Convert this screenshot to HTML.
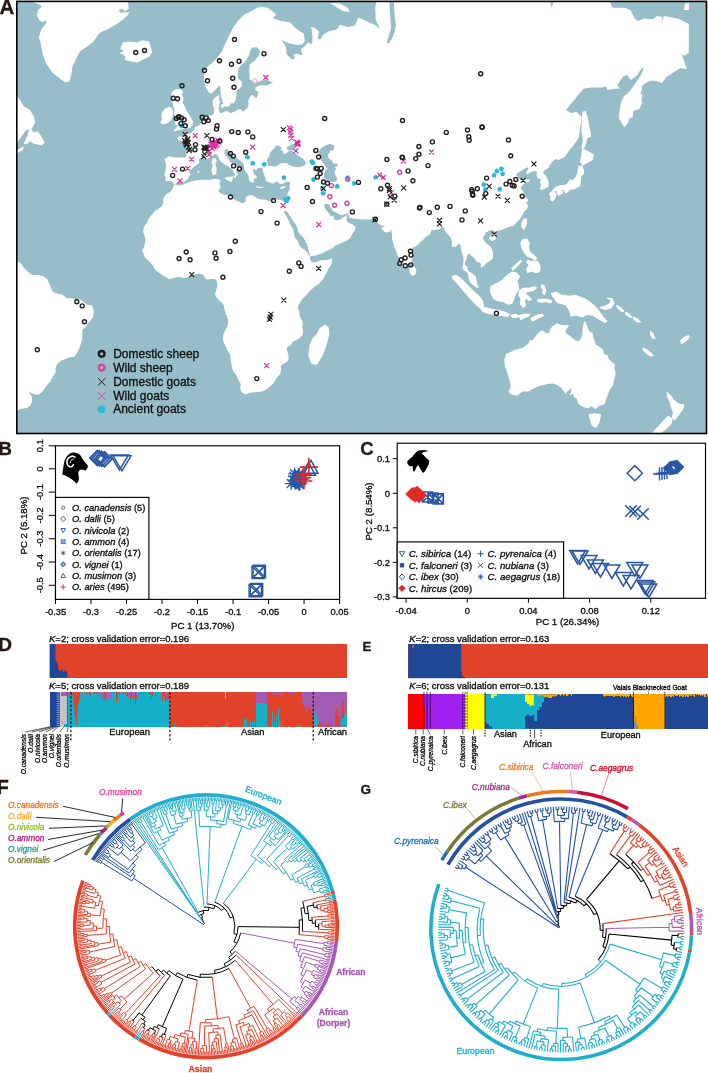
<!DOCTYPE html>
<html><head><meta charset="utf-8"><title>Figure</title>
<style>
html,body{margin:0;padding:0;background:#fff;}
svg{display:block;font-family:"Liberation Sans",Arial,Helvetica,sans-serif;}
text{fill:currentColor;stroke:currentColor;stroke-width:0.32px;}
</style></head><body>
<svg width="708" height="1073" viewBox="0 0 708 1073">
<rect width="708" height="1073" fill="#fff"/>
<defs><clipPath id="mapclip"><rect x="16.8" y="1.4" width="689.7" height="432.1"/></clipPath></defs>
<g clip-path="url(#mapclip)">
<rect x="16" y="1" width="691" height="433" fill="#97bdc9"/>
<path d="M209.6,93.3 206,88 204,79.7 204,71.1 208.2,66.3 213.7,61.4 217.9,57 222.1,51.1 224.8,44.4 227.6,38.8 230.4,33 233.1,27.8 238.7,20.1 244.2,14.5 251.1,11.2 256.7,7.8 262.2,6.9 267.8,7.8 273.3,12 276.1,14.5 273.3,18.5 281.6,20.9 289.9,22.4 296.8,29.3 303.8,33.8 304.9,41.6 307.6,42.3 312.1,44.4 312.6,37.4 311.5,28.6 310.1,27.1 314.9,27.8 319,31.6 317.6,38.8 320.4,39.5 323.2,34.5 328.7,31.6 337,29.3 339.8,24.8 348.1,27.1 355,25.5 357.8,18.5 359.2,17.7 367.5,21.7 373,24 375.8,25.5 379.9,29.3 375.8,20.1 375.2,7.8 377.2,-3.7 548.9,-3.7 551.7,7.8 555,-3.7 607.1,-3.7 612.6,7.8 625.1,7.8 630.6,10.3 634.8,18.5 637.6,20.9 644.5,18.5 652.8,19.3 656.9,16.1 662.5,16.9 661.1,24 663.9,16.1 669.4,16.9 677.7,18.5 683.3,20.9 688.8,24 688.8,52.4 684.6,55.7 681.9,54.4 686.9,69.3 680.5,68.1 673.6,72.2 666.6,76.9 661.9,83.1 655.6,80.8 650,80.8 645.9,83.1 642.5,85.2 641.7,90.6 640.3,94.3 642.5,94.3 641.2,100.9 642.5,102.4 638.9,109.3 633.4,110.7 632.8,116.8 629.2,118.7 627.9,123.2 624.3,127.2 618.5,117.5 619.8,110 621,102.5 624,96.2 629.8,91.2 636,82.5 641,75 643.5,68.8 642.2,67.5 637.2,75 631,80 627.2,75 623.5,76.2 617.2,85 619.8,88.8 613.5,88.8 607.2,90 606,86.2 602.2,87.5 591,87.5 583.5,88.8 577.2,96.2 571,103.8 566,110 571.1,113.1 576.6,112.1 581.6,116.4 581.3,121.4 580.2,126.7 579.4,133.2 578.8,137.5 573.8,144.9 568.3,151.6 565,156.7 558.6,160.1 555.6,158.9 552.2,162 549.7,164.9 548.4,167.9 543.7,171.1 543.1,173.3 545.9,175.8 547.3,178.3 548.6,182.8 548.6,186.2 547.5,187.6 543.9,188.9 540.6,190.3 540.1,187.9 540.9,184.5 539.8,181.4 541.2,179.3 537.8,178.3 536.5,175.8 537,172.2 534.8,170.8 530.9,171.9 527,174.4 526.2,172.2 528.7,168.2 527.6,167.2 524.8,168.6 521.5,170.8 517.1,173.3 516.2,175.1 518.4,177.6 520.1,179 519.8,180.4 522.6,179.3 526.5,179 529.5,179.7 529.5,181.4 525.4,182.8 523.4,184.1 521.2,186.9 520.7,188.9 523.4,191.3 524.8,194.6 525.4,197.2 527.9,198.8 527.9,201.4 525.4,202.7 527.6,204.3 527.9,206.9 526.8,209.1 524.5,211.3 522.6,214.4 521.5,216.9 519.8,219.3 517.3,221.8 514.8,224.2 512.9,226 508.8,226.9 506.5,228.1 504.6,228.4 501.8,229.9 499.1,230.5 496.3,231.1 496,233.8 494.3,233.8 494.3,230.8 492.1,230.2 489.4,230.5 486,232.6 485.2,234.4 483.5,236.4 483,238.8 484.9,241.4 487.4,244.3 490.2,246.3 492.1,249.5 493,253.8 493,258 490.7,260.3 488,262.3 486,263.1 485.2,265.1 481.9,267.3 480.5,267.3 481.1,264.2 479.7,262.5 476.9,262 475.5,260 474.1,257.7 471.4,256 469.7,254 468,253.8 467.2,255.7 466.9,258.6 465,262 465,265.6 466.9,265.9 467.5,268.1 468.6,271.2 470.8,272.3 473.3,274.3 475.8,276.5 476.6,280.4 476.9,283.7 478.8,287.3 477.4,287.9 474.1,286 471.1,283.5 469.1,280.4 468.3,276.2 467.8,273.5 465.8,271.5 462.8,269.5 462.5,266.5 463.3,263.7 463.6,258.9 463.3,256.6 461.9,252.9 461.1,249.5 460.6,245.2 458.9,243.7 457.5,244.9 454.7,247.2 451.7,246.6 452,242.3 451.1,238.5 449.2,235.5 447.3,234.1 445,231.1 444.2,227.8 441.2,227.2 440.3,229.3 436.7,229.6 434,229.9 431.2,230.5 430.6,233.5 428.4,235.2 425.6,237 422.9,239.9 420.1,242.3 418.2,244.6 415.4,246.6 412.6,247.7 412.1,250.9 412.6,254.6 411.8,258 411.5,262.5 409.9,263.1 409,265.3 407.4,266.5 406.5,268.1 404.9,269 402.9,267 401.3,263.7 399.9,259.4 397.7,255.7 396.3,251.5 394.6,248 393.2,243.7 392.1,238.5 391.9,234.9 391.6,231.4 391,228.7 390.2,231.4 388.3,232.3 385.5,232.6 381.9,229.6 381.3,227.8 384.9,226.3 384.1,225.7 380.8,225.4 379.1,223.9 377.2,223.3 375.8,220.6 374.4,218.7 369.4,219.3 363,219.6 359.2,219.3 353.6,218.7 349.5,217.8 348.1,214.4 346.7,213.2 346.6,215.6 346.7,218.1 346.4,219.9 347.3,221.8 349.5,223.3 352.5,224.2 355.8,227.5 354.5,230.8 352.5,233.8 350.3,237.9 346.7,240.8 343.4,242 339.8,243.7 335.1,245.7 331.5,248.9 326.2,250.9 321.8,253.5 314.9,255.7 310.7,256 310.1,256.9 309.9,259.1 312.1,262.3 314.9,262.5 320.4,260.6 326.5,260 332.3,258.3 332,262.3 330.9,265.6 328.1,269.3 325.9,274 323.2,279 319,283.7 315.7,286 310.7,290.1 307.9,292.9 305.2,296.2 303.2,298.1 301.3,300.4 299.9,302.9 298.5,305.6 297.7,308.4 299.3,310.7 299.3,313.7 299.9,316.5 301.8,320.2 302.7,322.2 302.4,327.3 303.2,332.1 302.4,335 300.4,337.6 296.8,339.9 292.7,341.9 290.8,344.8 288,346.6 286.6,348.1 287.7,352.5 288.5,355.5 288.5,359.7 287.1,361.8 283,364 280.8,365.8 281.3,369.2 280.2,373.9 277.5,376.8 275.8,379.3 273.9,382.5 270.5,386.1 267.5,388.4 263.6,391.1 261.1,391.7 256.7,392.1 251.4,392.4 245.6,394.4 242.6,393.1 241.2,391.4 240.1,387.8 240.9,384.2 238.1,379.6 235.9,374.2 233.1,370.8 232,367.4 231.2,363.1 230.4,357 229.8,354 227,349.5 224.8,344.5 222.9,340.2 222.9,336.4 224.3,332.1 227,327.3 228.4,322.2 227.6,317.9 226.5,315.7 225.1,310.9 224,308.1 224,305.4 222.1,303.1 219.3,300.4 216.5,297.6 214.9,294.3 216,291.5 216.5,288.7 217.3,286 217.3,282.6 216.5,280.7 214.9,279 212.4,279 209.6,279.3 206.8,279.6 204.9,277.6 202.7,274.3 199.6,273.7 195.7,274 193,275.1 188.8,276.8 184.7,278.2 181.9,277.4 177.7,277.1 173.6,277.9 169.4,279.3 165.3,277.1 160.3,273.7 157.5,271.5 154.7,269.3 153.4,266.5 151.4,263.7 148.6,260.8 145.3,258 143.7,254.3 142,250.3 143.7,248 144.5,245.2 145.6,240.8 145,236.4 143.1,232 143.7,228.1 145.9,223.9 148.1,220.6 150,216.6 152.8,213.8 154.5,211 158.3,209.1 161.9,206.2 163.3,203 163.1,199.5 164.4,196.6 167.2,193.6 169.4,192.6 171.4,190.9 173,187.6 173.9,185.2 174.7,184.3 172.7,182.4 170.8,180.4 168.3,181 165.5,181 165.8,177.6 164.2,175.1 165.3,172.2 165.8,168.6 166.1,164.9 165.5,162.3 164.4,159.3 167.2,157.4 168.3,156.3 172.2,157 176.3,157.4 180.5,157.4 185.2,157.8 186.3,155.5 186.9,151.6 187.2,148.5 186.6,146.5 184.4,144.1 183.3,142 180.5,140.8 177.7,140 176.9,137.9 179.1,136.6 181.9,136.2 184.7,137.1 186,136.6 185.5,132.8 186.9,132.8 187.4,134.1 190.5,133.2 193,131.1 194.6,129.4 194.9,127.2 197.1,126.3 199.9,125 201.3,122.3 203.2,118.2 205.4,116.4 209.6,115.4 212.4,115 214,113.1 214.3,108.8 212.9,105.9 212.6,100.9 214,97.9 217.3,95.9 219.6,94.8Z M32,1.5 37.5,3.8 42,6.2 38,10 36.8,15.5 39.5,20.5 43,22 46.2,20 45.8,23.8 41.2,29.5 38.8,37.5 40.8,43.8 42.5,53.8 46.2,63.8 52.5,72.5 60,78.8 65.5,82.5 69.5,81.2 71.2,75 72.5,66.2 76.2,58.8 80,51.2 87.5,46.2 93.8,41.2 98.8,33.8 102.5,31.2 108.8,28.8 115,25 122.5,20 127.5,15.5 129.5,12 126.2,12.5 120,12.5 118.8,10 122.5,8.8 125,11.2 128.8,8.8 128,1.5Z M123.2,43 130,42 136.2,43 142.5,40.8 148.8,42 150,46.2 151.8,51.2 149.2,56.2 143.8,58.8 137.5,62 130,60.8 125,59.5 126.2,56.2 120.5,53 125,51.2 120.8,48.8Z M14,96.25 17,96.25 20,100 23.75,106.25 30,110 33.75,116.25 35,122.5 32,128.75 26.25,130 22.5,135 18.75,140 17,143.75 14,143.75Z M23.75,143.75 27,136.25 30,127.5 33.75,132.5 37.5,131.25 41.25,136.25 44.5,142.5 42,145.5 37.5,144.5 33.75,143.75 30,141.25 26.25,144.5Z M14,150 17,150 23.75,146.25 23,150 17.5,153 14,153Z M172.6,91.2 176.1,89.1 180.4,89.1 183.2,91.2 181.8,94.7 183.9,98.2 182.5,102.5 184.6,106 186.7,111 189.5,115.2 191.7,118.7 193.1,122.3 192.4,125.8 190.3,127.9 187.4,128.6 183.2,129.3 179,130 175.4,131.4 173.3,130.7 176.1,127.9 178.2,125.8 175.4,124.4 174.7,121.6 176.1,118 174,113.8 174.7,110.3 173.3,106.7 172.6,102.5 171.9,97.5 171.2,94Z M162,112.4 164.8,108.8 169.1,106.7 171.9,108.1 173.3,111.7 172.6,115.9 171.2,120.1 167.7,123 163.4,124.4 160.2,123 162,119.4 161.3,115.9Z M330,3 339.5,3.5 347.5,7.5 350,11.8 344,11.5 337,7.5Z M684.8,3.8 689,3 689,10 684,10Z M12.9,260.8 18.5,261.7 21.2,263.7 24,267.9 28.2,272.1 32.3,274.9 37.8,275.1 43.4,276.2 47.5,279.6 50.3,286 51.7,290.1 53.1,292.1 57.2,293.4 62.8,294.8 66.9,298.4 71.1,298.1 75.2,299.5 79.4,299.3 83.6,301.8 87.2,304.8 91.9,305.6 93.2,308.1 93.8,312.3 93.2,316.5 90.5,320.7 87.7,323.6 85.5,327.3 82.7,329.2 82.2,333.5 82.2,339.3 80.8,343.7 79.4,348.1 77.2,352.5 75.2,355.5 73.9,357 69.7,357.3 65.5,359.1 61.4,360.6 57.2,364 55.6,367.7 55.6,372.3 53.1,376.1 50.3,381.2 47.5,384.5 45.3,387.4 42,391.7 39.2,394.4 35.1,394.4 32.3,393.4 28.4,391.7 31.8,396.8 32.3,400.2 30.6,405.4 26.8,407.9 19.8,409 17.6,410.8 12.9,415.5Z M319.5,328.3 325.1,324.6 328.5,326.9 329.4,334 326.6,345.3 322.3,356.6 316.7,365 311,363.6 308.2,355.1 309.6,345.3 312.4,338.2 316.7,334Z M409.8,267.1 413.2,266.3 415.8,269.7 415.4,273.9 412.4,275.6 410.3,273.1Z M582.3,148.8 586.6,150.8 593.3,154.6 592.6,159.6 587.3,162.4 582.8,165.2 580.5,161.4 582,154.6Z M581.6,165.3 583.5,170.4 583.3,174 580.8,176.5 580.5,181 579.9,184.5 580.2,185.5 578,187.2 577.4,186.9 574.4,188.9 569.7,189.2 569.1,190.3 566.4,192.9 564.4,191.6 564.7,189.2 561.4,189.2 557.2,190.6 553.1,191.3 552.8,190.3 555.8,187.2 559.4,185.9 564.1,185.5 566.9,184.5 568.9,181.7 570.5,179.3 569.7,181.7 573.8,179.7 576.3,176.9 577.7,172.9 578,170.4 578.8,166 580.5,166.8Z M552.8,191.6 555,192.6 555.8,195.2 554.2,199.8 552.2,201.1 550.9,200.1 550.9,196.2 549.5,194.6 550.3,192.6Z M582.3,111.9 585.8,110.6 587.8,118.1 589.8,128.2 591.1,137 587.3,138.3 585.8,144.5 584,148.8 581.5,147.6 582.8,139.5 581.3,130.7 581.8,120.7Z M490.3,236.3 494.6,235.4 495.4,238.8 492,240.5 489.5,238.8Z M524.2,218.5 526.8,219.3 526.3,224.4 523.9,229.5 521.7,226.9 522.2,221.9Z M522.5,239.7 526.8,238.8 529.3,243.1 528.5,248.1 530.2,252.4 533.6,254.9 536.9,258.3 535.3,260 531,257.5 527.6,256.6 524.2,252.4 521.7,247.3 520.8,243.1Z M527.6,260 531,261.7 534.4,260.8 537.8,261.7 540.3,266.8 539.5,271.9 535.3,272.7 531,271 527.6,272.7 526.8,268.5 529.3,265.1 526.8,262.5Z M511.5,268.5 520.8,260 521.7,261.4 513.2,270.2Z M451.9,276.3 456.1,275.4 460.3,278 465.4,283.1 470.5,288.1 474.7,292.4 479,295.8 482.4,300.8 483.7,306.8 480.7,308.5 476.4,305.1 472.2,300.8 467.1,294.9 462,289 456.9,283.1 453.6,279.7Z M480.7,308.5 484.9,307.6 490.8,309 497.6,310.2 504.4,311.9 509.5,314.4 507.8,316.4 501,315.3 494.2,314.4 488.3,313.6 483.2,311.9Z M511.2,315.3 515.4,314.4 519.7,315.8 516.3,317.5 512,316.9Z M519.7,315.3 524.7,314.1 529.8,314.1 529,316.1 523.9,317.8 521,319.8 519.7,317.8Z M530.7,318.6 536.6,315.3 542.5,314.1 543.4,315.8 537.5,318.6 532.4,321.2Z M490.8,286.4 495.9,283.9 501.9,280.5 506.9,275.4 512,272 516.3,272.9 519.7,276.3 517.1,280.5 518,285.6 518.8,289.8 515.4,294.1 513.7,299.2 512,303.4 507.8,304.2 503.6,301.7 498.5,300.8 494.2,299.2 491.7,294.9 490.3,290.7Z M519.7,290.7 523.1,288.1 529.8,288.1 534.9,286.4 536.6,288.1 533.2,290.7 528.1,291.5 524.7,293.2 528.1,295.8 531.5,299.2 529,300.8 526.4,298.3 524.4,300.8 525.6,305.9 523.1,307.6 520.5,304.2 521,299.2 518.8,294.9Z M541.7,284.7 544.2,285.6 545.9,290.7 544.2,294.9 542.5,292.4 543.4,289.8 541.4,288.1Z M537.5,300 541.7,299.2 546.8,299.2 551.9,300.8 551,302.9 545.9,301.7 540.8,302.2 538,301.7Z M551,293.8 556,292 561,295 568.5,296.2 576,295.5 584.8,298.8 592.2,303.8 597.2,308.8 599.8,312.5 603.5,317.5 607.2,321.2 604.8,322.5 598.5,318.8 592.2,315 587.2,314.5 582.2,317 576,315 571,316.2 569.8,311.2 566,305 562.2,303.8 557.2,302.5 553.5,297.5Z M599.8,307.5 604.8,306.2 609.8,303.8 611,300 607.2,298 612.2,298.8 614,303.8 611,308 604.8,309.5Z M616.5,305.5 621,307.5 624,311.2 621,311.2 618,308.8Z M625.5,312 629.8,314.5 632.2,317.5 629,317 626,314.5Z M633,317 637.2,318.8 640.5,322 637.2,322 634,319.5Z M650.5,331.2 653,333.8 654.8,338.8 652.2,338 650.5,334.5Z M643,348 646.5,349.5 651,353 653.5,355.5 650.5,356.2 646,353 643,350Z M680.5,340.5 684,337.5 688.5,335.5 689,338 685.5,341.2 681.5,343.8Z M506.3,353.4 504.6,358.5 504.3,361.5 505.1,367 506.5,370.8 508.5,377.1 510.1,381.9 510.7,386.8 508.8,390.4 509,393.1 512.9,395.1 517.1,395.4 522.6,391.4 528.1,391.4 533.7,388.4 539.2,386.1 544.8,384.8 548.9,383.8 553.1,383.5 557.2,385.1 561.4,387.8 565.5,394.1 566.9,391.7 571.1,388.4 571.9,387.1 571.1,391.7 569.7,395.8 573.3,393.4 573.8,397.1 576.6,398.5 578,403 580.8,405.8 584.9,407.6 588.5,408.3 591.3,406.1 593.2,407.6 595.7,409.3 598.8,406.1 604.3,404.4 605.7,400.2 607.9,395.1 609.3,390.7 612.6,385.8 614,380.3 615.7,373.9 614.6,369.2 614.6,364.6 611.2,361.5 608.5,358.5 607.9,355.5 604.3,354 602.9,349.5 598.8,346.3 595.5,344.5 594.6,340.7 593,336.4 592.7,333 589.1,331.5 587.7,327.3 585.8,322.2 584.9,321.3 583.5,323.6 582.7,327.3 582.4,330.7 582.2,335 580.5,339.3 578,341.3 575.2,340.2 572.5,338.1 569.7,335.8 566.4,333.5 565.5,330.7 566.9,328.4 569.1,325.6 566.9,325 564.1,325.3 560,324.4 557.2,323 554.5,325 552.5,326.1 550.3,329.2 548.9,333.2 546.1,333 543.4,330.7 540.6,330.7 537.8,333.5 535.1,337 532.3,340.2 529,340.7 528.7,343.1 526.8,345.1 522.6,347.8 518.4,348.9 514.3,350.1 510.1,352.2 507.6,353.4Z M589,414.5 594.8,413.8 600.5,414.5 599,422.5 596,427.5 592.2,425.5 590.5,420Z M667.2,392.5 670.5,395 673.5,400 678.5,403.8 684,405 682.2,410 678.5,415 674.8,420 672.2,417.5 673.5,412.5 671.5,407.5 669.8,401.2 667.2,396.2Z M668,416.2 672.2,418.8 671,423.8 666,428.8 661,432.5 657.2,435 650.5,435 656,428.8 661,423.8 664.8,419.5Z M557.2,191.3 561.4,190.3 563.3,191.9 561.9,193.6 558.6,195.2 556.9,193.6Z" fill="#fff"/>
<path d="M581.6,165.3 583.5,170.4 583.3,174 580.8,176.5 580.5,181 579.9,184.5 580.2,185.5 578,187.2 577.4,186.9 574.4,188.9 569.7,189.2 569.1,190.3 566.4,192.9 564.4,191.6 564.7,189.2 561.4,189.2 557.2,190.6 553.1,191.3 552.8,190.3 555.8,187.2 559.4,185.9 564.1,185.5 566.9,184.5 568.9,181.7 570.5,179.3 569.7,181.7 573.8,179.7 576.3,176.9 577.7,172.9 578,170.4 578.8,166 580.5,166.8Z M552.8,191.6 555,192.6 555.8,195.2 554.2,199.8 552.2,201.1 550.9,200.1 550.9,196.2 549.5,194.6 550.3,192.6Z M557.2,191.3 561.4,190.3 563.3,191.9 561.9,193.6 558.6,195.2 556.9,193.6Z M451.9,276.3 456.1,275.4 460.3,278 465.4,283.1 470.5,288.1 474.7,292.4 479,295.8 482.4,300.8 483.7,306.8 480.7,308.5 476.4,305.1 472.2,300.8 467.1,294.9 462,289 456.9,283.1 453.6,279.7Z M480.7,308.5 484.9,307.6 490.8,309 497.6,310.2 504.4,311.9 509.5,314.4 507.8,316.4 501,315.3 494.2,314.4 488.3,313.6 483.2,311.9Z M490.8,286.4 495.9,283.9 501.9,280.5 506.9,275.4 512,272 516.3,272.9 519.7,276.3 517.1,280.5 518,285.6 518.8,289.8 515.4,294.1 513.7,299.2 512,303.4 507.8,304.2 503.6,301.7 498.5,300.8 494.2,299.2 491.7,294.9 490.3,290.7Z M519.7,290.7 523.1,288.1 529.8,288.1 534.9,286.4 536.6,288.1 533.2,290.7 528.1,291.5 524.7,293.2 528.1,295.8 531.5,299.2 529,300.8 526.4,298.3 524.4,300.8 525.6,305.9 523.1,307.6 520.5,304.2 521,299.2 518.8,294.9Z M522.5,239.7 526.8,238.8 529.3,243.1 528.5,248.1 530.2,252.4 533.6,254.9 536.9,258.3 535.3,260 531,257.5 527.6,256.6 524.2,252.4 521.7,247.3 520.8,243.1Z M527.6,260 531,261.7 534.4,260.8 537.8,261.7 540.3,266.8 539.5,271.9 535.3,272.7 531,271 527.6,272.7 526.8,268.5 529.3,265.1 526.8,262.5Z M511.5,268.5 520.8,260 521.7,261.4 513.2,270.2Z M541.7,284.7 544.2,285.6 545.9,290.7 544.2,294.9 542.5,292.4 543.4,289.8 541.4,288.1Z M537.5,300 541.7,299.2 546.8,299.2 551.9,300.8 551,302.9 545.9,301.7 540.8,302.2 538,301.7Z M530.7,318.6 536.6,315.3 542.5,314.1 543.4,315.8 537.5,318.6 532.4,321.2Z M511.2,315.3 515.4,314.4 519.7,315.8 516.3,317.5 512,316.9Z M519.7,315.3 524.7,314.1 529.8,314.1 529,316.1 523.9,317.8 521,319.8 519.7,317.8Z M667.2,392.5 670.5,395 673.5,400 678.5,403.8 684,405 682.2,410 678.5,415 674.8,420 672.2,417.5 673.5,412.5 671.5,407.5 669.8,401.2 667.2,396.2Z M668,416.2 672.2,418.8 671,423.8 666,428.8 661,432.5 657.2,435 650.5,435 656,428.8 661,423.8 664.8,419.5Z M599.8,307.5 604.8,306.2 609.8,303.8 611,300 607.2,298 612.2,298.8 614,303.8 611,308 604.8,309.5Z M616.5,305.5 621,307.5 624,311.2 621,311.2 618,308.8Z M625.5,312 629.8,314.5 632.2,317.5 629,317 626,314.5Z M633,317 637.2,318.8 640.5,322 637.2,322 634,319.5Z M643,348 646.5,349.5 651,353 653.5,355.5 650.5,356.2 646,353 643,350Z M650.5,331.2 653,333.8 654.8,338.8 652.2,338 650.5,334.5Z M680.5,340.5 684,337.5 688.5,335.5 689,338 685.5,341.2 681.5,343.8Z M524.2,218.5 526.8,219.3 526.3,224.4 523.9,229.5 521.7,226.9 522.2,221.9Z M490.3,236.3 494.6,235.4 495.4,238.8 492,240.5 489.5,238.8Z M551,293.8 556,292 561,295 568.5,296.2 576,295.5 584.8,298.8 592.2,303.8 597.2,308.8 599.8,312.5 603.5,317.5 607.2,321.2 604.8,322.5 598.5,318.8 592.2,315 587.2,314.5 582.2,317 576,315 571,316.2 569.8,311.2 566,305 562.2,303.8 557.2,302.5 553.5,297.5Z M409.8,267.1 413.2,266.3 415.8,269.7 415.4,273.9 412.4,275.6 410.3,273.1Z M123.2,43 130,42 136.2,43 142.5,40.8 148.8,42 150,46.2 151.8,51.2 149.2,56.2 143.8,58.8 137.5,62 130,60.8 125,59.5 126.2,56.2 120.5,53 125,51.2 120.8,48.8Z M582.3,148.8 586.6,150.8 593.3,154.6 592.6,159.6 587.3,162.4 582.8,165.2 580.5,161.4 582,154.6Z M589,414.5 594.8,413.8 600.5,414.5 599,422.5 596,427.5 592.2,425.5 590.5,420Z" fill="#fff" stroke="#fff" stroke-width="1" stroke-linejoin="round"/>
<path d="M209.6,93.3 212.4,92.7 215.1,90.1 217.1,88 219.3,85.2 220.4,87.4 220.4,90.6 220.7,93.3 221.2,96.4 222.3,100.9 223.2,103.4 224.3,106.4 229.5,106.4 229.8,103.4 234,102.9 235.6,99.9 236.5,94.8 236.7,90.1 239.5,88.5 242.3,85.2 241.7,81.4 238.1,78.6 237.8,72.8 238.7,68.1 241.4,65.1 245.6,60.7 248.9,55.7 250,51.1 251.7,47.8 256.7,47.1 260.3,51.1 258.6,56.3 254.5,60.7 249.8,64.5 249.2,71.1 249.8,75.7 249.5,79.1 252.5,81.4 253.9,83.1 258.1,81.9 262.2,80.3 267.2,79.7 270.5,81.4 273.3,82.8 270.5,83.6 267.8,85.2 262.2,85.2 258.6,85.8 255.3,87.4 255.3,90.1 258.1,91.7 257.5,95.9 256.7,97.9 254.5,96.9 252.8,94.8 250.3,95.9 248.4,99.9 248.6,104.9 247.5,107.8 245.3,109.8 243.7,111.2 242,111.2 241.2,109.3 237.3,109.8 234.5,111.7 230.4,113.1 227.6,111.2 224.8,111.2 222.1,113.1 220.4,113.1 219,110.7 218.5,108.8 219.3,105.9 219.3,103.4 220.1,101.4 219,99.9 219.3,97.4 219.6,94.7Z M304.9,40.9 302.4,44.4 296.8,45.1 288.5,43 281.6,40.2 280.2,38.1 283.5,43 286,47.1 286.6,53.7 288.5,56.3 292.1,59.5 294.9,58.2 293.5,54.4 296.8,53.7 300.4,55 302.4,55 301,49.1 305.4,45.7 307.6,42.3 306.5,38.8Z M389.1,-3.7 393.5,-3.7 394.6,16.1 396,25.5 394.6,31.6 391.9,38.8 388.5,43.7 386.6,42.3 389.1,35.2 391,27.8 390.2,16.1 389.6,7.8Z M174.7,184.5 175.5,183.8 178,182.1 181.9,182.1 184.1,182.1 185.8,180 188,179 188.8,176.5 190.8,175.1 189.4,172.2 190.8,169.7 192.7,167.9 194.4,166.4 196.3,165.3 199.1,163.5 199.3,162 198.5,160.1 199.9,158.2 201.8,157.4 205.2,158.2 206.8,158.9 208.8,158.6 210.4,156.7 212.9,155.5 214.9,154 217.3,155.1 218.7,157.4 219.3,159.7 220.9,161.6 224,163.8 226.2,165.7 228.4,166 229.5,167.5 231.2,168.2 232.6,170.4 233.7,172.2 234.8,174 234.5,175.8 233.7,177.6 234.8,177.9 235.9,176.5 237.8,174 236.2,171.5 237,169 238.1,168.6 240.1,170.4 241.2,171.1 241.4,170.1 240.1,168.2 237,166.4 234.5,164.9 235.1,163.5 232.3,163.5 229.5,161.2 227.9,157.4 225.1,155.1 224.3,153.6 224.8,151.6 224.3,150.1 226.2,148.9 228.4,149.3 227.6,152 229.8,150.4 231.8,153.6 233.1,155.9 235.6,157.4 238.7,159.3 240.9,161.2 242.8,162.7 244.2,164.9 243.9,169 245.6,171.5 247.5,174 248.9,176.5 248.6,179 250.3,181.7 252.2,182.8 253.4,181.7 254.5,183.1 253.6,179.7 255.3,177.9 256.7,178.6 256.7,176.5 253.9,174 253.4,172.2 252.8,169.3 253.9,169 256.1,170.4 257.5,168.2 260.8,167.5 262.8,168.6 262.8,170.4 262.8,172.2 264.4,174 264.4,176.1 265.5,178.3 266.1,181 268.3,182.1 270.8,182.8 272.5,183.8 274.7,182.8 275.5,181.4 277.5,182.1 279.7,183.8 281.6,184.1 284.4,183.1 286.6,181.7 289.4,182.1 290.2,183.5 289.4,186.2 289.6,188.9 288.5,191.6 287.1,195.2 286.3,197.9 285.2,199.8 283,200.8 279.7,200.1 277.5,199.5 274.7,199.5 273,200.5 269.1,201.1 265.5,199.8 260,199.2 256.7,197.9 254.5,196.2 251.1,194.9 248.4,195.6 245.6,197.5 245.6,201.1 244.2,203 241.4,203 238.7,201.4 235.9,200.5 233.1,198.5 232,196.6 229,195.6 226.8,194.9 223.4,194.6 220.7,193.3 218.5,191.6 218.5,189.9 220.4,188.2 220.4,185.9 219.3,183.8 220.7,180.4 218.7,179.3 216.5,179 213.7,179.3 209.6,179.7 204,179.7 198.5,180 194.4,180.7 190.2,181.7 187.4,182.8 183.3,184.5 179.1,185.5 175.5,184.8 174.7,184.7Z M267.8,166 270.5,166 274.7,166.4 277.5,165.7 280.2,163.5 283,163.1 287.1,163.1 287.7,164.2 291.3,165.7 294.1,166.8 296.8,167.2 301,166.8 305.2,164.9 305.7,162 303.8,159.3 299.6,156.7 296.8,154.4 294.1,152.8 291.9,150.8 288.5,151.2 287.7,152.4 284.4,154 283,153.2 283,150.8 280.2,150.1 282.2,147.7 278.8,145.7 276.1,145.3 274.7,147.7 272.5,150.1 270,152.4 269.4,156.3 267.5,158.6 266.9,161.2 267.8,163.5Z M291.9,150.4 294.1,150.1 295.5,147.7 298.2,143.7 296,143.2 292.7,144.1 289.9,145.3 287.1,146.9 287.1,149.3 288.5,150.4Z M318.7,151.6 321.5,147.7 325.7,145.3 330.1,144.1 334.2,145.3 333.7,150.1 329.8,150.8 329.3,153.6 327.6,154.4 328.7,158.6 331.5,160.1 333.4,163.5 337.6,163.8 337.6,166.4 334.2,166.8 336.5,168.6 334.8,170.4 334.8,174 336.7,177.6 337,180.4 334.8,181.7 330.9,182.1 327,179.7 324.3,179 324,176.1 324.3,172.9 325.4,169.7 327.9,169 325.7,166.8 323.7,163.8 320.9,160.1 319.8,157.4 320.1,154.4 318.2,153.2Z M283.8,211 285.8,211 287.7,212.5 290.8,216.9 293,220.9 296,224.5 297.7,229 298,232 300.7,234.9 303.2,237.6 305.7,241.4 307.4,245.2 308.5,249.5 309.6,253.8 310.4,256 309.9,256.3 309,254.9 307.1,252 304.3,249.8 301.6,248 299.9,246.6 298.8,243.7 297.4,240.2 294.9,237.9 294.1,234.6 293.8,231.1 293,228.7 289.9,224.2 289.1,221.8 286.9,217.2 284.7,213.5Z M346.4,213.5 343.9,214.4 341.2,215 338.4,214.1 335.6,212.2 332.9,211 330.9,207.8 329.3,204.6 327.3,204 325.4,203.7 324.3,205 324.3,206.6 325.4,208.8 326.8,211 328.4,212.8 329.8,214.1 330.4,215.6 330.9,217.2 331.5,216.3 332.3,215.3 333.4,216.6 333.7,218.7 335.3,219.9 337.6,219.9 339.8,219.6 341.4,218.7 343.4,217.2 345.3,216 346.2,215.3 346.7,214.6 348.1,215.6 347.8,213.8Z" fill="#97bdc9"/>
<path d="M224.8,177.6 227.3,176.9 233.4,176.5 232.3,180 232,182.1 230.1,181.4 226.2,179.7 224.8,178.6Z M212.5,158.5 215.5,158 216.6,161 215.4,164.3 216.6,168 216.4,173.5 214.5,175.2 212,174.2 211.4,170 212.6,165.8 211.5,162Z M255.6,186.2 258.1,186.5 260.8,186.9 263.1,187.2 262.8,187.9 259.4,188.1 256.7,187.2 255.6,186.9Z M279.7,187.9 281.6,186.7 285.8,185.7 284.4,187.9 281.6,189.1 279.9,188.7Z M196.8,171.9 199.1,170.6 199.6,171.9 198.5,172.9Z M221.2,104.4 223.7,103.9 224,106.4 222.6,108.3 220.9,106.9Z" fill="#fff"/>
</g>
<text x="-1.8" y="454.6" font-size="19" font-weight="bold" color="#231815">B</text>
<rect x="55.5" y="445.8" width="284.1" height="153.6" fill="#fff" stroke="#000" stroke-width="1.15"/>
<text x="55.5" y="614.6" font-size="9.3" text-anchor="middle" color="#0d0d0d">-0.35</text>
<text x="91.01" y="614.6" font-size="9.3" text-anchor="middle" color="#0d0d0d">-0.3</text>
<text x="126.52" y="614.6" font-size="9.3" text-anchor="middle" color="#0d0d0d">-0.25</text>
<text x="162.03" y="614.6" font-size="9.3" text-anchor="middle" color="#0d0d0d">-0.2</text>
<text x="197.54" y="614.6" font-size="9.3" text-anchor="middle" color="#0d0d0d">-0.15</text>
<text x="233.05" y="614.6" font-size="9.3" text-anchor="middle" color="#0d0d0d">-0.1</text>
<text x="268.56" y="614.6" font-size="9.3" text-anchor="middle" color="#0d0d0d">-0.05</text>
<text x="304.07" y="614.6" font-size="9.3" text-anchor="middle" color="#0d0d0d">0</text>
<text x="339.58" y="614.6" font-size="9.3" text-anchor="middle" color="#0d0d0d">0.05</text>
<text x="43.3" y="445.8" font-size="9.3" text-anchor="middle" color="#0d0d0d" transform="rotate(-90 43.3 445.8)">0.1</text>
<text x="43.3" y="468.8" font-size="9.3" text-anchor="middle" color="#0d0d0d" transform="rotate(-90 43.3 468.8)">0</text>
<text x="43.3" y="492.1" font-size="9.3" text-anchor="middle" color="#0d0d0d" transform="rotate(-90 43.3 492.1)">-0.1</text>
<text x="43.3" y="515.4" font-size="9.3" text-anchor="middle" color="#0d0d0d" transform="rotate(-90 43.3 515.4)">-0.2</text>
<text x="43.3" y="538.7" font-size="9.3" text-anchor="middle" color="#0d0d0d" transform="rotate(-90 43.3 538.7)">-0.3</text>
<text x="43.3" y="562" font-size="9.3" text-anchor="middle" color="#0d0d0d" transform="rotate(-90 43.3 562)">-0.4</text>
<text x="43.3" y="585.3" font-size="9.3" text-anchor="middle" color="#0d0d0d" transform="rotate(-90 43.3 585.3)">-0.5</text>
<path d="M55.5,599.4v4.6M91.01,599.4v4.6M126.52,599.4v4.6M162.03,599.4v4.6M197.54,599.4v4.6M233.05,599.4v4.6M268.56,599.4v4.6M304.07,599.4v4.6M339.58,599.4v4.6M55.5,445.8h-6.8M55.5,468.8h-6.8M55.5,492.1h-6.8M55.5,515.4h-6.8M55.5,538.7h-6.8M55.5,562h-6.8M55.5,585.3h-6.8" stroke="#000" stroke-width="1" fill="none"/>
<text x="26.5" y="525.5" font-size="9.7" text-anchor="middle" color="#0d0d0d" transform="rotate(-90 26.5 525.5)">PC 2 (5.18%)</text>
<text x="202.7" y="628.9" font-size="9.7" text-anchor="middle" color="#0d0d0d">PC 1 (13.70%)</text>
<path d="M72.8,452.6 C74.5,452.4 76,452.7 77.3,453.3 C78.6,453.8 79.7,454.5 80.4,455.2 C81,456 81.4,456.9 81.7,457.7 L84.9,462.2 L87.7,465.3 C88,466.5 87.7,467.6 87.1,468.5 C86.7,469.4 86.2,470 85.5,470.4 C84.3,470.3 83.3,469.9 82.3,469.5 C81.2,469.6 80.1,469.9 79.2,470.4 C78.6,471.2 78.3,472.1 78.2,473 L78.8,476.8 C78.9,478.2 78.8,479.4 78.5,480.6 C78.1,481.9 77.5,483 76.6,483.8 L73.4,480.6 L69,477.4 L65.2,475.5 L62.3,474.6 L62.9,470.4 L63.6,465.3 C63.8,463.7 64.1,462.2 64.5,460.9 C65,459.5 65.6,458.2 66.4,457.1 C67.1,456 68,455 69,454.2 C70.1,453.3 71.4,452.8 72.8,452.6Z" fill="#000"/><path d="M75.6,457.3 C71.8,455 66.6,457.3 66.9,462.2 C67.2,467.2 72.6,468.6 73.6,463.9" fill="none" stroke="#fff" stroke-width="1.5"/><path d="M74.3,458.9 C71.8,459 70.2,460.8 70.2,463.2" fill="none" stroke="#fff" stroke-width="0.9"/>
<path d="M97.3,450.5L104.8,458L97.3,465.5L89.8,458Z" fill="none" stroke="#2a57a5" stroke-width="1.7"/>
<path d="M99.3,450.8L106.8,458.3L99.3,465.8L91.8,458.3Z" fill="none" stroke="#2a57a5" stroke-width="1.7"/>
<path d="M101.8,451.3L109.3,458.8L101.8,466.3L94.3,458.8Z" fill="none" stroke="#2a57a5" stroke-width="1.7"/>
<path d="M104.5,451.7L112,459.2L104.5,466.7L97,459.2Z" fill="none" stroke="#2a57a5" stroke-width="1.7"/>
<circle cx="100" cy="458.5" r="3.2" fill="none" stroke="#2a57a5" stroke-width="1.2"/>
<path d="M110.5,455L128.5,455L119.5,470Z" fill="none" stroke="#2a57a5" stroke-width="1.5"/>
<path d="M113,455.8L131,455.8L122,470.8Z" fill="none" stroke="#2a57a5" stroke-width="1.5"/>
<path d="M287.556,480.031h12.6M293.856,473.731v12.6M289.401,475.576l8.90946,8.90946M298.31,475.576l-8.90946,8.90946" fill="none" stroke="#2a57a5" stroke-width="1.3"/>
<path d="M289.139,480.747h12.6M295.439,474.447v12.6M290.985,476.292l8.90946,8.90946M299.894,476.292l-8.90946,8.90946" fill="none" stroke="#2a57a5" stroke-width="1.3"/>
<path d="M292.209,474.286h12.6M298.509,467.986v12.6M294.054,469.832l8.90946,8.90946M302.963,469.832l-8.90946,8.90946" fill="none" stroke="#2a57a5" stroke-width="1.3"/>
<path d="M284.858,483.55h12.6M291.158,477.25v12.6M286.703,479.095l8.90946,8.90946M295.613,479.095l-8.90946,8.90946" fill="none" stroke="#2a57a5" stroke-width="1.3"/>
<path d="M287.812,476.312h12.6M294.112,470.012v12.6M289.658,471.857l8.90946,8.90946M298.567,471.857l-8.90946,8.90946" fill="none" stroke="#2a57a5" stroke-width="1.3"/>
<path d="M296.648,479.143h12.6M302.948,472.843v12.6M298.493,474.688l8.90946,8.90946M307.402,474.688l-8.90946,8.90946" fill="none" stroke="#2a57a5" stroke-width="1.3"/>
<path d="M294.738,479.216h12.6M301.038,472.916v12.6M296.583,474.762l8.90946,8.90946M305.492,474.762l-8.90946,8.90946" fill="none" stroke="#2a57a5" stroke-width="1.3"/>
<path d="M292.369,475.307h12.6M298.669,469.007v12.6M294.214,470.853l8.90946,8.90946M303.124,470.853l-8.90946,8.90946" fill="none" stroke="#2a57a5" stroke-width="1.3"/>
<path d="M292.318,483.917h12.6M298.618,477.617v12.6M294.164,479.462l8.90946,8.90946M303.073,479.462l-8.90946,8.90946" fill="none" stroke="#2a57a5" stroke-width="1.3"/>
<path d="M290.978,482.395h12.6M297.278,476.095v12.6M292.823,477.94l8.90946,8.90946M301.733,477.94l-8.90946,8.90946" fill="none" stroke="#2a57a5" stroke-width="1.3"/>
<path d="M292.757,474.268h12.6M299.057,467.968v12.6M294.602,469.814l8.90946,8.90946M303.512,469.814l-8.90946,8.90946" fill="none" stroke="#2a57a5" stroke-width="1.3"/>
<path d="M293.799,480.593h12.6M300.099,474.293v12.6M295.644,476.138l8.90946,8.90946M304.553,476.138l-8.90946,8.90946" fill="none" stroke="#2a57a5" stroke-width="1.3"/>
<path d="M288.315,473.872h12.6M294.615,467.572v12.6M290.16,469.417l8.90946,8.90946M299.07,469.417l-8.90946,8.90946" fill="none" stroke="#2a57a5" stroke-width="1.3"/>
<path d="M295.086,479.173h12.6M301.386,472.873v12.6M296.932,474.718l8.90946,8.90946M305.841,474.718l-8.90946,8.90946" fill="none" stroke="#2a57a5" stroke-width="1.3"/>
<path d="M293.326,484.046h12.6M299.626,477.746v12.6M295.171,479.591l8.90946,8.90946M304.081,479.591l-8.90946,8.90946" fill="none" stroke="#2a57a5" stroke-width="1.3"/>
<path d="M293.27,484.553h12.6M299.57,478.253v12.6M295.115,480.098l8.90946,8.90946M304.024,480.098l-8.90946,8.90946" fill="none" stroke="#2a57a5" stroke-width="1.3"/>
<path d="M289.44,483.111h12.6M295.74,476.811v12.6M291.285,478.656l8.90946,8.90946M300.194,478.656l-8.90946,8.90946" fill="none" stroke="#2a57a5" stroke-width="1.3"/>
<path d="M304,473.333L318,473.333L311,460.333Z" fill="none" stroke="#2a57a5" stroke-width="1.5"/>
<path d="M301.5,475.333L315.5,475.333L308.5,462.333Z" fill="none" stroke="#2a57a5" stroke-width="1.5"/>
<path d="M295.2,474.5h16.6M303.5,466.2v16.6" fill="none" stroke="#e22a24" stroke-width="1.6"/>
<path d="M294.7,477.8h16.6M303,469.5v16.6" fill="none" stroke="#e22a24" stroke-width="1.6"/>
<path d="M299.5,467.1h18.6M308.8,457.8v18.6" fill="none" stroke="#e22a24" stroke-width="1.6"/>
<path d="M295.7,481h16.6M304,472.7v16.6" fill="none" stroke="#e22a24" stroke-width="1.6"/>
<path d="M253.1,565.2h12.4v12.4h-12.4ZM253.1,565.2l12.4,12.4M265.5,565.2l-12.4,12.4" fill="none" stroke="#2a57a5" stroke-width="1.4"/>
<path d="M252,566.2h12.4v12.4h-12.4ZM252,566.2l12.4,12.4M264.4,566.2l-12.4,12.4" fill="none" stroke="#2a57a5" stroke-width="1.4"/>
<path d="M250.3,583.4h12.4v12.4h-12.4ZM250.3,583.4l12.4,12.4M262.7,583.4l-12.4,12.4" fill="none" stroke="#2a57a5" stroke-width="1.4"/>
<path d="M249.1,584.4h12.4v12.4h-12.4ZM249.1,584.4l12.4,12.4M261.5,584.4l-12.4,12.4" fill="none" stroke="#2a57a5" stroke-width="1.4"/>
<rect x="55.5" y="497.4" width="93.4" height="102" fill="#fff" stroke="#000" stroke-width="1.15"/>
<circle cx="63.2" cy="507.6" r="1.6" fill="none" stroke="#2a57a5" stroke-width="0.9"/>
<text x="72" y="510.8" font-size="9.3" color="#0d0d0d"><tspan font-style="italic">O. canadensis</tspan> (5)</text>
<path d="M63.2,516.35L65.8,518.95L63.2,521.55L60.6,518.95Z" fill="none" stroke="#2a57a5" stroke-width="0.9"/>
<text x="72" y="522.15" font-size="9.3" color="#0d0d0d"><tspan font-style="italic">O. dalli</tspan> (5)</text>
<path d="M60.9,528.5L65.5,528.5L63.2,532.7Z" fill="none" stroke="#2a57a5" stroke-width="0.9"/>
<text x="72" y="533.5" font-size="9.3" color="#0d0d0d"><tspan font-style="italic">O. nivicola</tspan> (2)</text>
<path d="M61.3,539.75h3.8v3.8h-3.8ZM61.3,539.75l3.8,3.8M65.1,539.75l-3.8,3.8" fill="none" stroke="#2a57a5" stroke-width="0.8"/>
<text x="72" y="544.85" font-size="9.3" color="#0d0d0d"><tspan font-style="italic">O. ammon</tspan> (4)</text>
<path d="M60.8,553h4.8M63.2,550.6v4.8M61.503,551.303l3.39408,3.39408M64.897,551.303l-3.39408,3.39408" fill="none" stroke="#2a57a5" stroke-width="0.8"/>
<text x="72" y="556.2" font-size="9.3" color="#0d0d0d"><tspan font-style="italic">O. orientalis</tspan> (17)</text>
<path d="M63.2,561.75L65.8,564.35L63.2,566.95L60.6,564.35Z" fill="#2a57a5" stroke="#2a57a5" stroke-width="0.9"/>
<path d="M60.6,564.35h5.2M63.2,561.75v5.2" fill="none" stroke="#fff" stroke-width="0.5"/>
<text x="72" y="567.55" font-size="9.3" color="#0d0d0d"><tspan font-style="italic">O. vignei</tspan> (1)</text>
<path d="M60.9,577.5L65.5,577.5L63.2,573.3Z" fill="none" stroke="#2a57a5" stroke-width="0.9"/>
<text x="72" y="578.9" font-size="9.3" color="#0d0d0d"><tspan font-style="italic">O. musimon</tspan> (3)</text>
<path d="M60.6,587.05h5.2M63.2,584.45v5.2" fill="none" stroke="#e22a24" stroke-width="0.9"/>
<text x="72" y="590.25" font-size="9.3" color="#0d0d0d"><tspan font-style="italic">O. aries</tspan> (495)</text>
<text x="360.3" y="454.8" font-size="18.5" font-weight="bold" color="#231815">C</text>
<rect x="397.2" y="443.2" width="308.3" height="155.1" fill="#fff" stroke="#000" stroke-width="1.15"/>
<text x="406.1" y="614.3" font-size="9.4" text-anchor="middle" color="#0d0d0d">-0.04</text>
<text x="467.27" y="614.3" font-size="9.4" text-anchor="middle" color="#0d0d0d">0</text>
<text x="528.44" y="614.3" font-size="9.4" text-anchor="middle" color="#0d0d0d">0.04</text>
<text x="589.61" y="614.3" font-size="9.4" text-anchor="middle" color="#0d0d0d">0.08</text>
<text x="650.78" y="614.3" font-size="9.4" text-anchor="middle" color="#0d0d0d">0.12</text>
<text x="390" y="462" font-size="9.4" text-anchor="end" color="#0d0d0d">0.1</text>
<text x="390" y="496.55" font-size="9.4" text-anchor="end" color="#0d0d0d">0</text>
<text x="390" y="531.1" font-size="9.4" text-anchor="end" color="#0d0d0d">-0.1</text>
<text x="390" y="565.65" font-size="9.4" text-anchor="end" color="#0d0d0d">-0.2</text>
<text x="390" y="600.2" font-size="9.4" text-anchor="end" color="#0d0d0d">-0.3</text>
<path d="M406.1,598.3v4.4M467.27,598.3v4.4M528.44,598.3v4.4M589.61,598.3v4.4M650.78,598.3v4.4M397.2,458.7h-4.4M397.2,493.25h-4.4M397.2,527.8h-4.4M397.2,562.35h-4.4M397.2,596.9h-4.4" stroke="#000" stroke-width="1" fill="none"/>
<text x="372" y="511.5" font-size="9.7" text-anchor="middle" color="#0d0d0d" transform="rotate(-90 372 511.5)">PC 2 (8.54%)</text>
<text x="567.5" y="625.1" font-size="9.7" text-anchor="middle" color="#0d0d0d">PC 1 (26.34%)</text>
<path d="M407.2,462.1 C407.4,461.3 407.7,460.7 408.2,460.2 L412,457 L415.2,453.2 C416.3,452.1 417.6,451.2 419,450.6 C420.4,450.1 421.9,449.9 423.4,449.9 C424.9,449.9 426.3,450.2 427.6,450.6 L427.2,451.6 C426.1,451.6 425.1,451.7 424.1,451.9 C423.2,452.2 422.4,452.6 421.8,453.2 L424.1,455.7 L426.6,458.3 L429.2,460.8 C429.2,462.1 429,463.4 428.5,464.6 L426.6,468.4 L424.7,471.6 C424.2,472.2 423.6,472.7 422.8,472.9 L420.9,469.7 L418.3,465.3 C417.5,465.8 416.9,466.4 416.4,467.2 L414.8,471 C414.4,471.4 413.9,471.6 413.3,471.6 L412.9,468.4 L412.6,465.9 C411.7,466.2 410.9,466.3 410.1,466.2 C409.2,465.9 408.5,465.3 407.9,464.6 C407.4,463.8 407.2,463 407.2,462.1Z" fill="#000"/>
<path d="M569.6,550.5L585.6,550.5L577.6,564Z" fill="none" stroke="#2a57a5" stroke-width="1.5"/>
<path d="M572,551L588,551L580,564.5Z" fill="none" stroke="#2a57a5" stroke-width="1.5"/>
<path d="M581,555.5L597,555.5L589,569Z" fill="none" stroke="#2a57a5" stroke-width="1.5"/>
<path d="M587.4,560L603.4,560L595.4,573.5Z" fill="none" stroke="#2a57a5" stroke-width="1.5"/>
<path d="M592.5,563.5L608.5,563.5L600.5,577Z" fill="none" stroke="#2a57a5" stroke-width="1.5"/>
<path d="M603.9,565L619.9,565L611.9,578.5Z" fill="none" stroke="#2a57a5" stroke-width="1.5"/>
<path d="M615.3,572.5L631.3,572.5L623.3,586Z" fill="none" stroke="#2a57a5" stroke-width="1.5"/>
<path d="M623,575.5L639,575.5L631,589Z" fill="none" stroke="#2a57a5" stroke-width="1.5"/>
<path d="M626.8,562.5L642.8,562.5L634.8,576Z" fill="none" stroke="#2a57a5" stroke-width="1.5"/>
<path d="M631.9,565L647.9,565L639.9,578.5Z" fill="none" stroke="#2a57a5" stroke-width="1.5"/>
<path d="M637,580.5L653,580.5L645,594Z" fill="none" stroke="#2a57a5" stroke-width="1.5"/>
<path d="M638.8,582L654.8,582L646.8,595.5Z" fill="none" stroke="#2a57a5" stroke-width="1.5"/>
<path d="M640.8,584L656.8,584L648.8,597.5Z" fill="none" stroke="#2a57a5" stroke-width="1.5"/>
<path d="M625.2,505.2l11.6,11.6M636.8,505.2l-11.6,11.6" fill="none" stroke="#2a57a5" stroke-width="1.5"/>
<path d="M629.2,505.7l11.6,11.6M640.8,505.7l-11.6,11.6" fill="none" stroke="#2a57a5" stroke-width="1.5"/>
<path d="M637.2,508.2l11.6,11.6M648.8,508.2l-11.6,11.6" fill="none" stroke="#2a57a5" stroke-width="1.5"/>
<path d="M634.8,465.6L642.4,473.2L634.8,480.8L627.2,473.2Z" fill="none" stroke="#2a57a5" stroke-width="1.5"/>
<path d="M653,474h13M659.5,467.5v13" fill="none" stroke="#2a57a5" stroke-width="1.4"/>
<path d="M655.5,473.5h13M662,467v13" fill="none" stroke="#2a57a5" stroke-width="1.4"/>
<path d="M658,473h13M664.5,466.5v13" fill="none" stroke="#2a57a5" stroke-width="1.4"/>
<path d="M660.5,472.5h13M667,466v13" fill="none" stroke="#2a57a5" stroke-width="1.4"/>
<path d="M670,462L676.2,468.2L670,474.4L663.8,468.2Z" fill="none" stroke="#2a57a5" stroke-width="1.4"/>
<path d="M670.9,461.85L677.1,468.05L670.9,474.25L664.7,468.05Z" fill="none" stroke="#2a57a5" stroke-width="1.4"/>
<path d="M671.8,461.7L678,467.9L671.8,474.1L665.6,467.9Z" fill="none" stroke="#2a57a5" stroke-width="1.4"/>
<path d="M672.7,461.55L678.9,467.75L672.7,473.95L666.5,467.75Z" fill="none" stroke="#2a57a5" stroke-width="1.4"/>
<path d="M673.6,461.4L679.8,467.6L673.6,473.8L667.4,467.6Z" fill="none" stroke="#2a57a5" stroke-width="1.4"/>
<path d="M674.5,461.25L680.7,467.45L674.5,473.65L668.3,467.45Z" fill="none" stroke="#2a57a5" stroke-width="1.4"/>
<path d="M675.4,461.1L681.6,467.3L675.4,473.5L669.2,467.3Z" fill="none" stroke="#2a57a5" stroke-width="1.4"/>
<path d="M676.3,460.95L682.5,467.15L676.3,473.35L670.1,467.15Z" fill="none" stroke="#2a57a5" stroke-width="1.4"/>
<path d="M677.2,460.8L683.4,467L677.2,473.2L671,467Z" fill="none" stroke="#2a57a5" stroke-width="1.4"/>
<path d="M422.5,492h10v10h-10ZM422.5,492l10,10M432.5,492l-10,10" fill="none" stroke="#2a57a5" stroke-width="1.7"/>
<path d="M428,493h10v10h-10ZM428,493l10,10M438,493l-10,10" fill="none" stroke="#2a57a5" stroke-width="1.7"/>
<path d="M433.3,493.8h10v10h-10ZM433.3,493.8l10,10M443.3,493.8l-10,10" fill="none" stroke="#2a57a5" stroke-width="1.7"/>
<path d="M412,487.7L418.3,494L412,500.3L405.7,494Z" fill="#e22a24" stroke="#e22a24" stroke-width="0.8"/>
<path d="M414,487.2L420.3,493.5L414,499.8L407.7,493.5Z" fill="#e22a24" stroke="#e22a24" stroke-width="0.8"/>
<path d="M416,488.2L422.3,494.5L416,500.8L409.7,494.5Z" fill="#e22a24" stroke="#e22a24" stroke-width="0.8"/>
<path d="M418,487.7L424.3,494L418,500.3L411.7,494Z" fill="#e22a24" stroke="#e22a24" stroke-width="0.8"/>
<path d="M420,488.7L426.3,495L420,501.3L413.7,495Z" fill="#e22a24" stroke="#e22a24" stroke-width="0.8"/>
<path d="M415,489.7L421.3,496L415,502.3L408.7,496Z" fill="#e22a24" stroke="#e22a24" stroke-width="0.8"/>
<path d="M417,486.2L423.3,492.5L417,498.8L410.7,492.5Z" fill="#e22a24" stroke="#e22a24" stroke-width="0.8"/>
<path d="M419,490.2L425.3,496.5L419,502.8L412.7,496.5Z" fill="#e22a24" stroke="#e22a24" stroke-width="0.8"/>
<rect x="397.2" y="541.9" width="166.4" height="56.4" fill="#fff" stroke="#000" stroke-width="1.15"/>
<path d="M399.3,551.7L404.7,551.7L402,556.5Z" fill="none" stroke="#2a57a5" stroke-width="1"/>
<text x="408.7" y="557.1" font-size="9.7" color="#0d0d0d"><tspan font-style="italic">C. sibirica</tspan> (14)</text>
<rect x="399.8" y="563.0999999999999" width="4.4" height="4.4" fill="#2a57a5"/>
<text x="408.7" y="568.6" font-size="9.7" color="#0d0d0d"><tspan font-style="italic">C. falconeri</tspan> (3)</text>
<path d="M402,574L404.8,576.8L402,579.6L399.2,576.8Z" fill="none" stroke="#2a57a5" stroke-width="1"/>
<text x="408.7" y="580.1" font-size="9.7" color="#0d0d0d"><tspan font-style="italic">C. ibex</tspan> (30)</text>
<path d="M402,584.9L405.4,588.3L402,591.7L398.6,588.3Z" fill="#e22a24" stroke="#e22a24" stroke-width="0.5"/>
<text x="408.7" y="591.6" font-size="9.7" color="#0d0d0d"><tspan font-style="italic">C. hircus</tspan> (209)</text>
<path d="M477.4,553.8h6.4M480.6,550.6v6.4" fill="none" stroke="#2a57a5" stroke-width="1"/>
<text x="487.5" y="557.1" font-size="9.7" color="#0d0d0d"><tspan font-style="italic">C. pyrenaica</tspan> (4)</text>
<path d="M478.2,562.9l4.8,4.8M483,562.9l-4.8,4.8" fill="none" stroke="#2a57a5" stroke-width="1"/>
<text x="487.5" y="568.6" font-size="9.7" color="#0d0d0d"><tspan font-style="italic">C. nubiana</tspan> (3)</text>
<path d="M477.8,576.8h5.6M480.6,574v5.6M478.62,574.82l3.95976,3.95976M482.58,574.82l-3.95976,3.95976" fill="none" stroke="#2a57a5" stroke-width="0.9"/>
<text x="487.5" y="580.1" font-size="9.7" color="#0d0d0d"><tspan font-style="italic">C. aegagrus</tspan> (18)</text>
<text x="-1.8" y="651.2" font-size="19" font-weight="bold" color="#231815">D</text>
<text x="49" y="641.8" font-size="9.5" color="#0d0d0d"><tspan font-style="italic">K</tspan>=2; cross validation error=0.196</text>
<rect x="49.6" y="644" width="297.5" height="33.8" fill="#e2412a" shape-rendering="crispEdges"/>
<path d="M49.6,644H55.4V660.5H56.6V663H58V669.4H59.5V671H61V669.8H63V672H64.5V670H66V671.5H67.4V677.8H49.6Z" fill="#1f4796"/>
<rect x="237.5" y="676.6" width="3" height="1.2" fill="#7b5aa0" shape-rendering="crispEdges"/>
<text x="49" y="689.4" font-size="9.5" color="#0d0d0d"><tspan font-style="italic">K</tspan>=5; cross validation error=0.189</text>
<rect x="49.6" y="692" width="7.6" height="34.6" fill="#1f4796" shape-rendering="crispEdges"/>
<rect x="57.2" y="692" width="3.1" height="34.6" fill="#1f4796" shape-rendering="crispEdges"/>
<rect x="60.3" y="692" width="6.8" height="34.6" fill="#c2c3c5" shape-rendering="crispEdges"/>
<rect x="61.2" y="692" width="5.9" height="4" fill="#a45bb4" shape-rendering="crispEdges"/>
<rect x="62" y="721" width="1.2" height="3" fill="#f08a80" shape-rendering="crispEdges"/>
<rect x="63.5" y="723.5" width="3.5" height="3.1" fill="#15afc9" shape-rendering="crispEdges"/>
<rect x="67.1" y="692" width="102.8" height="34.6" fill="#15afc9" shape-rendering="crispEdges"/>
<rect x="67.8" y="692" width="2.6" height="3.5" fill="#a45bb4" shape-rendering="crispEdges"/>
<path d="M71,692V697.313H72V694.648H73V695.523H74V692Z" fill="#e2412a" shape-rendering="crispEdges"/>
<path d="M73.5,692V706H74.5V716H75.5V722H76.3V725H77.2V712H78V704H79V699H80V692Z" fill="#e2412a"/>
<path d="M80,692V692H81V692H82V693.072H83V692H84V692H85V692H86V694.739H87V692H88V692H89V694.178H90V695.114H91V692H92V692H93V692H94V693.658H95V692.888H96V693.819H97V695.654H98V692H99V692H100V692Z" fill="#e2412a" shape-rendering="crispEdges"/>
<path d="M100,692V697.81H101V698.227H102V694.459H103V699.862H104V695.64H105V692H106V699.855H107V698.473H108V698.444H109V692H110V699.189H111V694.448H112V692Z" fill="#a45bb4" shape-rendering="crispEdges"/>
<path d="M103,692V698.722H104V699.085H105V700.811H106V692Z" fill="#e2412a" shape-rendering="crispEdges"/>
<path d="M112,692V692H113V692H114V692H115V692H116V692H117V692H118V694.29H119V692H120V692H121V692H122V694.301H123V694.54H124V692H125V693.494H126V695.732H127V692Z" fill="#e2412a" shape-rendering="crispEdges"/>
<path d="M116,692V702.754H117V698.831H118V692Z" fill="#e2412a" shape-rendering="crispEdges"/>
<path d="M127,692V696.358H128V695.652H129V698.291H130V699.567H131V698.903H132V695.816H133V702.442H134V697.009H135V703.529H136V698.57H137V692H138V692Z" fill="#e2412a" shape-rendering="crispEdges"/>
<path d="M128,692V697.849H129V696.819H130V694.99H131V692H132V696.567H133V695.813H134V694.769H135V692H136V694.937H137V692Z" fill="#a45bb4" shape-rendering="crispEdges"/>
<path d="M138,692V692H139V693.243H140V692H141V694.409H142V692H143V694.574H144V692H145V694.013H146V692H147V692H148V692H149V693.562H150V694.42H151V692Z" fill="#e2412a" shape-rendering="crispEdges"/>
<path d="M151,692V698.002H152V696.443H153V692H154V692H155V696.122H156V692Z" fill="#e2412a" shape-rendering="crispEdges"/>
<path d="M156,692V692H157V692H158V692H159V692H160V692H161V692H162V692Z" fill="#e2412a" shape-rendering="crispEdges"/>
<path d="M162,692V700.917H163V696.283H164V698.373H165V702.293H166V700.413H167V700.952H168V698.96H169V692Z" fill="#e2412a" shape-rendering="crispEdges"/>
<path d="M165,692V696.056H166V696.548H167V694.692H168V692Z" fill="#a45bb4" shape-rendering="crispEdges"/>
<rect x="169.9" y="692" width="143.3" height="34.6" fill="#e2412a" shape-rendering="crispEdges"/>
<path d="M170,726.6V726.6H171V726.6H172V726.6H173V726.6H174V724.329H175V726.6H176V726.6Z" fill="#15afc9" shape-rendering="crispEdges"/>
<path d="M205,726.6V724.627H206V726.6H207V725.433H208V726.6H209V726.6H210V726.6H211V726.6H212V726.6Z" fill="#15afc9" shape-rendering="crispEdges"/>
<path d="M221,726.6V726.6H222V725.017H223V726.6H224V724.678H225V723.89H226V726.6H227V721.742H228V726.6Z" fill="#15afc9" shape-rendering="crispEdges"/>
<path d="M233,726.6V726.6H234V726.6H235V726.6H236V726.6Z" fill="#15afc9" shape-rendering="crispEdges"/>
<path d="M242,726.6V726.6H243V726.6H244V717.612H245V719.904H246V719.296H247V726.6Z" fill="#15afc9" shape-rendering="crispEdges"/>
<path d="M250,726.6V720.929H251V726.6H252V721.177H253V726.6H254V720.812H255V726.6Z" fill="#15afc9" shape-rendering="crispEdges"/>
<rect x="225.3" y="692" width="0.5" height="6" fill="#e8c8e0" shape-rendering="crispEdges"/>
<rect x="226.5" y="692" width="0.5" height="4" fill="#e8c8e0" shape-rendering="crispEdges"/>
<rect x="256.3" y="692" width="10.9" height="34.6" fill="#15afc9" shape-rendering="crispEdges"/>
<rect x="256.3" y="692" width="10.9" height="10.5" fill="#a45bb4" shape-rendering="crispEdges"/>
<path d="M272,692V693.906H273V694.702H274V695.053H275V693.583H276V694.505H277V695.407H278V692H279V695.188H280V695.444H281V695.376H282V692Z" fill="#a45bb4" shape-rendering="crispEdges"/>
<path d="M272,726.6V711.079H273V726.6H274V720.619H275V726.6H276V716.014H277V726.6H278V707.955H279V720.53H280V726.6H281V720.419H282V726.6Z" fill="#15afc9" shape-rendering="crispEdges"/>
<path d="M283,692V693.262H284V692H285V693.265H286V692H287V692H288V693.783H289V692H290V693.375H291V693.48H292V694.969H293V692H294V692H295V694.808H296V692H297V692H298V692H299V693.465H300V692H301V693.026H302V692Z" fill="#a45bb4" shape-rendering="crispEdges"/>
<path d="M296,726.6V726.6H297V723.91H298V724.579H299V724.769H300V726.6H301V724.711H302V726.6Z" fill="#15afc9" shape-rendering="crispEdges"/>
<path d="M302.3,692V703H304V707H306V712H308V706H310V710H311.5V714H313.2V692Z" fill="#a45bb4"/>
<rect x="313.2" y="692" width="33.9" height="34.6" fill="#a45bb4" shape-rendering="crispEdges"/>
<path d="M313.2,726.6V712H314.5V709H316V715H317.5V720H318.5V726.6Z" fill="#15afc9"/>
<path d="M318,726.6V722.509H319V720.505H320V722.685H321V720.571H322V726.6H323V718.636H324V726.6H325V726.6Z" fill="#e2412a" shape-rendering="crispEdges"/>
<path d="M325,726.6V725.263H326V723.548H327V725.263H328V723.327H329V723.378H330V726.6H331V723.993H332V726.6H333V726.6H334V726.6Z" fill="#e2412a" shape-rendering="crispEdges"/>
<path d="M335,726.6V712H336V708H338V716H339.5V726.6Z" fill="#e2412a"/>
<path d="M341.5,726.6V704H342.5V701H344V710H345V726.6Z" fill="#e2412a"/>
<path d="M340.5,726.6V722H342V718H344V714H345.5V711H347.1V726.6Z" fill="#15afc9"/>
<path d="M57.3,692V726.6" stroke="#e8e8f0" stroke-width="0.6" stroke-dasharray="1.2,1" fill="none"/>
<path d="M58.6,692V726.6" stroke="#e8e8f0" stroke-width="0.6" stroke-dasharray="1.2,1" fill="none"/>
<path d="M60,692V726.6" stroke="#e8e8f0" stroke-width="0.6" stroke-dasharray="1.2,1" fill="none"/>
<path d="M67.4,692V726.6" stroke="#222" stroke-width="0.7" stroke-dasharray="1.2,1" fill="none"/>
<path d="M70.9,692V741" stroke="#000" stroke-width="1.1" stroke-dasharray="2.4,1.8" fill="none"/>
<path d="M169.9,692V741" stroke="#000" stroke-width="1.1" stroke-dasharray="2.4,1.8" fill="none"/>
<path d="M313.2,692V741" stroke="#000" stroke-width="1.1" stroke-dasharray="2.4,1.8" fill="none"/>
<text x="129.7" y="735" font-size="9.4" text-anchor="middle" color="#0d0d0d">European</text>
<text x="252.7" y="735" font-size="9.4" text-anchor="middle" color="#0d0d0d">Asian</text>
<text x="332.5" y="735" font-size="9.4" text-anchor="middle" color="#0d0d0d">African</text>
<text x="25.8" y="734" font-size="6.6" text-anchor="end" font-style="italic" color="#0d0d0d" transform="rotate(-90 25.8 734)" stroke-width="0.3">O.canadensis</text>
<text x="33.2" y="734" font-size="6.6" text-anchor="end" font-style="italic" color="#0d0d0d" transform="rotate(-90 33.2 734)" stroke-width="0.3">O.dalli</text>
<text x="39.9" y="734" font-size="6.6" text-anchor="end" font-style="italic" color="#0d0d0d" transform="rotate(-90 39.9 734)" stroke-width="0.3">O.nivicola</text>
<text x="46.7" y="734" font-size="6.6" text-anchor="end" font-style="italic" color="#0d0d0d" transform="rotate(-90 46.7 734)" stroke-width="0.3">O.ammon</text>
<text x="53.5" y="734" font-size="6.6" text-anchor="end" font-style="italic" color="#0d0d0d" transform="rotate(-90 53.5 734)" stroke-width="0.3">O.vignei</text>
<text x="60.8" y="734" font-size="6.6" text-anchor="end" font-style="italic" color="#0d0d0d" transform="rotate(-90 60.8 734)" stroke-width="0.3">O.orientalis</text>
<text x="68.8" y="734" font-size="6.6" text-anchor="end" font-style="italic" color="#0d0d0d" transform="rotate(-90 68.8 734)" stroke-width="0.3">O.musimon</text>
<path d="M25.3,732L50.1,726.8M32,732L52.4,726.8M38.8,732L54.6,726.8M45.6,732L56.6,726.8M52.4,732L58,726.8M59.7,732L64.2,726.8M67.1,732L68.2,726.8" stroke="#231f20" stroke-width="0.7" fill="none"/>
<text x="362.6" y="651.4" font-size="13.3" font-weight="bold" color="#231815">E</text>
<text x="409.3" y="641.8" font-size="9.5" color="#0d0d0d"><tspan font-style="italic">K</tspan>=2; cross validation error=0.163</text>
<rect x="408.2" y="644" width="300.3" height="34.3" fill="#e2412a" shape-rendering="crispEdges"/>
<path d="M408.2,644H461.3V672H461.8V675.5H462.8V677H465V678.3H408.2Z" fill="#1f4796"/>
<rect x="411.5" y="645" width="2.6" height="2.6" fill="#e2412a" shape-rendering="crispEdges"/>
<text x="409.3" y="689.4" font-size="9.5" color="#0d0d0d"><tspan font-style="italic">K</tspan>=6; cross validation error=0.131</text>
<rect x="408.2" y="694.3" width="14.6" height="34.4" fill="#ff0000" shape-rendering="crispEdges"/>
<rect x="422.8" y="694.3" width="40.5" height="34.4" fill="#a020f0" shape-rendering="crispEdges"/>
<rect x="422.8" y="708" width="2.2" height="20.7" fill="#ff0000" shape-rendering="crispEdges"/>
<rect x="463.3" y="694.3" width="21.7" height="34.4" fill="#ffff00" shape-rendering="crispEdges"/>
<rect x="463.3" y="694.3" width="1.8" height="34.4" fill="#a020f0" shape-rendering="crispEdges"/>
<rect x="485" y="694.3" width="61.7" height="34.4" fill="#15afc9" shape-rendering="crispEdges"/>
<path d="M485,728.7V722H486.5V724H489V726.5H492V728.7Z" fill="#1f4796"/>
<path d="M491,694.3H497V696H494V698H491Z" fill="#ffff00"/>
<path d="M525,694.3H533.8V705.3H531V706.3H529.5V704H527V702H525Z" fill="#ffff00"/>
<rect x="525" y="694.3" width="8.5" height="0.9" fill="#ffa500" shape-rendering="crispEdges"/>
<path d="M525.2,728.7V716H527V714.5H529V716H532V715H534.2V721H537V710H539.5V707H542V702H544V698H545.5V696.5H546.7V728.7Z" fill="#1f4796"/>
<rect x="546" y="694.3" width="162.5" height="34.4" fill="#1f4796" shape-rendering="crispEdges"/>
<path d="M537,694.3H556V696.5H552V698H548V697H544.5V695.5H537Z" fill="#ffa500"/>
<path d="M556,694.3V695.778H557V695.182H558V694.3H559V695.028H560V695.78H561V694.929H562V694.3H563V695.541H564V695.361H565V694.3H566V695.505H567V695.866H568V695.413H569V694.3H570V694.3H571V695.777H572V694.3Z" fill="#ffa500" shape-rendering="crispEdges"/>
<path d="M603,694.3V695.669H604V696.762H605V696.404H606V695.914H607V696.222H608V696.359H609V696.003H610V695.54H611V695.568H612V696.293H613V696.555H614V696.687H615V695.645H616V696.472H617V696.372H618V694.3Z" fill="#ffa500" shape-rendering="crispEdges"/>
<path d="M618,694.3V695.843H619V696.179H620V696.95H621V695.948H622V695.851H623V696.659H624V696.138H625V696.726H626V696.802H627V695.811H628V696.987H629V696.064H630V694.3H631V695.958H632V697.241H633V697.172H634V694.3Z" fill="#ffa500" shape-rendering="crispEdges"/>
<rect x="633.5" y="694.3" width="31.3" height="34.4" fill="#ffa500" shape-rendering="crispEdges"/>
<path d="M633.5,728.7V722H635V716H636.3V724H637.5V727H639V728.7Z" fill="#8a8a78"/>
<path d="M665,694.3V696.553H666V696.133H667V696.727H668V696.197H669V696.078H670V696.834H671V696.66H672V695.617H673V696.776H674V695.472H675V696.193H676V696.375H677V696.335H678V695.388H679V696.995H680V695.833H681V696.24H682V696.84H683V696.979H684V695.469H685V696.716H686V695.896H687V696.562H688V696.827H689V695.39H690V695.962H691V696.388H692V694.3H693V695.504H694V696.702H695V694.3H696V695.374H697V694.3H698V695.451H699V695.455H700V695.577H701V695.496H702V696.098H703V695.305H704V697.058H705V696.622H706V694.3H707V696.893H708V694.3Z" fill="#ffa500" shape-rendering="crispEdges"/>
<path d="M423.9,691.8V728.7M427,691.8V728.7M430.3,691.8V728.7M633.5,691.8V728.7M664.8,691.8V728.7" stroke="#000" stroke-width="0.6" fill="none"/>
<path d="M462.8,691.8V728.7M465.1,691.8V728.7M467.1,691.8V728.7" stroke="#000" stroke-width="0.6" stroke-dasharray="2.2,0.8" fill="none"/>
<path d="M485,692.3V728.7" stroke="#000" stroke-width="0.8"/>
<path d="M485,729.7V737.5" stroke="#000" stroke-width="1.0" stroke-dasharray="1.5,1.2" fill="none"/>
<path d="M530.3,729.7V737.5" stroke="#000" stroke-width="1.0" stroke-dasharray="1.5,1.2" fill="none"/>
<path d="M541,729.7V737.5" stroke="#000" stroke-width="1.0" stroke-dasharray="1.5,1.2" fill="none"/>
<path d="M534.6,729.2V738.2" stroke="#000" stroke-width="0.7"/>
<text x="505.4" y="736.9" font-size="9.2" text-anchor="middle" color="#0d0d0d">Asian</text>
<text x="537.5" y="747.2" font-size="9.2" text-anchor="middle" color="#0d0d0d">African</text>
<text x="620.8" y="737.6" font-size="9.2" text-anchor="middle" color="#0d0d0d">European</text>
<text x="650" y="690.2" font-size="6.7" text-anchor="middle" color="#0d0d0d">Valais Blacknecked Goat</text>
<path d="M648.5,691.5V694" stroke="#000" stroke-width="0.5"/>
<text x="418" y="736" font-size="6.6" text-anchor="end" font-style="italic" color="#0d0d0d" transform="rotate(-90 418 736)" stroke-width="0.3">C.sibirica</text>
<text x="425.4" y="736" font-size="6.6" text-anchor="end" font-style="italic" color="#0d0d0d" transform="rotate(-90 425.4 736)" stroke-width="0.3">C.nubiana</text>
<text x="432.5" y="736" font-size="6.6" text-anchor="end" font-style="italic" color="#0d0d0d" transform="rotate(-90 432.5 736)" stroke-width="0.3">C.pyrenaica</text>
<text x="446.5" y="736" font-size="6.6" text-anchor="end" font-style="italic" color="#0d0d0d" transform="rotate(-90 446.5 736)" stroke-width="0.3">C.ibex</text>
<text x="465" y="736" font-size="6.6" text-anchor="end" font-style="italic" color="#0d0d0d" transform="rotate(-90 465 736)" stroke-width="0.3">C.falconeri</text>
<text x="475.7" y="736" font-size="6.6" text-anchor="end" font-style="italic" color="#0d0d0d" transform="rotate(-90 475.7 736)" stroke-width="0.3">C.aegagrus</text>
<path d="M415.8,734.5L415.8,729.2M423.2,734.5L423.2,729.2M430.3,734.5L427.5,729.2M444.3,734.5L444.3,729.2M462.8,734.5L462.8,729.2M473.5,734.5L473.5,729.2" stroke="#000" stroke-width="0.6" fill="none"/>
<path d="M203.5,924.5A3.0,3.0 0 0 1 204.4,923.6M204.4,923.6L202.8,920.9M202.4,921.1A6.2,6.2 0 0 1 203.1,920.7M203.1,920.7L201.6,917.8M200.7,918.4A9.5,9.5 0 0 1 202.5,917.4M202.5,917.4L201.3,914.4M199.1,915.6A12.7,12.7 0 0 1 203.8,913.7M203.8,913.7L203.2,910.5M198.2,912.3A15.9,15.9 0 0 1 208.5,910.5M208.5,910.5L209.0,907.3M204.1,907.2A19.1,19.1 0 0 1 213.8,908.7M213.8,908.7L215.1,905.7M207.0,903.9A22.4,22.4 0 0 1 221.9,910.5M221.9,910.5L224.2,908.2M214.7,902.1A25.6,25.6 0 0 1 230.2,917.8M230.2,917.8L233.2,916.8M223.3,903.2A28.8,28.8 0 0 1 233.9,933.6M233.9,933.6L237.0,934.4M238.1,926.6A32.1,32.1 0 0 1 234.0,941.7M238.1,926.6L299.4,927.3M299.2,920.0A93.4,93.4 0 0 1 299.0,934.6M299.2,920.0L302.4,919.8M300.9,908.2A96.6,96.6 0 0 1 302.5,931.4M300.9,908.2L304.1,907.6M302.7,901.5A99.8,99.8 0 0 1 305.1,913.8M305.1,913.8L308.3,913.4M307.1,906.4A103.1,103.1 0 0 1 308.9,920.5M307.1,906.4L313.5,905.1M313.0,902.7A109.5,109.5 0 0 1 313.9,907.5M313.9,907.5L317.1,907.0M316.7,904.9A112.8,112.8 0 0 1 317.4,909.0M308.9,920.5L312.1,920.3M311.9,917.3A106.3,106.3 0 0 1 312.3,923.3M312.3,923.3L315.5,923.2M315.3,919.9A109.5,109.5 0 0 1 315.5,926.6M315.5,926.6L318.8,926.7M318.7,923.9A112.8,112.8 0 0 1 318.7,929.4M234.0,941.7L236.9,943.3M240.6,932.9A35.3,35.3 0 0 1 230.0,952.0M230.0,952.0L232.2,954.4M235.4,951.1A38.5,38.5 0 0 1 228.7,957.3M228.7,957.3L230.6,960.0M236.2,955.0A41.7,41.7 0 0 1 224.2,963.8M224.2,963.8L225.6,966.7M235.3,960.3A45.0,45.0 0 0 1 214.5,970.4M214.5,970.4L215.1,973.5M229.0,968.5A48.2,48.2 0 0 1 200.4,974.1M200.4,974.1L200.0,977.3M212.3,977.2A51.4,51.4 0 0 1 188.0,974.4M188.0,974.4L186.9,977.4M197.3,980.1A54.7,54.7 0 0 1 177.3,972.7M177.3,972.7L175.6,975.4M182.9,979.3A57.9,57.9 0 0 1 168.8,970.6M182.9,979.3L162.3,1026.7M166.6,1028.4A109.5,109.5 0 0 1 158.2,1024.7M166.6,1028.4L164.3,1034.4M166.0,1035.1A116.0,116.0 0 0 1 162.6,1033.7M162.6,1033.7L161.4,1036.7M162.9,1037.4A119.2,119.2 0 0 1 159.8,1036.1M158.2,1024.7L156.7,1027.6M159.3,1028.8A112.8,112.8 0 0 1 154.2,1026.4M154.2,1026.4L152.7,1029.2M155.7,1030.7A116.0,116.0 0 0 1 149.8,1027.7M155.7,1030.7L154.3,1033.6M155.4,1034.1A119.2,119.2 0 0 1 153.2,1033.1M149.8,1027.7L148.2,1030.5M149.6,1031.2A119.2,119.2 0 0 1 146.9,1029.7M168.8,970.6L166.8,973.1M170.3,975.8A61.1,61.1 0 0 1 163.5,970.1M170.3,975.8L141.9,1015.0M144.9,1017.1A109.5,109.5 0 0 1 139.0,1012.9M144.9,1017.1L143.1,1019.8M145.4,1021.3A112.8,112.8 0 0 1 140.8,1018.2M145.4,1021.3L143.7,1024.0M145.2,1025.0A116.0,116.0 0 0 1 142.2,1023.1M145.2,1025.0L143.5,1027.7M144.8,1028.5A119.2,119.2 0 0 1 142.2,1026.9M139.0,1012.9L133.1,1020.5M134.3,1021.5A119.2,119.2 0 0 1 131.9,1019.6M163.5,970.1L161.3,972.4M164.6,975.4A64.3,64.3 0 0 1 158.2,969.2M158.2,969.2L155.8,971.4M160.1,975.8A67.6,67.6 0 0 1 151.9,966.6" fill="none" stroke="#000" stroke-width="1.0"/>
<path d="M203.5,924.5L133.5,878.2M131.8,880.9A86.9,86.9 0 0 1 135.3,875.7M131.8,880.9L101.5,862.4M101.0,863.3A122.4,122.4 0 0 1 102.1,861.5M101.0,863.3L98.2,861.6M97.8,862.2A125.7,125.7 0 0 1 98.6,861.0M97.8,862.2L95.1,860.6M98.6,861.0L95.8,859.3M102.1,861.5L96.6,858.1M135.3,875.7L132.6,873.8M130.7,876.6A90.2,90.2 0 0 1 134.6,871.1M130.7,876.6L103.8,858.8M103.2,859.7A122.4,122.4 0 0 1 104.4,857.9M103.2,859.7L100.5,857.9M100.1,858.5A125.7,125.7 0 0 1 100.9,857.3M100.1,858.5L97.4,856.8M100.9,857.3L98.2,855.6M104.4,857.9L99.0,854.3M134.6,871.1L132.1,869.1M129.1,873.2A93.4,93.4 0 0 1 135.3,865.2M129.1,873.2L99.8,853.1M135.3,865.2L132.9,863.1M127.9,869.4A96.6,96.6 0 0 1 138.4,857.2M127.9,869.4L109.6,856.1M108.6,857.5A119.2,119.2 0 0 1 110.6,854.7M108.6,857.5L100.7,851.9M110.6,854.7L108.0,852.8M107.2,853.9A122.4,122.4 0 0 1 108.9,851.6M107.2,853.9L104.6,852.0M104.2,852.6A125.7,125.7 0 0 1 105.0,851.4M104.2,852.6L101.5,850.7M105.0,851.4L102.4,849.5M108.9,851.6L106.3,849.7M105.9,850.3A125.7,125.7 0 0 1 106.8,849.1M105.9,850.3L103.3,848.3M106.8,849.1L104.2,847.1M138.4,857.2L136.1,854.9M130.6,860.8A99.8,99.8 0 0 1 142.1,849.5M130.6,860.8L120.8,852.3M118.2,855.5A112.8,112.8 0 0 1 123.6,849.2M118.2,855.5L108.1,847.4M107.6,848.0A125.7,125.7 0 0 1 108.5,846.8M107.6,848.0L105.1,846.0M108.5,846.8L106.0,844.8M123.6,849.2L121.3,847.0M119.4,849.0A116.0,116.0 0 0 1 123.2,845.0M119.4,849.0L117.0,846.9M115.5,848.6A119.2,119.2 0 0 1 118.5,845.2M115.5,848.6L113.1,846.5M112.4,847.3A122.4,122.4 0 0 1 113.8,845.7M112.4,847.3L109.9,845.2M109.5,845.7A125.7,125.7 0 0 1 110.4,844.6M109.5,845.7L107.0,843.7M110.4,844.6L107.9,842.5M113.8,845.7L108.9,841.4M118.5,845.2L116.1,843.0M115.2,844.1A122.4,122.4 0 0 1 117.1,842.0M115.2,844.1L112.8,841.9M112.3,842.5A125.7,125.7 0 0 1 113.3,841.4M112.3,842.5L109.9,840.3M113.3,841.4L110.9,839.2M117.1,842.0L114.7,839.8M114.2,840.3A125.7,125.7 0 0 1 115.2,839.3M114.2,840.3L111.9,838.1M115.2,839.3L112.9,837.0M123.2,845.0L113.9,836.0M142.1,849.5L140.0,847.0M135.0,851.5A103.1,103.1 0 0 1 145.4,842.9M135.0,851.5L132.8,849.1M130.9,850.9A106.3,106.3 0 0 1 134.7,847.3M130.9,850.9L115.0,834.9M134.7,847.3L132.5,845.0M130.3,847.0A109.5,109.5 0 0 1 134.8,843.0M130.3,847.0L123.7,840.0M122.8,840.8A119.2,119.2 0 0 1 124.5,839.2M122.8,840.8L116.0,833.9M124.5,839.2L122.3,836.8M121.5,837.5A122.4,122.4 0 0 1 123.1,836.1M121.5,837.5L117.1,832.9M123.1,836.1L120.9,833.7M120.4,834.2A125.7,125.7 0 0 1 121.4,833.2M120.4,834.2L118.2,831.9M121.4,833.2L119.3,830.8M134.8,843.0L132.7,840.5M131.1,841.9A112.8,112.8 0 0 1 134.3,839.1M131.1,841.9L120.4,829.9M134.3,839.1L132.3,836.6M130.7,838.0A116.0,116.0 0 0 1 133.9,835.3M130.7,838.0L126.5,833.1M125.7,833.8A122.4,122.4 0 0 1 127.3,832.4M125.7,833.8L121.5,828.9M127.3,832.4L125.2,829.9M124.7,830.4A125.7,125.7 0 0 1 125.8,829.5M124.7,830.4L122.6,827.9M125.8,829.5L123.7,827.0M133.9,835.3L131.9,832.8M131.0,833.6A119.2,119.2 0 0 1 132.8,832.1M131.0,833.6L124.9,826.0M132.8,832.1L130.9,829.5M130.0,830.2A122.4,122.4 0 0 1 131.7,828.9M130.0,830.2L126.0,825.1M131.7,828.9L129.7,826.3M129.2,826.7A125.7,125.7 0 0 1 130.3,825.9M129.2,826.7L127.2,824.2M130.3,825.9L128.4,823.3M145.4,842.9L132.1,824.6M131.5,825.0A125.7,125.7 0 0 1 132.6,824.2M131.5,825.0L129.6,822.4M132.6,824.2L130.8,821.5" fill="none" stroke="#2451a6" stroke-width="1.0"/>
<path d="M202.4,921.1L132.0,820.7M200.7,918.4L135.6,822.1M135.0,822.5A125.7,125.7 0 0 1 136.2,821.7M135.0,822.5L133.2,819.8M136.2,821.7L134.4,819.0M199.1,915.6L135.6,818.2M198.2,912.3L161.9,847.5M158.3,849.7A90.2,90.2 0 0 1 165.6,845.6M158.3,849.7L141.2,822.3M140.4,822.8A122.4,122.4 0 0 1 142.1,821.7M140.4,822.8L136.9,817.4M142.1,821.7L140.5,819.0M139.8,819.4A125.7,125.7 0 0 1 141.1,818.6M139.8,819.4L138.1,816.6M141.1,818.6L139.4,815.8M165.6,845.6L164.2,842.7M159.1,845.4A93.4,93.4 0 0 1 169.4,840.3M159.1,845.4L142.9,817.5M142.3,817.9A125.7,125.7 0 0 1 143.6,817.1M142.3,817.9L140.7,815.1M143.6,817.1L142.0,814.3M169.4,840.3L168.1,837.3M161.9,840.2A96.6,96.6 0 0 1 174.5,834.8M161.9,840.2L157.5,831.6M154.2,833.3A106.3,106.3 0 0 1 160.8,830.0M154.2,833.3L143.2,813.6M160.8,830.0L159.4,827.1M155.4,829.0A109.5,109.5 0 0 1 163.4,825.3M155.4,829.0L154.0,826.2M152.2,827.1A112.8,112.8 0 0 1 155.7,825.3M152.2,827.1L144.5,812.9M155.7,825.3L154.2,822.4M151.9,823.6A116.0,116.0 0 0 1 156.6,821.2M151.9,823.6L145.9,812.2M156.6,821.2L155.3,818.3M153.4,819.2A119.2,119.2 0 0 1 157.1,817.5M153.4,819.2L152.0,816.3M150.7,816.9A122.4,122.4 0 0 1 153.3,815.7M150.7,816.9L149.3,814.1M148.6,814.4A125.7,125.7 0 0 1 149.9,813.7M148.6,814.4L147.2,811.5M149.9,813.7L148.5,810.8M153.3,815.7L151.9,812.8M151.2,813.1A125.7,125.7 0 0 1 152.5,812.5M151.2,813.1L149.8,810.2M152.5,812.5L151.2,809.6M157.1,817.5L154.5,811.6M153.8,811.9A125.7,125.7 0 0 1 155.1,811.3M153.8,811.9L152.5,808.9M155.1,811.3L153.8,808.3M163.4,825.3L157.1,810.4M156.5,810.7A125.7,125.7 0 0 1 157.8,810.1M156.5,810.7L155.2,807.7M157.8,810.1L156.6,807.2M174.5,834.8L173.5,831.8M169.3,833.3A99.8,99.8 0 0 1 177.8,830.4M169.3,833.3L159.8,809.3M159.1,809.6A125.7,125.7 0 0 1 160.5,809.1M159.1,809.6L157.9,806.6M160.5,809.1L159.3,806.1M177.8,830.4L176.8,827.3M171.2,829.2A103.1,103.1 0 0 1 182.6,825.8M171.2,829.2L165.7,814.0M164.1,814.6A119.2,119.2 0 0 1 167.3,813.4M164.1,814.6L160.7,805.5M167.3,813.4L166.3,810.4M164.9,810.8A122.4,122.4 0 0 1 167.6,809.9M164.9,810.8L163.9,807.8M163.2,808.0A125.7,125.7 0 0 1 164.5,807.6M163.2,808.0L162.1,805.0M164.5,807.6L163.5,804.5M167.6,809.9L166.6,806.9M165.9,807.1A125.7,125.7 0 0 1 167.3,806.6M165.9,807.1L164.9,804.0M167.3,806.6L166.3,803.6M182.6,825.8L181.9,822.7M176.2,824.1A106.3,106.3 0 0 1 187.6,821.5M176.2,824.1L173.5,814.9M171.5,815.5A116.0,116.0 0 0 1 175.5,814.3M171.5,815.5L167.7,803.1M175.5,814.3L174.7,811.2M172.9,811.7A119.2,119.2 0 0 1 176.5,810.7M172.9,811.7L172.0,808.6M171.0,808.9A122.4,122.4 0 0 1 173.0,808.3M171.0,808.9L169.1,802.7M173.0,808.3L172.1,805.2M171.4,805.4A125.7,125.7 0 0 1 172.8,805.0M171.4,805.4L170.5,802.3M172.8,805.0L172.0,801.9M176.5,810.7L174.9,804.4M174.2,804.6A125.7,125.7 0 0 1 175.6,804.3M174.2,804.6L173.4,801.5M175.6,804.3L174.8,801.1M187.6,821.5L187.1,818.3M182.2,819.3A109.5,109.5 0 0 1 191.9,817.6M182.2,819.3L181.5,816.1M180.0,816.5A112.8,112.8 0 0 1 183.1,815.8M180.0,816.5L176.3,800.8M183.1,815.8L182.4,812.6M180.5,813.0A116.0,116.0 0 0 1 184.3,812.3M180.5,813.0L177.7,800.4M184.3,812.3L183.7,809.1M182.2,809.4A119.2,119.2 0 0 1 185.2,808.8M182.2,809.4L181.5,806.2M180.5,806.4A122.4,122.4 0 0 1 182.6,806.0M180.5,806.4L179.1,800.1M182.6,806.0L181.9,802.9M181.2,803.0A125.7,125.7 0 0 1 182.7,802.7M181.2,803.0L180.6,799.8M182.7,802.7L182.1,799.5M185.2,808.8L183.5,799.3M191.9,817.6L191.1,811.2M189.9,811.3A116.0,116.0 0 0 1 192.3,811.0M189.9,811.3L189.4,808.1M188.2,808.3A119.2,119.2 0 0 1 190.6,808.0M188.2,808.3L187.8,805.1M186.7,805.3A122.4,122.4 0 0 1 188.8,805.0M186.7,805.3L186.2,802.1M185.5,802.2A125.7,125.7 0 0 1 186.9,802.0M185.5,802.2L185.0,799.0M186.9,802.0L186.4,798.8M188.8,805.0L187.9,798.6M190.6,808.0L189.4,798.4M192.3,811.0L190.8,798.2M204.1,907.2L193.4,801.2M192.6,801.2A125.7,125.7 0 0 1 194.1,801.1M192.6,801.2L192.3,798.0M194.1,801.1L193.8,797.9M207.0,903.9L210.2,826.4M199.7,826.6A99.8,99.8 0 0 1 220.7,827.4M199.7,826.6L198.7,810.4M197.0,810.6A116.0,116.0 0 0 1 200.5,810.3M197.0,810.6L196.2,800.9M195.5,801.0A125.7,125.7 0 0 1 197.0,800.9M195.5,801.0L195.2,797.7M197.0,800.9L196.7,797.6M200.5,810.3L200.3,807.1M198.8,807.2A119.2,119.2 0 0 1 201.9,807.1M198.8,807.2L198.2,797.5M201.9,807.1L201.7,803.8M200.7,803.9A122.4,122.4 0 0 1 202.8,803.8M200.7,803.9L200.6,800.6M199.8,800.7A125.7,125.7 0 0 1 201.3,800.6M199.8,800.7L199.7,797.5M201.3,800.6L201.2,797.4M202.8,803.8L202.6,797.3M220.7,827.4L221.2,824.2M216.7,823.7A103.1,103.1 0 0 1 225.7,825.0M216.7,823.7L217.0,820.5M210.3,820.0A106.3,106.3 0 0 1 223.6,821.4M210.3,820.0L210.5,816.8M206.2,816.7A109.5,109.5 0 0 1 214.7,817.0M206.2,816.7L206.2,810.2M204.3,810.2A116.0,116.0 0 0 1 208.1,810.2M204.3,810.2L204.1,797.3M208.1,810.2L208.2,807.0M206.7,807.0A119.2,119.2 0 0 1 209.7,807.0M206.7,807.0L206.7,803.8M205.6,803.8A122.4,122.4 0 0 1 207.7,803.8M205.6,803.8L205.6,797.3M207.7,803.8L207.8,800.5M207.0,800.5A125.7,125.7 0 0 1 208.5,800.6M207.0,800.5L207.1,797.3M208.5,800.6L208.6,797.3M209.7,807.0L210.0,797.4M214.7,817.0L215.0,813.8M212.4,813.6A112.8,112.8 0 0 1 217.5,814.0M212.4,813.6L213.0,804.0M211.9,803.9A122.4,122.4 0 0 1 214.0,804.0M211.9,803.9L212.1,800.7M211.4,800.6A125.7,125.7 0 0 1 212.8,800.7M211.4,800.6L211.5,797.4M212.8,800.7L213.0,797.5M214.0,804.0L214.5,797.6M217.5,814.0L217.9,810.8M215.6,810.6A116.0,116.0 0 0 1 220.1,811.1M215.6,810.6L216.4,801.0M215.7,800.9A125.7,125.7 0 0 1 217.1,801.0M215.7,800.9L215.9,797.7M217.1,801.0L217.4,797.8M220.1,811.1L220.5,807.9M218.6,807.7A119.2,119.2 0 0 1 222.3,808.1M218.6,807.7L219.3,801.2M218.6,801.2A125.7,125.7 0 0 1 220.0,801.3M218.6,801.2L218.9,797.9M220.0,801.3L220.4,798.1M222.3,808.1L222.8,804.9M221.7,804.8A122.4,122.4 0 0 1 223.8,805.1M221.7,804.8L222.2,801.6M221.4,801.5A125.7,125.7 0 0 1 222.9,801.7M221.4,801.5L221.8,798.3M222.9,801.7L223.3,798.5M223.8,805.1L224.8,798.7M223.6,821.4L226.3,805.4M225.2,805.3A122.4,122.4 0 0 1 227.3,805.6M225.2,805.3L226.2,798.9M227.3,805.6L227.9,802.4M227.2,802.3A125.7,125.7 0 0 1 228.6,802.6M227.2,802.3L227.7,799.1M228.6,802.6L229.2,799.4M225.7,825.0L230.6,799.7M214.7,902.1L242.0,826.2M233.2,823.4A106.3,106.3 0 0 1 250.4,829.6M233.2,823.4L234.1,820.3M228.1,818.9A109.5,109.5 0 0 1 239.9,822.0M228.1,818.9L232.1,800.0M239.9,822.0L240.9,819.0M236.7,817.7A112.8,112.8 0 0 1 245.0,820.4M236.7,817.7L237.6,814.6M234.8,813.8A116.0,116.0 0 0 1 240.4,815.4M234.8,813.8L235.6,810.7M233.4,810.2A119.2,119.2 0 0 1 237.8,811.3M233.4,810.2L234.2,807.0M232.8,806.7A122.4,122.4 0 0 1 235.6,807.4M232.8,806.7L233.5,803.6M232.8,803.4A125.7,125.7 0 0 1 234.2,803.7M232.8,803.4L233.5,800.3M234.2,803.7L235.0,800.6M235.6,807.4L236.3,804.2M235.6,804.1A125.7,125.7 0 0 1 237.0,804.4M235.6,804.1L236.4,800.9M237.0,804.4L237.8,801.3M237.8,811.3L238.6,808.2M237.6,807.9A122.4,122.4 0 0 1 239.6,808.5M237.6,807.9L239.3,801.7M239.6,808.5L240.5,805.4M239.8,805.2A125.7,125.7 0 0 1 241.2,805.6M239.8,805.2L240.7,802.1M241.2,805.6L242.1,802.5M240.4,815.4L243.3,806.2M242.6,806.0A125.7,125.7 0 0 1 244.0,806.4M242.6,806.0L243.5,802.9M244.0,806.4L244.9,803.3M245.0,820.4L247.2,814.3M245.3,813.6A119.2,119.2 0 0 1 249.1,815.1M245.3,813.6L246.3,810.6M245.0,810.1A122.4,122.4 0 0 1 247.7,811.1M245.0,810.1L246.0,807.1M245.3,806.8A125.7,125.7 0 0 1 246.7,807.3M245.3,806.8L246.4,803.8M246.7,807.3L247.8,804.3M247.7,811.1L248.8,808.0M248.1,807.8A125.7,125.7 0 0 1 249.4,808.3M248.1,807.8L249.2,804.7M249.4,808.3L250.5,805.2M249.1,815.1L251.5,809.0M250.8,808.8A125.7,125.7 0 0 1 252.1,809.3M250.8,808.8L251.9,805.8M252.1,809.3L253.3,806.3M250.4,829.6L251.8,826.7M248.2,825.1A109.5,109.5 0 0 1 255.3,828.4M248.2,825.1L253.2,813.2M252.2,812.8A122.4,122.4 0 0 1 254.2,813.6M252.2,812.8L254.7,806.8M254.2,813.6L255.5,810.7M254.8,810.4A125.7,125.7 0 0 1 256.1,811.0M254.8,810.4L256.1,807.4M256.1,811.0L257.4,808.0M255.3,828.4L256.7,825.5M253.0,823.7A112.8,112.8 0 0 1 260.3,827.4M253.0,823.7L257.1,814.9M256.1,814.5A122.4,122.4 0 0 1 258.0,815.4M256.1,814.5L258.8,808.6M258.0,815.4L259.4,812.4M258.8,812.1A125.7,125.7 0 0 1 260.1,812.8M258.8,812.1L260.1,809.2M260.1,812.8L261.5,809.8M260.3,827.4L261.9,824.6M259.3,823.2A116.0,116.0 0 0 1 264.4,826.0M259.3,823.2L260.8,820.3M259.1,819.5A119.2,119.2 0 0 1 262.5,821.2M259.1,819.5L262.0,813.7M261.4,813.4A125.7,125.7 0 0 1 262.7,814.0M261.4,813.4L262.8,810.5M262.7,814.0L264.1,811.1M262.5,821.2L264.0,818.4M263.1,817.9A122.4,122.4 0 0 1 264.9,818.9M263.1,817.9L264.6,815.0M263.9,814.7A125.7,125.7 0 0 1 265.2,815.4M263.9,814.7L265.4,811.8M265.2,815.4L266.7,812.5M264.9,818.9L268.0,813.2M264.4,826.0L267.7,820.4M266.8,819.9A122.4,122.4 0 0 1 268.6,821.0M266.8,819.9L268.4,817.1M267.8,816.7A125.7,125.7 0 0 1 269.0,817.5M267.8,816.7L269.3,813.9M269.0,817.5L270.6,814.7M268.6,821.0L271.9,815.4M223.3,903.2L256.3,859.3M250.8,855.5A83.7,83.7 0 0 1 261.5,863.5M250.8,855.5L271.6,822.8M270.4,822.1A122.4,122.4 0 0 1 272.8,823.6M270.4,822.1L272.1,819.3M271.5,818.9A125.7,125.7 0 0 1 272.7,819.7M271.5,818.9L273.2,816.2M272.7,819.7L274.4,817.0M272.8,823.6L274.5,820.9M273.9,820.5A125.7,125.7 0 0 1 275.1,821.3M273.9,820.5L275.7,817.8M275.1,821.3L276.9,818.6M261.5,863.5L263.6,861.1M257.5,856.2A86.9,86.9 0 0 1 269.3,866.6M257.5,856.2L267.1,843.2M263.7,840.8A103.1,103.1 0 0 1 270.4,845.7M263.7,840.8L278.1,819.4M270.4,845.7L272.4,843.2M269.6,841.0A106.3,106.3 0 0 1 275.2,845.5M269.6,841.0L271.5,838.4M268.9,836.5A109.5,109.5 0 0 1 274.1,840.4M268.9,836.5L278.1,823.3M277.5,822.9A125.7,125.7 0 0 1 278.7,823.7M277.5,822.9L279.4,820.2M278.7,823.7L280.6,821.1M274.1,840.4L276.1,837.9M273.8,836.1A112.8,112.8 0 0 1 278.4,839.8M273.8,836.1L275.7,833.5M274.2,832.4A116.0,116.0 0 0 1 277.3,834.7M274.2,832.4L281.8,821.9M277.3,834.7L279.2,832.1M277.7,831.0A119.2,119.2 0 0 1 280.7,833.3M277.7,831.0L281.6,825.8M281.0,825.4A125.7,125.7 0 0 1 282.2,826.3M281.0,825.4L283.0,822.8M282.2,826.3L284.2,823.7M280.7,833.3L282.7,830.8M281.9,830.1A122.4,122.4 0 0 1 283.6,831.4M281.9,830.1L283.9,827.6M283.3,827.1A125.7,125.7 0 0 1 284.5,828.0M283.3,827.1L285.3,824.6M284.5,828.0L286.5,825.5M283.6,831.4L287.6,826.5M278.4,839.8L288.8,827.4M275.2,845.5L289.9,828.4M269.3,866.6L271.6,864.4M266.6,859.5A90.2,90.2 0 0 1 276.2,869.6M266.6,859.5L288.3,835.6M287.3,834.6A122.4,122.4 0 0 1 289.4,836.5M287.3,834.6L289.4,832.2M288.9,831.8A125.7,125.7 0 0 1 290.0,832.7M288.9,831.8L291.0,829.3M290.0,832.7L292.1,830.3M289.4,836.5L291.6,834.2M291.0,833.7A125.7,125.7 0 0 1 292.1,834.7M291.0,833.7L293.2,831.3M292.1,834.7L294.3,832.3M276.2,869.6L278.7,867.6M273.3,861.5A93.4,93.4 0 0 1 283.5,874.1M273.3,861.5L287.3,848.1M285.4,846.1A112.8,112.8 0 0 1 289.2,850.1M285.4,846.1L292.2,839.2M291.4,838.5A122.4,122.4 0 0 1 292.9,840.0M291.4,838.5L293.7,836.2M293.2,835.7A125.7,125.7 0 0 1 294.2,836.7M293.2,835.7L295.4,833.3M294.2,836.7L296.5,834.4M292.9,840.0L297.5,835.4M289.2,850.1L291.6,847.9M290.3,846.5A116.0,116.0 0 0 1 292.9,849.4M290.3,846.5L292.6,844.3M291.6,843.2A119.2,119.2 0 0 1 293.7,845.4M291.6,843.2L298.5,836.5M293.7,845.4L296.1,843.3M295.4,842.5A122.4,122.4 0 0 1 296.8,844.0M295.4,842.5L297.7,840.3M297.2,839.8A125.7,125.7 0 0 1 298.2,840.8M297.2,839.8L299.6,837.5M298.2,840.8L300.6,838.6M296.8,844.0L301.6,839.7M292.9,849.4L302.6,840.8M283.5,874.1L286.2,872.3M280.7,865.0A96.6,96.6 0 0 1 290.9,880.1M280.7,865.0L285.7,860.9M284.4,859.3A103.1,103.1 0 0 1 287.1,862.5M284.4,859.3L301.6,844.6M301.1,844.0A125.7,125.7 0 0 1 302.0,845.1M301.1,844.0L303.5,841.9M302.0,845.1L304.5,843.0M287.1,862.5L289.6,860.5M288.4,859.0A106.3,106.3 0 0 1 290.8,862.1M288.4,859.0L303.4,846.8M303.0,846.2A125.7,125.7 0 0 1 303.9,847.4M303.0,846.2L305.4,844.2M303.9,847.4L306.4,845.3M290.8,862.1L293.4,860.1M292.1,858.5A109.5,109.5 0 0 1 294.6,861.8M292.1,858.5L307.3,846.5M294.6,861.8L297.2,859.9M295.8,858.0A112.8,112.8 0 0 1 298.6,861.9M295.8,858.0L306.1,850.2M305.6,849.6A125.7,125.7 0 0 1 306.5,850.8M305.6,849.6L308.2,847.7M306.5,850.8L309.1,848.8M298.6,861.9L301.3,860.0M300.0,858.2A116.0,116.0 0 0 1 302.5,861.9M300.0,858.2L307.8,852.5M307.4,851.9A125.7,125.7 0 0 1 308.2,853.1M307.4,851.9L310.0,850.0M308.2,853.1L310.9,851.2M302.5,861.9L305.2,860.1M304.2,858.5A119.2,119.2 0 0 1 306.2,861.7M304.2,858.5L309.5,854.9M309.1,854.3A125.7,125.7 0 0 1 309.9,855.5M309.1,854.3L311.7,852.4M309.9,855.5L312.5,853.7M306.2,861.7L309.0,859.9M308.4,859.0A122.4,122.4 0 0 1 309.5,860.8M308.4,859.0L311.1,857.3M310.7,856.7A125.7,125.7 0 0 1 311.5,857.9M310.7,856.7L313.4,854.9M311.5,857.9L314.2,856.1M309.5,860.8L315.0,857.4M290.9,880.1L293.8,878.6M291.7,874.9A99.8,99.8 0 0 1 295.7,882.4M291.7,874.9L305.5,866.6M304.8,865.4A116.0,116.0 0 0 1 306.2,867.8M304.8,865.4L315.8,858.6M306.2,867.8L309.0,866.2M308.2,864.9A119.2,119.2 0 0 1 309.8,867.5M308.2,864.9L316.5,859.9M309.8,867.5L312.6,865.9M312.1,865.0A122.4,122.4 0 0 1 313.1,866.9M312.1,865.0L314.9,863.4M314.5,862.8A125.7,125.7 0 0 1 315.2,864.0M314.5,862.8L317.3,861.2M315.2,864.0L318.0,862.4M313.1,866.9L318.8,863.7M295.7,882.4L298.6,881.0M297.1,878.1A103.1,103.1 0 0 1 300.0,883.9M297.1,878.1L314.3,869.0M313.8,868.1A122.4,122.4 0 0 1 314.8,870.0M313.8,868.1L319.5,865.0M314.8,870.0L317.6,868.5M317.3,867.8A125.7,125.7 0 0 1 318.0,869.1M317.3,867.8L320.2,866.3M318.0,869.1L320.8,867.7M300.0,883.9L303.0,882.6M301.3,879.0A106.3,106.3 0 0 1 304.5,886.3M301.3,879.0L321.5,869.0M304.5,886.3L307.5,885.1M305.4,880.1A109.5,109.5 0 0 1 309.4,890.1M305.4,880.1L314.2,876.1M313.4,874.5A119.2,119.2 0 0 1 314.9,877.6M313.4,874.5L322.2,870.3M314.9,877.6L317.8,876.3M317.2,875.0A122.4,122.4 0 0 1 318.4,877.6M317.2,875.0L320.2,873.7M319.9,873.0A125.7,125.7 0 0 1 320.5,874.3M319.9,873.0L322.8,871.6M320.5,874.3L323.4,873.0M318.4,877.6L321.3,876.3M321.1,875.6A125.7,125.7 0 0 1 321.6,877.0M321.1,875.6L324.0,874.3M321.6,877.0L324.6,875.7M309.4,890.1L312.5,889.1M311.1,885.4A112.8,112.8 0 0 1 313.7,892.8M311.1,885.4L314.1,884.2M313.5,882.6A116.0,116.0 0 0 1 314.7,885.9M313.5,882.6L322.5,879.0M322.2,878.3A125.7,125.7 0 0 1 322.7,879.6M322.2,878.3L325.2,877.1M322.7,879.6L325.7,878.4M314.7,885.9L317.8,884.7M317.2,883.3A119.2,119.2 0 0 1 318.3,886.2M317.2,883.3L326.3,879.8M318.3,886.2L321.3,885.1M321.0,884.1A122.4,122.4 0 0 1 321.7,886.1M321.0,884.1L324.0,883.0M323.8,882.3A125.7,125.7 0 0 1 324.3,883.7M323.8,882.3L326.8,881.2M324.3,883.7L327.3,882.6M321.7,886.1L327.8,884.0M313.7,892.8L319.9,890.9M319.3,889.1A119.2,119.2 0 0 1 320.4,892.7M319.3,889.1L325.4,887.1M325.2,886.4A125.7,125.7 0 0 1 325.7,887.8M325.2,886.4L328.3,885.4M325.7,887.8L328.7,886.8M320.4,892.7L323.5,891.8M323.2,890.8A122.4,122.4 0 0 1 323.8,892.8M323.2,890.8L326.3,889.9M326.1,889.2A125.7,125.7 0 0 1 326.5,890.5M326.1,889.2L329.2,888.2M326.5,890.5L329.6,889.6M323.8,892.8L330.0,891.0M324.9,896.9L331.2,895.3M328.4,897.5L331.5,896.8M328.7,898.9L331.8,898.2M325.8,901.0L332.1,899.7M141.2,1033.9L139.5,1036.6M140.0,1033.1L138.3,1035.9M142.2,1026.9L137.0,1035.1M120.5,1004.6L111.0,1013.3M112.4,1010.0L110.0,1012.2" fill="none" stroke="#21aecb" stroke-width="1.0"/>
<path d="M302.7,901.5L324.6,895.9M324.4,894.8A122.4,122.4 0 0 1 324.9,896.9M324.4,894.8L327.5,894.0M327.3,893.3A125.7,125.7 0 0 1 327.7,894.7M327.3,893.3L330.4,892.5M327.7,894.7L330.8,893.9M313.0,902.7L325.6,900.0M325.4,898.9A122.4,122.4 0 0 1 325.8,901.0M325.4,898.9L328.5,898.2M328.4,897.5A125.7,125.7 0 0 1 328.7,898.9M316.7,904.9L329.4,902.5M329.3,901.7A125.7,125.7 0 0 1 329.5,903.2M329.3,901.7L332.4,901.1M329.5,903.2L332.7,902.6M317.4,909.0L320.6,908.6M320.3,906.3A116.0,116.0 0 0 1 321.0,910.9M320.3,906.3L333.0,904.0M321.0,910.9L324.2,910.4M323.9,908.7A119.2,119.2 0 0 1 324.4,912.1M323.9,908.7L327.1,908.3M327.0,907.2A122.4,122.4 0 0 1 327.3,909.3M327.0,907.2L330.2,906.7M330.0,906.0A125.7,125.7 0 0 1 330.3,907.4M330.0,906.0L333.2,905.5M330.3,907.4L333.5,907.0M327.3,909.3L333.7,908.4M324.4,912.1L327.6,911.7M327.5,910.7A122.4,122.4 0 0 1 327.7,912.8M327.5,910.7L333.9,909.9M327.7,912.8L330.9,912.4M330.8,911.7A125.7,125.7 0 0 1 331.0,913.2M330.8,911.7L334.0,911.4M331.0,913.2L334.2,912.8M311.9,917.3L328.0,915.9M327.9,914.9A122.4,122.4 0 0 1 328.1,917.0M327.9,914.9L334.3,914.3M328.1,917.0L331.3,916.8M331.3,916.0A125.7,125.7 0 0 1 331.4,917.5M331.3,916.0L334.5,915.8M331.4,917.5L334.6,917.3M315.3,919.9L334.7,918.7M318.7,923.9L322.0,923.9M321.9,921.5A116.0,116.0 0 0 1 322.0,926.3M321.9,921.5L331.6,921.1M331.5,920.4A125.7,125.7 0 0 1 331.6,921.8M331.5,920.4L334.8,920.2M331.6,921.8L334.8,921.7M322.0,926.3L325.2,926.3M325.2,925.1A119.2,119.2 0 0 1 325.2,927.5M325.2,925.1L328.4,925.1M328.4,924.0A122.4,122.4 0 0 1 328.4,926.1M328.4,924.0L331.7,924.0M331.6,923.2A125.7,125.7 0 0 1 331.7,924.7M331.6,923.2L334.9,923.2M331.7,924.7L334.9,924.6M328.4,926.1L334.9,926.1M325.2,927.5L334.9,927.6M318.7,929.4L331.6,929.7M331.6,929.0A125.7,125.7 0 0 1 331.6,930.5M331.6,929.0L334.9,929.1M331.6,930.5L334.8,930.6M302.5,931.4L328.3,932.8M328.3,931.8A122.4,122.4 0 0 1 328.2,933.9M328.3,931.8L334.8,932.0M328.2,933.9L331.4,934.1M331.5,933.3A125.7,125.7 0 0 1 331.4,934.8M331.5,933.3L334.7,933.5M331.4,934.8L334.6,935.0M299.0,934.6L324.7,936.9M324.8,935.7A119.2,119.2 0 0 1 324.6,938.1M324.8,935.7L334.5,936.5M324.6,938.1L327.8,938.4M327.9,937.4A122.4,122.4 0 0 1 327.7,939.5M327.9,937.4L334.4,938.0M327.7,939.5L330.9,939.8M331.0,939.1A125.7,125.7 0 0 1 330.9,940.5M331.0,939.1L334.2,939.4M330.9,940.5L334.1,940.9M236.2,955.0L296.8,1013.1M297.3,1012.5A125.7,125.7 0 0 1 296.3,1013.6M297.3,1012.5L299.7,1014.8M296.3,1013.6L298.6,1015.8M235.3,960.3L273.2,1004.4M278.6,999.3A103.1,103.1 0 0 1 267.4,1009.0M278.6,999.3L292.3,1013.1M293.0,1012.3A122.4,122.4 0 0 1 291.5,1013.8M293.0,1012.3L297.6,1016.9M291.5,1013.8L293.8,1016.1M294.3,1015.6A125.7,125.7 0 0 1 293.3,1016.6M294.3,1015.6L296.6,1017.9M293.3,1016.6L295.5,1019.0M267.4,1009.0L269.3,1011.6M273.6,1008.2A106.3,106.3 0 0 1 264.8,1014.7M273.6,1008.2L275.7,1010.7M278.2,1008.5A109.5,109.5 0 0 1 273.1,1012.8M278.2,1008.5L282.5,1013.4M284.3,1011.7A116.0,116.0 0 0 1 280.6,1015.0M284.3,1011.7L286.5,1014.1M287.8,1012.9A119.2,119.2 0 0 1 285.3,1015.3M287.8,1012.9L294.4,1020.0M285.3,1015.3L287.4,1017.7M288.5,1016.7A122.4,122.4 0 0 1 286.3,1018.6M288.5,1016.7L290.6,1019.1M291.2,1018.6A125.7,125.7 0 0 1 290.1,1019.6M291.2,1018.6L293.3,1021.0M290.1,1019.6L292.2,1022.0M286.3,1018.6L288.5,1021.0M289.0,1020.6A125.7,125.7 0 0 1 287.9,1021.5M289.0,1020.6L291.1,1023.0M287.9,1021.5L290.0,1023.9M280.6,1015.0L288.9,1024.9M273.1,1012.8L275.1,1015.3M277.0,1013.8A112.8,112.8 0 0 1 273.1,1016.8M277.0,1013.8L285.2,1023.8M285.7,1023.4A125.7,125.7 0 0 1 284.6,1024.3M285.7,1023.4L287.8,1025.9M284.6,1024.3L286.6,1026.8M273.1,1016.8L275.0,1019.4M277.0,1017.9A116.0,116.0 0 0 1 273.1,1020.8M277.0,1017.9L282.9,1025.6M283.5,1025.2A125.7,125.7 0 0 1 282.3,1026.0M283.5,1025.2L285.4,1027.7M282.3,1026.0L284.3,1028.6M273.1,1020.8L275.0,1023.5M275.9,1022.8A119.2,119.2 0 0 1 274.0,1024.1M275.9,1022.8L277.8,1025.4M278.7,1024.7A122.4,122.4 0 0 1 277.0,1026.0M278.7,1024.7L280.6,1027.3M281.2,1026.9A125.7,125.7 0 0 1 280.0,1027.8M281.2,1026.9L283.1,1029.5M280.0,1027.8L281.9,1030.4M277.0,1026.0L280.7,1031.2M274.0,1024.1L279.5,1032.1M264.8,1014.7L273.8,1028.2M274.7,1027.6A122.4,122.4 0 0 1 272.9,1028.8M274.7,1027.6L278.3,1032.9M272.9,1028.8L274.7,1031.5M275.3,1031.1A125.7,125.7 0 0 1 274.1,1031.9M275.3,1031.1L277.0,1033.8M274.1,1031.9L275.8,1034.6M229.0,968.5L250.6,1008.2M254.0,1006.3A93.4,93.4 0 0 1 247.2,1010.0M254.0,1006.3L267.2,1028.5M268.5,1027.7A119.2,119.2 0 0 1 265.9,1029.3M268.5,1027.7L270.2,1030.4M271.1,1029.9A122.4,122.4 0 0 1 269.3,1031.0M271.1,1029.9L274.6,1035.4M269.3,1031.0L271.0,1033.8M271.6,1033.4A125.7,125.7 0 0 1 270.4,1034.1M271.6,1033.4L273.3,1036.1M270.4,1034.1L272.0,1036.9M265.9,1029.3L270.8,1037.7M247.2,1010.0L248.7,1012.9M253.1,1010.6A96.6,96.6 0 0 1 244.1,1015.0M253.1,1010.6L267.2,1035.9M267.9,1035.6A125.7,125.7 0 0 1 266.6,1036.3M267.9,1035.6L269.5,1038.4M266.6,1036.3L268.2,1039.1M244.1,1015.0L245.4,1017.9M252.0,1014.8A99.8,99.8 0 0 1 238.6,1020.6M252.0,1014.8L260.9,1032.0M262.3,1031.3A119.2,119.2 0 0 1 259.6,1032.7M262.3,1031.3L266.9,1039.8M259.6,1032.7L261.0,1035.6M262.0,1035.1A122.4,122.4 0 0 1 260.1,1036.1M262.0,1035.1L263.4,1038.0M264.1,1037.6A125.7,125.7 0 0 1 262.8,1038.3M264.1,1037.6L265.6,1040.5M262.8,1038.3L264.2,1041.2M260.1,1036.1L262.9,1041.8M238.6,1020.6L239.6,1023.6M243.4,1022.3A103.1,103.1 0 0 1 235.8,1024.9M243.4,1022.3L244.5,1025.3M249.0,1023.4A106.3,106.3 0 0 1 240.0,1026.9M249.0,1023.4L250.3,1026.4M252.7,1025.3A109.5,109.5 0 0 1 247.9,1027.4M252.7,1025.3L259.5,1039.9M260.2,1039.6A125.7,125.7 0 0 1 258.9,1040.2M260.2,1039.6L261.6,1042.5M258.9,1040.2L260.3,1043.1M247.9,1027.4L249.1,1030.4M251.7,1029.3A112.8,112.8 0 0 1 246.5,1031.4M251.7,1029.3L256.9,1041.1M257.6,1040.8A125.7,125.7 0 0 1 256.3,1041.4M257.6,1040.8L258.9,1043.7M256.3,1041.4L257.6,1044.3M246.5,1031.4L247.7,1034.4M249.8,1033.6A116.0,116.0 0 0 1 245.6,1035.2M249.8,1033.6L251.0,1036.6M252.4,1036.0A119.2,119.2 0 0 1 249.6,1037.2M252.4,1036.0L256.2,1044.9M249.6,1037.2L250.7,1040.2M251.7,1039.8A122.4,122.4 0 0 1 249.8,1040.6M251.7,1039.8L252.9,1042.8M253.6,1042.5A125.7,125.7 0 0 1 252.3,1043.0M253.6,1042.5L254.8,1045.5M252.3,1043.0L253.5,1046.0M249.8,1040.6L252.1,1046.6M245.6,1035.2L248.9,1044.3M249.6,1044.1A125.7,125.7 0 0 1 248.2,1044.6M249.6,1044.1L250.7,1047.1M248.2,1044.6L249.3,1047.6M240.0,1026.9L246.2,1045.3M246.8,1045.0A125.7,125.7 0 0 1 245.5,1045.5M246.8,1045.0L247.9,1048.1M245.5,1045.5L246.5,1048.6M235.8,1024.9L241.5,1043.4M242.5,1043.1A122.4,122.4 0 0 1 240.4,1043.7M242.5,1043.1L243.4,1046.2M244.1,1046.0A125.7,125.7 0 0 1 242.7,1046.4M244.1,1046.0L245.1,1049.0M242.7,1046.4L243.7,1049.5M240.4,1043.7L242.3,1049.9M212.3,977.2L217.4,1018.9M228.9,1016.7A93.4,93.4 0 0 1 205.7,1019.6M228.9,1016.7L234.4,1038.6M236.7,1038.0A116.0,116.0 0 0 1 232.2,1039.2M236.7,1038.0L239.3,1047.4M240.0,1047.2A125.7,125.7 0 0 1 238.6,1047.6M240.0,1047.2L240.8,1050.3M238.6,1047.6L239.4,1050.7M232.2,1039.2L232.9,1042.3M234.9,1041.9A119.2,119.2 0 0 1 230.9,1042.8M234.9,1041.9L236.5,1048.1M237.2,1047.9A125.7,125.7 0 0 1 235.8,1048.3M237.2,1047.9L238.0,1051.1M235.8,1048.3L236.5,1051.4M230.9,1042.8L231.6,1045.9M233.0,1045.6A122.4,122.4 0 0 1 230.2,1046.2M233.0,1045.6L233.7,1048.8M234.4,1048.6A125.7,125.7 0 0 1 233.0,1048.9M234.4,1048.6L235.1,1051.8M233.0,1048.9L233.7,1052.1M230.2,1046.2L230.8,1049.4M231.6,1049.2A125.7,125.7 0 0 1 230.1,1049.5M231.6,1049.2L232.2,1052.4M230.1,1049.5L230.8,1052.7M205.7,1019.6L205.7,1022.8M211.1,1022.7A96.6,96.6 0 0 1 200.3,1022.6M211.1,1022.7L211.3,1025.9M218.0,1025.3A99.8,99.8 0 0 1 204.7,1026.0M218.0,1025.3L218.3,1028.5M223.6,1027.8A103.1,103.1 0 0 1 213.0,1029.0M223.6,1027.8L226.4,1043.7M227.6,1043.5A119.2,119.2 0 0 1 225.2,1043.9M227.6,1043.5L229.3,1053.0M225.2,1043.9L225.7,1047.0M226.7,1046.9A122.4,122.4 0 0 1 224.7,1047.2M226.7,1046.9L227.8,1053.2M224.7,1047.2L225.2,1050.4M225.9,1050.3A125.7,125.7 0 0 1 224.4,1050.5M225.9,1050.3L226.4,1053.5M224.4,1050.5L224.9,1053.7M213.0,1029.0L213.3,1032.3M217.7,1031.9A106.3,106.3 0 0 1 208.8,1032.5M217.7,1031.9L218.0,1035.1M220.2,1034.8A109.5,109.5 0 0 1 215.8,1035.3M220.2,1034.8L222.3,1050.8M223.0,1050.7A125.7,125.7 0 0 1 221.6,1050.9M223.0,1050.7L223.5,1053.9M221.6,1050.9L222.0,1054.1M215.8,1035.3L216.1,1038.5M218.1,1038.3A112.8,112.8 0 0 1 214.1,1038.7M218.1,1038.3L219.4,1051.2M220.2,1051.1A125.7,125.7 0 0 1 218.7,1051.2M220.2,1051.1L220.5,1054.3M218.7,1051.2L219.0,1054.4M214.1,1038.7L214.3,1041.9M216.4,1041.7A116.0,116.0 0 0 1 212.3,1042.0M216.4,1041.7L217.6,1054.6M212.3,1042.0L212.4,1045.2M213.6,1045.2A119.2,119.2 0 0 1 211.2,1045.3M213.6,1045.2L213.8,1048.4M214.9,1048.3A122.4,122.4 0 0 1 212.8,1048.5M214.9,1048.3L215.1,1051.5M215.8,1051.5A125.7,125.7 0 0 1 214.4,1051.6M215.8,1051.5L216.1,1054.7M214.4,1051.6L214.6,1054.8M212.8,1048.5L213.1,1054.9M211.2,1045.3L211.7,1055.0M208.8,1032.5L209.4,1051.8M210.1,1051.8A125.7,125.7 0 0 1 208.6,1051.8M210.1,1051.8L210.2,1055.0M208.6,1051.8L208.7,1055.1M204.7,1026.0L204.4,1045.4M206.4,1045.4A119.2,119.2 0 0 1 202.3,1045.4M206.4,1045.4L206.5,1051.9M207.2,1051.9A125.7,125.7 0 0 1 205.8,1051.9M207.2,1051.9L207.2,1055.1M205.8,1051.9L205.7,1055.1M202.3,1045.4L202.2,1048.6M203.6,1048.6A122.4,122.4 0 0 1 200.8,1048.5M203.6,1048.6L203.6,1051.8M204.3,1051.9A125.7,125.7 0 0 1 202.9,1051.8M204.3,1051.9L204.3,1055.1M202.9,1051.8L202.8,1055.1M200.8,1048.5L200.7,1051.8M201.4,1051.8A125.7,125.7 0 0 1 200.0,1051.7M201.4,1051.8L201.3,1055.0M200.0,1051.7L199.8,1055.0M200.3,1022.6L198.3,1054.9M197.3,980.1L189.0,1031.1M192.8,1031.7A106.3,106.3 0 0 1 185.2,1030.4M192.8,1031.7L192.0,1038.1M195.0,1038.4A112.8,112.8 0 0 1 189.0,1037.7M195.0,1038.4L194.7,1041.6M196.8,1041.8A116.0,116.0 0 0 1 192.6,1041.4M196.8,1041.8L196.3,1048.3M197.3,1048.3A122.4,122.4 0 0 1 195.2,1048.2M197.3,1048.3L196.9,1054.8M195.2,1048.2L194.9,1051.4M195.7,1051.4A125.7,125.7 0 0 1 194.2,1051.3M195.7,1051.4L195.4,1054.7M194.2,1051.3L193.9,1054.5M192.6,1041.4L192.3,1044.6M193.5,1044.8A119.2,119.2 0 0 1 191.1,1044.5M193.5,1044.8L192.4,1054.4M191.1,1044.5L190.7,1047.7M191.7,1047.8A122.4,122.4 0 0 1 189.6,1047.5M191.7,1047.8L191.0,1054.2M189.6,1047.5L189.2,1050.7M189.9,1050.8A125.7,125.7 0 0 1 188.5,1050.6M189.9,1050.8L189.5,1054.0M188.5,1050.6L188.0,1053.8M189.0,1037.7L186.6,1053.6M185.2,1030.4L184.6,1033.6M188.3,1034.3A109.5,109.5 0 0 1 180.9,1032.8M188.3,1034.3L185.1,1053.4M180.9,1032.8L180.2,1036.0M185.3,1037.0A112.8,112.8 0 0 1 175.0,1034.6M185.3,1037.0L184.2,1043.4M185.3,1043.6A119.2,119.2 0 0 1 183.0,1043.2M185.3,1043.6L183.7,1053.1M183.0,1043.2L182.4,1046.3M183.4,1046.5A122.4,122.4 0 0 1 181.3,1046.1M183.4,1046.5L182.2,1052.9M181.3,1046.1L180.7,1049.3M181.4,1049.4A125.7,125.7 0 0 1 180.0,1049.1M181.4,1049.4L180.7,1052.6M180.0,1049.1L179.3,1052.3M175.0,1034.6L174.1,1037.7M178.1,1038.8A116.0,116.0 0 0 1 170.2,1036.5M178.1,1038.8L177.3,1041.9M179.3,1042.4A119.2,119.2 0 0 1 175.3,1041.4M179.3,1042.4L177.8,1048.7M178.6,1048.8A125.7,125.7 0 0 1 177.1,1048.5M178.6,1048.8L177.8,1052.0M177.1,1048.5L176.4,1051.7M175.3,1041.4L174.5,1044.5M175.8,1044.9A122.4,122.4 0 0 1 173.1,1044.1M175.8,1044.9L175.0,1048.0M175.7,1048.2A125.7,125.7 0 0 1 174.3,1047.8M175.7,1048.2L175.0,1051.3M174.3,1047.8L173.5,1050.9M173.1,1044.1L172.3,1047.3M172.9,1047.4A125.7,125.7 0 0 1 171.6,1047.1M172.9,1047.4L172.1,1050.6M171.6,1047.1L170.7,1050.2M170.2,1036.5L169.2,1039.6M171.0,1040.2A119.2,119.2 0 0 1 167.5,1039.0M171.0,1040.2L170.1,1043.3M171.1,1043.6A122.4,122.4 0 0 1 169.1,1042.9M171.1,1043.6L169.3,1049.8M169.1,1042.9L168.1,1046.0M168.8,1046.2A125.7,125.7 0 0 1 167.4,1045.8M168.8,1046.2L167.8,1049.3M167.4,1045.8L166.4,1048.9M167.5,1039.0L165.4,1045.1M166.0,1045.4A125.7,125.7 0 0 1 164.7,1044.9M166.0,1045.4L165.0,1048.4M164.7,1044.9L163.6,1047.9M166.0,1035.1L162.6,1044.2M163.3,1044.4A125.7,125.7 0 0 1 162.0,1043.9M163.3,1044.4L162.2,1047.4M162.0,1043.9L160.8,1046.9M162.9,1037.4L159.5,1046.4M159.8,1036.1L158.5,1039.1M159.8,1039.6A122.4,122.4 0 0 1 157.2,1038.5M159.8,1039.6L158.6,1042.6M159.3,1042.9A125.7,125.7 0 0 1 157.9,1042.3M159.3,1042.9L158.1,1045.9M157.9,1042.3L156.7,1045.3M157.2,1038.5L155.9,1041.5M156.6,1041.8A125.7,125.7 0 0 1 155.3,1041.2M156.6,1041.8L155.3,1044.7M155.3,1041.2L154.0,1044.1M159.3,1028.8L152.6,1043.5M155.4,1034.1L151.3,1042.9M153.2,1033.1L151.8,1036.0M152.8,1036.5A122.4,122.4 0 0 1 150.9,1035.5M152.8,1036.5L149.9,1042.3M150.9,1035.5L149.4,1038.4M150.1,1038.7A125.7,125.7 0 0 1 148.8,1038.1M150.1,1038.7L148.6,1041.6M148.8,1038.1L147.3,1041.0M149.6,1031.2L148.1,1034.1M149.0,1034.6A122.4,122.4 0 0 1 147.1,1033.6M149.0,1034.6L146.0,1040.3M147.1,1033.6L145.6,1036.4M146.2,1036.7A125.7,125.7 0 0 1 144.9,1036.0M146.2,1036.7L144.7,1039.6M144.9,1036.0L143.4,1038.9M146.9,1029.7L142.1,1038.1M144.8,1028.5L143.2,1031.3M144.1,1031.8A122.4,122.4 0 0 1 142.3,1030.7M144.1,1031.8L140.8,1037.4M142.3,1030.7L140.6,1033.5M141.2,1033.9A125.7,125.7 0 0 1 140.0,1033.1M142.2,1023.1L136.9,1031.2M137.5,1031.6A125.7,125.7 0 0 1 136.3,1030.8M137.5,1031.6L135.8,1034.3M136.3,1030.8L134.5,1033.5M140.8,1018.2L135.2,1026.1M136.4,1026.9A122.4,122.4 0 0 1 134.1,1025.3M136.4,1026.9L134.5,1029.6M135.1,1030.0A125.7,125.7 0 0 1 133.9,1029.2M135.1,1030.0L133.3,1032.6M133.9,1029.2L132.1,1031.8M134.1,1025.3L132.2,1027.9M132.8,1028.3A125.7,125.7 0 0 1 131.6,1027.5M132.8,1028.3L130.9,1030.9M131.6,1027.5L129.7,1030.1M134.3,1021.5L128.5,1029.2M131.9,1019.6L129.9,1022.1M130.7,1022.8A122.4,122.4 0 0 1 129.1,1021.4M130.7,1022.8L128.7,1025.3M129.3,1025.7A125.7,125.7 0 0 1 128.1,1024.9M129.3,1025.7L127.3,1028.3M128.1,1024.9L126.2,1027.4M129.1,1021.4L125.0,1026.5M164.6,975.4L127.2,1019.9M128.0,1020.6A122.4,122.4 0 0 1 126.3,1019.2M128.0,1020.6L123.8,1025.5M126.3,1019.2L124.2,1021.6M124.8,1022.1A125.7,125.7 0 0 1 123.7,1021.2M124.8,1022.1L122.7,1024.6M123.7,1021.2L121.6,1023.6M160.1,975.8L125.0,1013.7M126.4,1014.9A119.2,119.2 0 0 1 123.6,1012.4M126.4,1014.9L122.1,1019.7M122.6,1020.2A125.7,125.7 0 0 1 121.5,1019.3M122.6,1020.2L120.5,1022.6M121.5,1019.3L119.4,1021.7M123.6,1012.4L121.4,1014.7M122.2,1015.4A122.4,122.4 0 0 1 120.6,1014.0M122.2,1015.4L120.0,1017.8M120.5,1018.3A125.7,125.7 0 0 1 119.4,1017.3M120.5,1018.3L118.3,1020.6M119.4,1017.3L117.2,1019.6M120.6,1014.0L116.1,1018.6M151.9,966.6L149.3,968.5M153.2,973.3A70.8,70.8 0 0 1 145.8,963.5M153.2,973.3L124.2,999.1M127.1,1002.2A109.5,109.5 0 0 1 121.5,995.9M127.1,1002.2L120.1,1008.9M121.2,1010.0A119.2,119.2 0 0 1 119.1,1007.8M121.2,1010.0L118.9,1012.2M119.6,1013.0A122.4,122.4 0 0 1 118.2,1011.5M119.6,1013.0L115.1,1017.6M118.2,1011.5L115.8,1013.7M116.3,1014.3A125.7,125.7 0 0 1 115.3,1013.2M116.3,1014.3L114.0,1016.5M115.3,1013.2L113.0,1015.5M119.1,1007.8L112.0,1014.4M121.5,995.9L119.0,997.9M121.5,1000.9A112.8,112.8 0 0 1 116.6,994.9M121.5,1000.9L119.1,1003.0M120.5,1004.6A116.0,116.0 0 0 1 117.7,1001.5M117.7,1001.5L115.3,1003.6M116.1,1004.5A119.2,119.2 0 0 1 114.5,1002.6M116.1,1004.5L113.6,1006.6M114.3,1007.4A122.4,122.4 0 0 1 112.9,1005.8M114.3,1007.4L111.9,1009.5M112.4,1010.0A125.7,125.7 0 0 1 111.4,1009.0M111.4,1009.0L109.0,1011.1M112.9,1005.8L108.0,1010.0M114.5,1002.6L107.1,1008.8M116.6,994.9L114.0,996.9M115.2,998.4A116.0,116.0 0 0 1 112.9,995.3M115.2,998.4L112.7,1000.4M113.6,1001.6A119.2,119.2 0 0 1 111.7,999.2M113.6,1001.6L106.1,1007.7M111.7,999.2L109.2,1001.1M109.8,1002.0A122.4,122.4 0 0 1 108.5,1000.3M109.8,1002.0L107.3,1004.0M107.7,1004.5A125.7,125.7 0 0 1 106.8,1003.4M107.7,1004.5L105.2,1006.6M106.8,1003.4L104.3,1005.4M108.5,1000.3L103.4,1004.2M112.9,995.3L102.5,1003.0M145.8,963.5L143.1,965.2M145.6,969.0A74.0,74.0 0 0 1 140.8,961.2M145.6,969.0L111.4,993.2M112.1,994.3A116.0,116.0 0 0 1 110.6,992.2M112.1,994.3L101.6,1001.8M110.6,992.2L108.0,994.1M108.7,995.0A119.2,119.2 0 0 1 107.3,993.1M108.7,995.0L100.8,1000.6M107.3,993.1L104.6,994.9M105.2,995.8A122.4,122.4 0 0 1 104.0,994.0M105.2,995.8L99.9,999.4M104.0,994.0L101.4,995.8M101.8,996.4A125.7,125.7 0 0 1 101.0,995.2M101.8,996.4L99.1,998.2M101.0,995.2L98.3,997.0M140.8,961.2L137.9,962.7M140.2,966.6A77.2,77.2 0 0 1 135.9,958.7M140.2,966.6L104.4,988.6M105.2,989.9A119.2,119.2 0 0 1 103.6,987.3M105.2,989.9L99.8,993.4M100.2,994.0A125.7,125.7 0 0 1 99.4,992.8M100.2,994.0L97.5,995.7M99.4,992.8L96.7,994.5M103.6,987.3L100.9,989.0M101.4,989.9A122.4,122.4 0 0 1 100.3,988.0M101.4,989.9L95.9,993.2M100.3,988.0L97.5,989.7M97.9,990.3A125.7,125.7 0 0 1 97.2,989.1M97.9,990.3L95.1,991.9M97.2,989.1L94.4,990.7M135.9,958.7L133.0,960.0M135.0,964.1A80.5,80.5 0 0 1 131.2,955.8M135.0,964.1L100.9,982.4M101.8,984.0A119.2,119.2 0 0 1 100.0,980.7M101.8,984.0L96.1,987.2M96.5,987.8A125.7,125.7 0 0 1 95.8,986.5M96.5,987.8L93.6,989.4M95.8,986.5L92.9,988.1M100.0,980.7L97.1,982.2M97.6,983.1A122.4,122.4 0 0 1 96.6,981.3M97.6,983.1L94.7,984.6M95.1,985.3A125.7,125.7 0 0 1 94.4,984.0M95.1,985.3L92.2,986.8M94.4,984.0L91.5,985.5M96.6,981.3L90.9,984.2M131.2,955.8L128.2,957.0M130.4,962.2A83.7,83.7 0 0 1 126.3,951.6M130.4,962.2L101.3,976.0M101.8,977.2A116.0,116.0 0 0 1 100.7,974.9M101.8,977.2L90.2,982.8M100.7,974.9L97.8,976.3M98.3,977.3A119.2,119.2 0 0 1 97.3,975.2M98.3,977.3L89.6,981.5M97.3,975.2L94.4,976.5M94.8,977.5A122.4,122.4 0 0 1 93.9,975.5M94.8,977.5L88.9,980.2M93.9,975.5L91.0,976.8M91.3,977.5A125.7,125.7 0 0 1 90.7,976.2M91.3,977.5L88.3,978.8M90.7,976.2L87.7,977.5M126.3,951.6L123.2,952.6M125.2,958.3A86.9,86.9 0 0 1 121.5,946.7M125.2,958.3L95.2,970.3M95.8,971.7A119.2,119.2 0 0 1 94.7,968.8M95.8,971.7L89.8,974.2M90.1,974.8A125.7,125.7 0 0 1 89.6,973.5M90.1,974.8L87.1,976.1M89.6,973.5L86.6,974.7M94.7,968.8L91.7,970.0M92.0,971.0A122.4,122.4 0 0 1 91.3,969.0M92.0,971.0L86.0,973.3M91.3,969.0L88.3,970.1M88.5,970.8A125.7,125.7 0 0 1 88.0,969.5M88.5,970.8L85.5,972.0M88.0,969.5L85.0,970.6M121.5,946.7L118.4,947.5M120.6,955.1A90.2,90.2 0 0 1 116.9,939.8M120.6,955.1L105.3,960.3M105.8,961.6A106.3,106.3 0 0 1 104.8,958.9M105.8,961.6L84.5,969.2M104.8,958.9L101.8,959.9M102.3,961.5A109.5,109.5 0 0 1 101.3,958.2M102.3,961.5L84.0,967.8M101.3,958.2L98.2,959.2M98.7,960.7A112.8,112.8 0 0 1 97.7,957.6M98.7,960.7L86.4,964.7M86.6,965.4A125.7,125.7 0 0 1 86.1,964.0M86.6,965.4L83.5,966.4M86.1,964.0L83.1,965.0M97.7,957.6L94.6,958.5M95.0,959.8A116.0,116.0 0 0 1 94.2,957.1M95.0,959.8L82.6,963.6M94.2,957.1L91.1,958.0M91.5,959.4A119.2,119.2 0 0 1 90.7,956.5M91.5,959.4L82.2,962.1M90.7,956.5L87.6,957.3M87.8,958.3A122.4,122.4 0 0 1 87.3,956.3M87.8,958.3L84.7,959.2M84.9,959.9A125.7,125.7 0 0 1 84.5,958.5M84.9,959.9L81.8,960.7M84.5,958.5L81.4,959.3M87.3,956.3L81.0,957.9M116.9,939.8L113.7,940.2M114.8,946.4A93.4,93.4 0 0 1 112.9,934.0M114.8,946.4L89.6,952.0M89.9,953.5A119.2,119.2 0 0 1 89.3,950.5M89.9,953.5L83.7,955.0M83.8,955.7A125.7,125.7 0 0 1 83.5,954.3M83.8,955.7L80.7,956.4M83.5,954.3L80.4,955.0M89.3,950.5L86.1,951.1M86.3,952.2A122.4,122.4 0 0 1 85.9,950.1M86.3,952.2L80.0,953.5M85.9,950.1L82.7,950.7M82.9,951.4A125.7,125.7 0 0 1 82.6,950.0M82.9,951.4L79.7,952.1M82.6,950.0L79.4,950.6M112.9,934.0L109.7,934.3M110.7,942.1A96.6,96.6 0 0 1 109.4,926.4M110.7,942.1L98.0,944.2M98.2,945.7A109.5,109.5 0 0 1 97.7,942.7M98.2,945.7L79.2,949.2M97.7,942.7L94.5,943.2M94.8,945.0A112.8,112.8 0 0 1 94.3,941.4M94.8,945.0L78.9,947.7M94.3,941.4L91.1,941.9M91.3,943.6A116.0,116.0 0 0 1 90.9,940.1M91.3,943.6L81.7,945.0M81.9,945.8A125.7,125.7 0 0 1 81.6,944.3M81.9,945.8L78.7,946.3M81.6,944.3L78.4,944.8M90.9,940.1L87.6,940.5M87.8,942.0A119.2,119.2 0 0 1 87.5,939.0M87.8,942.0L78.2,943.3M87.5,939.0L84.3,939.3M84.4,940.4A122.4,122.4 0 0 1 84.2,938.3M84.4,940.4L81.2,940.8M81.3,941.5A125.7,125.7 0 0 1 81.1,940.0M81.3,941.5L78.1,941.9M81.1,940.0L77.9,940.4M84.2,938.3L77.7,938.9M109.4,926.4L106.2,926.4M106.5,933.9A99.8,99.8 0 0 1 106.4,918.9M106.5,933.9L87.1,935.4M87.2,936.6A119.2,119.2 0 0 1 87.1,934.2M87.2,936.6L77.6,937.4M87.1,934.2L83.8,934.4M83.9,935.5A122.4,122.4 0 0 1 83.8,933.4M83.9,935.5L77.5,936.0M83.8,933.4L80.5,933.6M80.6,934.3A125.7,125.7 0 0 1 80.5,932.8M80.6,934.3L77.4,934.5M80.5,932.8L77.3,933.0M106.4,918.9L103.2,918.7M102.9,928.2A103.1,103.1 0 0 1 104.3,909.2M102.9,928.2L96.5,928.4M96.6,930.7A109.5,109.5 0 0 1 96.5,926.0M96.6,930.7L77.2,931.5M96.5,926.0L93.2,926.0M93.3,928.9A112.8,112.8 0 0 1 93.3,923.0M93.3,928.9L80.4,929.2M80.4,930.0A125.7,125.7 0 0 1 80.3,928.5M80.4,930.0L77.2,930.1M80.3,928.5L77.1,928.6M93.3,923.0L90.1,922.9M90.0,925.3A116.0,116.0 0 0 1 90.2,920.5M90.0,925.3L83.6,925.3M83.6,926.3A122.4,122.4 0 0 1 83.6,924.2M83.6,926.3L80.3,926.4M80.3,927.1A125.7,125.7 0 0 1 80.3,925.6M80.3,927.1L77.1,927.1M80.3,925.6L77.1,925.6M83.6,924.2L77.1,924.1M90.2,920.5L86.9,920.4M86.9,922.2A119.2,119.2 0 0 1 87.0,918.5M86.9,922.2L80.4,922.0M80.4,922.7A125.7,125.7 0 0 1 80.4,921.3M80.4,922.7L77.1,922.7M80.4,921.3L77.2,921.2M87.0,918.5L83.8,918.3M83.7,919.3A122.4,122.4 0 0 1 83.9,917.2M83.7,919.3L80.5,919.1M80.5,919.9A125.7,125.7 0 0 1 80.6,918.4M80.5,919.9L77.3,919.7M80.6,918.4L77.3,918.2M83.9,917.2L77.4,916.7M104.3,909.2L101.1,908.7M100.2,915.8A106.3,106.3 0 0 1 102.6,901.6M100.2,915.8L90.6,914.9M90.4,916.4A116.0,116.0 0 0 1 90.7,913.4M90.4,916.4L77.6,915.3M90.7,913.4L87.5,913.0M87.3,914.7A119.2,119.2 0 0 1 87.7,911.3M87.3,914.7L77.7,913.8M87.7,911.3L84.5,910.9M84.3,912.3A122.4,122.4 0 0 1 84.7,909.5M84.3,912.3L81.1,911.9M81.1,912.7A125.7,125.7 0 0 1 81.2,911.2M81.1,912.7L77.8,912.3M81.2,911.2L78.0,910.8M84.7,909.5L81.5,909.1M81.4,909.8A125.7,125.7 0 0 1 81.6,908.4M81.4,909.8L78.2,909.4M81.6,908.4L78.4,907.9M102.6,901.6L99.4,900.9M98.4,905.8A109.5,109.5 0 0 1 100.7,896.0M98.4,905.8L95.2,905.2M94.7,908.3A112.8,112.8 0 0 1 95.8,902.2M94.7,908.3L81.9,906.2M81.8,906.9A125.7,125.7 0 0 1 82.0,905.5M81.8,906.9L78.6,906.4M82.0,905.5L78.9,905.0M95.8,902.2L92.7,901.5M92.4,903.0A116.0,116.0 0 0 1 93.0,899.9M92.4,903.0L89.2,902.4M89.0,903.5A119.2,119.2 0 0 1 89.4,901.2M89.0,903.5L85.8,902.9M85.6,904.0A122.4,122.4 0 0 1 86.0,901.9M85.6,904.0L82.4,903.4M82.3,904.1A125.7,125.7 0 0 1 82.5,902.7M82.3,904.1L79.1,903.5M82.5,902.7L79.4,902.1M86.0,901.9L79.7,900.6M89.4,901.2L80.0,899.2M93.0,899.9L83.6,897.7M83.4,898.4A125.7,125.7 0 0 1 83.8,897.0M83.4,898.4L80.3,897.7M83.8,897.0L80.6,896.3M100.7,896.0L97.6,895.1M96.9,897.8A112.8,112.8 0 0 1 98.4,892.5M96.9,897.8L87.5,895.4M87.2,896.4A122.4,122.4 0 0 1 87.8,894.4M87.2,896.4L81.0,894.8M87.8,894.4L84.6,893.5M84.5,894.2A125.7,125.7 0 0 1 84.8,892.8M84.5,894.2L81.3,893.4M84.8,892.8L81.7,892.0M98.4,892.5L95.3,891.5M94.7,893.5A116.0,116.0 0 0 1 96.0,889.5M94.7,893.5L85.4,890.8M85.2,891.5A125.7,125.7 0 0 1 85.6,890.1M85.2,891.5L82.1,890.6M85.6,890.1L82.5,889.1M96.0,889.5L92.9,888.5M92.4,890.0A119.2,119.2 0 0 1 93.4,887.0M92.4,890.0L86.3,888.0M86.1,888.7A125.7,125.7 0 0 1 86.5,887.3M86.1,888.7L83.0,887.7M86.5,887.3L83.4,886.3M93.4,887.0L90.4,886.0M90.0,887.0A122.4,122.4 0 0 1 90.7,885.0M90.0,887.0L83.9,884.9M90.7,885.0L87.7,883.9M87.4,884.6A125.7,125.7 0 0 1 87.9,883.2M87.4,884.6L84.4,883.5M87.9,883.2L84.9,882.1" fill="none" stroke="#e2432c" stroke-width="1.0"/>
<path d="M240.6,932.9L294.5,943.2M295.2,939.4A90.2,90.2 0 0 1 293.7,947.0M295.2,939.4L323.9,943.7M324.1,942.2A119.2,119.2 0 0 1 323.7,945.2M324.1,942.2L327.3,942.6M327.5,941.6A122.4,122.4 0 0 1 327.2,943.6M327.5,941.6L333.9,942.4M327.2,943.6L330.4,944.1M330.5,943.4A125.7,125.7 0 0 1 330.3,944.8M330.5,943.4L333.7,943.8M330.3,944.8L333.5,945.3M323.7,945.2L333.2,946.8M293.7,947.0L296.9,947.8M297.7,944.1A93.4,93.4 0 0 1 295.9,951.4M297.7,944.1L323.0,949.1M323.3,947.6A119.2,119.2 0 0 1 322.7,950.6M323.3,947.6L326.5,948.2M326.6,947.1A122.4,122.4 0 0 1 326.3,949.2M326.6,947.1L333.0,948.2M326.3,949.2L329.4,949.8M329.6,949.1A125.7,125.7 0 0 1 329.3,950.5M329.6,949.1L332.7,949.7M329.3,950.5L332.5,951.1M322.7,950.6L332.2,952.6M295.9,951.4L299.0,952.3M300.0,948.7A96.6,96.6 0 0 1 298.0,955.8M300.0,948.7L325.1,954.7M325.4,953.3A122.4,122.4 0 0 1 324.7,956.1M325.4,953.3L328.5,954.0M328.7,953.3A125.7,125.7 0 0 1 328.4,954.7M328.7,953.3L331.9,954.0M328.4,954.7L331.5,955.5M324.7,956.1L327.9,956.8M328.1,956.1A125.7,125.7 0 0 1 327.7,957.5M328.1,956.1L331.2,956.9M327.7,957.5L330.8,958.3M298.0,955.8L301.0,956.8M302.2,952.8A99.8,99.8 0 0 1 299.7,960.8M302.2,952.8L327.1,959.6M327.3,958.9A125.7,125.7 0 0 1 326.9,960.3M327.3,958.9L330.4,959.8M326.9,960.3L330.1,961.2M299.7,960.8L302.7,961.9M304.5,956.6A103.1,103.1 0 0 1 300.6,967.1M304.5,956.6L319.9,961.4M320.4,959.9A119.2,119.2 0 0 1 319.4,962.8M320.4,959.9L329.6,962.6M319.4,962.8L322.5,963.8M322.8,962.8A122.4,122.4 0 0 1 322.2,964.8M322.8,962.8L325.9,963.8M326.1,963.1A125.7,125.7 0 0 1 325.7,964.5M326.1,963.1L329.2,964.0M325.7,964.5L328.8,965.5M322.2,964.8L328.3,966.9M300.6,967.1L303.6,968.4M306.1,962.1A106.3,106.3 0 0 1 300.7,974.5M306.1,962.1L315.2,965.4M315.6,964.1A116.0,116.0 0 0 1 314.7,966.7M315.6,964.1L327.8,968.3M314.7,966.7L317.7,967.8M318.2,966.4A119.2,119.2 0 0 1 317.2,969.3M318.2,966.4L327.4,969.7M317.2,969.3L320.2,970.5M320.5,969.5A122.4,122.4 0 0 1 319.8,971.4M320.5,969.5L323.6,970.6M323.8,969.9A125.7,125.7 0 0 1 323.3,971.3M323.8,969.9L326.8,971.1M323.3,971.3L326.3,972.4M319.8,971.4L325.8,973.8M300.7,974.5L303.6,976.0M306.5,969.9A109.5,109.5 0 0 1 300.3,981.9M306.5,969.9L312.4,972.4M313.3,970.3A116.0,116.0 0 0 1 311.4,974.6M313.3,970.3L325.2,975.2M311.4,974.6L314.4,975.9M315.1,974.3A119.2,119.2 0 0 1 313.6,977.5M315.1,974.3L318.0,975.6M318.4,974.7A122.4,122.4 0 0 1 317.6,976.6M318.4,974.7L321.4,976.0M321.7,975.3A125.7,125.7 0 0 1 321.1,976.6M321.7,975.3L324.7,976.6M321.1,976.6L324.1,977.9M317.6,976.6L323.5,979.3M313.6,977.5L316.5,978.8M317.0,977.9A122.4,122.4 0 0 1 316.1,979.8M317.0,977.9L322.9,980.6M316.1,979.8L319.0,981.2M319.3,980.6A125.7,125.7 0 0 1 318.7,981.9M319.3,980.6L322.2,982.0M318.7,981.9L321.6,983.3M300.3,981.9L303.1,983.5M305.0,980.2A112.8,112.8 0 0 1 301.1,986.8M305.0,980.2L310.7,983.2M311.8,981.1A119.2,119.2 0 0 1 309.5,985.3M311.8,981.1L314.7,982.6M315.2,981.7A122.4,122.4 0 0 1 314.2,983.6M315.2,981.7L320.9,984.6M314.2,983.6L317.0,985.1M317.4,984.4A125.7,125.7 0 0 1 316.7,985.7M317.4,984.4L320.2,985.9M316.7,985.7L319.5,987.2M309.5,985.3L312.3,986.9M312.8,986.0A122.4,122.4 0 0 1 311.8,987.9M312.8,986.0L315.7,987.6M316.0,987.0A125.7,125.7 0 0 1 315.3,988.2M316.0,987.0L318.8,988.5M315.3,988.2L318.1,989.8M311.8,987.9L317.4,991.1M301.1,986.8L303.8,988.6M305.2,986.3A116.0,116.0 0 0 1 302.3,990.8M305.2,986.3L313.5,991.3M313.8,990.7A125.7,125.7 0 0 1 313.1,992.0M313.8,990.7L316.6,992.4M313.1,992.0L315.8,993.6M302.3,990.8L305.0,992.6M305.9,991.2A119.2,119.2 0 0 1 304.0,994.0M305.9,991.2L308.7,992.9M309.2,992.1A122.4,122.4 0 0 1 308.1,993.8M309.2,992.1L311.9,993.8M312.3,993.2A125.7,125.7 0 0 1 311.6,994.4M312.3,993.2L315.1,994.9M311.6,994.4L314.3,996.2M308.1,993.8L313.5,997.4M304.0,994.0L306.7,995.9M307.3,995.0A122.4,122.4 0 0 1 306.1,996.7M307.3,995.0L312.6,998.6M306.1,996.7L308.7,998.6M309.1,998.0A125.7,125.7 0 0 1 308.3,999.2M309.1,998.0L311.8,999.8M308.3,999.2L310.9,1001.1M235.4,951.1L292.1,999.1M294.1,996.5A112.8,112.8 0 0 1 289.9,1001.5M294.1,996.5L296.7,998.5M298.4,996.4A116.0,116.0 0 0 1 294.9,1000.7M298.4,996.4L300.9,998.3M301.8,997.1A119.2,119.2 0 0 1 300.0,999.5M301.8,997.1L307.0,1000.9M307.5,1000.3A125.7,125.7 0 0 1 306.6,1001.5M307.5,1000.3L310.1,1002.3M306.6,1001.5L309.2,1003.4M300.0,999.5L302.5,1001.5M303.2,1000.7A122.4,122.4 0 0 1 301.9,1002.4M303.2,1000.7L308.3,1004.6M301.9,1002.4L304.4,1004.4M304.9,1003.8A125.7,125.7 0 0 1 304.0,1004.9M304.9,1003.8L307.4,1005.8M304.0,1004.9L306.5,1007.0M294.9,1000.7L299.9,1004.8M300.6,1004.0A122.4,122.4 0 0 1 299.2,1005.6M300.6,1004.0L305.5,1008.1M299.2,1005.6L301.7,1007.7M302.1,1007.2A125.7,125.7 0 0 1 301.2,1008.3M302.1,1007.2L304.6,1009.2M301.2,1008.3L303.6,1010.4M289.9,1001.5L297.1,1008.0M297.8,1007.2A122.4,122.4 0 0 1 296.4,1008.8M297.8,1007.2L302.7,1011.5M296.4,1008.8L298.8,1011.0M299.3,1010.4A125.7,125.7 0 0 1 298.3,1011.5M299.3,1010.4L301.7,1012.6M298.3,1011.5L300.7,1013.7" fill="none" stroke="#a65bb5" stroke-width="1.0"/>
<path d="M92.7,860.1A131.2,131.2 0 0 1 130.0,819.2" fill="none" stroke="#2451a6" stroke-width="3.8"/>
<path d="M130.0,819.2A131.2,131.2 0 0 1 332.4,891.1" fill="none" stroke="#21aecb" stroke-width="3.8"/>
<path d="M332.4,891.1A131.2,131.2 0 0 1 333.2,894.1" fill="none" stroke="#e2432c" stroke-width="3.8"/>
<path d="M333.2,894.1A131.2,131.2 0 0 1 334.5,899.9" fill="none" stroke="#21aecb" stroke-width="3.8"/>
<path d="M334.5,899.9A131.2,131.2 0 0 1 336.3,941.9" fill="none" stroke="#e2432c" stroke-width="3.8"/>
<path d="M336.3,941.9A131.2,131.2 0 0 1 301.9,1015.8" fill="none" stroke="#a65bb5" stroke-width="3.8"/>
<path d="M301.9,1015.8A131.2,131.2 0 0 1 139.0,1039.0" fill="none" stroke="#e2432c" stroke-width="3.8"/>
<path d="M139.0,1039.0A131.2,131.2 0 0 1 135.2,1036.6" fill="none" stroke="#21aecb" stroke-width="3.8"/>
<path d="M135.2,1036.6A131.2,131.2 0 0 1 109.8,1015.4" fill="none" stroke="#e2432c" stroke-width="3.8"/>
<path d="M109.8,1015.4A131.2,131.2 0 0 1 107.8,1013.2" fill="none" stroke="#21aecb" stroke-width="3.8"/>
<path d="M107.8,1013.2A131.2,131.2 0 0 1 83.0,880.6" fill="none" stroke="#e2432c" stroke-width="3.8"/>
<path d="M85.3,854.8A140.2,140.2 0 0 1 99.6,835.0" fill="none" stroke="#7d7a35" stroke-width="3.6"/>
<path d="M99.6,835.0A140.2,140.2 0 0 1 101.2,833.1" fill="none" stroke="#2a9d9a" stroke-width="3.6"/>
<path d="M101.2,833.1A140.2,140.2 0 0 1 106.3,827.7" fill="none" stroke="#b5207e" stroke-width="3.6"/>
<path d="M106.3,827.7A140.2,140.2 0 0 1 108.8,825.2" fill="none" stroke="#8fc31f" stroke-width="3.6"/>
<path d="M108.8,825.2A140.2,140.2 0 0 1 113.8,820.6" fill="none" stroke="#f6b128" stroke-width="3.6"/>
<path d="M113.8,820.6A140.2,140.2 0 0 1 119.9,815.6" fill="none" stroke="#ee7a1c" stroke-width="3.6"/>
<path d="M119.9,815.6A140.2,140.2 0 0 1 123.8,812.6" fill="none" stroke="#e0409a" stroke-width="3.6"/>
<text x="-3.2" y="794" font-size="19.8" font-weight="bold" color="#231815">F</text>
<text x="8" y="808.1" font-size="8.3" font-style="italic" color="#ee7a1c">O.canadensis</text>
<text x="8" y="819.1" font-size="8.3" font-style="italic" color="#f6b128">O.dalli</text>
<text x="8" y="830.1" font-size="8.3" font-style="italic" color="#8fc31f">O.nivicola</text>
<text x="8" y="841.3" font-size="8.3" font-style="italic" color="#b5207e">O.ammon</text>
<text x="8" y="852.1" font-size="8.3" font-style="italic" color="#2a9d9a">O.vignei</text>
<text x="8" y="863.3" font-size="8.3" font-style="italic" color="#7d7a35">O.orientalis</text>
<text x="99" y="794.6" font-size="8.4" font-style="italic" color="#e0409a">O.musimon</text>
<path d="M63,806.3L115.5,817.5M36,817.3L110.5,821.7M49,828.3L106.2,825.9M48,839.5L102,830.2M43,850.3L99,833.6M54,861.5L93.1,842.5M122.7,798.4L121.5,812.4" stroke="#231f20" stroke-width="0.95" fill="none"/>
<text x="262.4" y="798.2" font-size="8.8" text-anchor="middle" color="#21aecb" transform="rotate(21 262.4 798.2)">European</text>
<text x="336.2" y="975" font-size="8.5" font-weight="bold" color="#a65bb5">African</text>
<text x="333.5" y="1014.5" font-size="8.5" text-anchor="middle" font-weight="bold" color="#a65bb5">African</text>
<text x="333.5" y="1025.5" font-size="8.5" text-anchor="middle" font-weight="bold" color="#a65bb5">(Dorper)</text>
<text x="200.5" y="1072.3" font-size="8.8" text-anchor="middle" font-weight="bold" color="#e2432c">Asian</text>
<path d="M558.7,927.8A3.0,3.0 0 0 1 559.5,926.9M559.5,926.9L557.8,924.5M556.9,925.2A6.0,6.0 0 0 1 558.8,923.9M558.8,923.9L557.6,921.2M556.5,921.7A9.0,9.0 0 0 1 558.7,920.8M558.7,920.8L557.8,917.9M557.1,918.1A12.0,12.0 0 0 1 558.5,917.7M558.5,917.7L557.8,914.8M556.7,915.1A15.0,15.0 0 0 1 559.0,914.6M559.0,914.6L558.5,911.6M556.5,912.0A18.0,18.0 0 0 1 560.6,911.4M560.6,911.4L560.5,908.4M557.7,908.7A21.0,21.0 0 0 1 563.3,908.5M563.3,908.5L563.6,905.5M560.8,905.4A24.0,24.0 0 0 1 566.4,906.0M566.4,906.0L567.0,903.0M564.0,902.5A27.0,27.0 0 0 1 569.9,903.8M569.9,903.8L570.9,901.0M565.8,899.8A30.0,30.0 0 0 1 575.7,903.1M575.7,903.1L577.2,900.5M569.0,897.3A33.0,33.0 0 0 1 584.2,905.8M584.2,905.8L586.3,903.6M575.1,896.2A36.0,36.0 0 0 1 594.0,914.6M594.0,914.6L596.8,913.4M586.4,899.6A39.0,39.0 0 0 1 600.2,930.3M586.4,899.6L619.3,860.7M609.8,853.7A90.0,90.0 0 0 1 627.9,868.9M627.9,868.9L630.1,866.9M616.4,854.6A93.0,93.0 0 0 1 641.0,881.7M641.0,881.7L643.6,880.1M631.5,864.0A96.0,96.0 0 0 1 652.1,898.5M631.5,864.0L633.7,862.0M625.7,854.3A99.0,99.0 0 0 1 640.8,870.5M600.2,930.3L603.2,930.4M602.8,923.6A42.0,42.0 0 0 1 602.5,937.2M602.5,937.2L605.4,937.7M606.2,928.5A45.0,45.0 0 0 1 602.8,946.6M602.8,946.6L605.5,947.8M609.0,934.0A48.0,48.0 0 0 1 598.3,959.9M609.0,934.0L671.7,940.1M672.0,935.2A111.0,111.0 0 0 1 671.1,945.1M672.0,935.2L678.0,935.5M678.1,933.6A117.0,117.0 0 0 1 677.9,937.4M671.1,945.1L674.1,945.5M674.5,942.1A114.0,114.0 0 0 1 673.5,948.8M673.5,948.8L676.5,949.4M676.8,947.5A117.0,117.0 0 0 1 676.1,951.2" fill="none" stroke="#000" stroke-width="1.1"/>
<path d="M558.7,927.8L465.6,867.2M464.5,869.1A114.0,114.0 0 0 1 466.8,865.4M464.5,869.1L461.9,867.5M460.9,869.1A117.0,117.0 0 0 1 462.9,865.9M460.9,869.1L458.4,867.6M457.7,868.7A120.0,120.0 0 0 1 459.0,866.4M457.7,868.7L455.1,867.2M459.0,866.4L456.5,864.9M462.9,865.9L457.9,862.6M466.8,865.4L459.4,860.4M556.9,925.2L486.2,855.9M481.1,861.5A105.0,105.0 0 0 1 491.6,850.8M481.1,861.5L478.8,859.5M475.2,864.0A108.0,108.0 0 0 1 482.7,855.2M475.2,864.0L468.1,858.6M466.5,860.6A117.0,117.0 0 0 1 469.6,856.6M466.5,860.6L464.1,858.9M463.4,859.9A120.0,120.0 0 0 1 464.9,857.8M463.4,859.9L460.9,858.2M464.9,857.8L462.5,856.0M469.6,856.6L467.3,854.7M466.5,855.8A120.0,120.0 0 0 1 468.1,853.7M466.5,855.8L464.1,853.9M468.1,853.7L465.7,851.8M482.7,855.2L480.5,853.2M478.0,855.9A111.0,111.0 0 0 1 483.1,850.5M478.0,855.9L475.7,854.0M474.3,855.6A114.0,114.0 0 0 1 477.2,852.4M474.3,855.6L467.5,849.8M477.2,852.4L475.0,850.3M473.7,851.7A117.0,117.0 0 0 1 476.3,848.9M473.7,851.7L469.2,847.8M476.3,848.9L474.1,846.9M473.2,847.8A120.0,120.0 0 0 1 475.0,845.9M473.2,847.8L471.0,845.8M475.0,845.9L472.8,843.8M483.1,850.5L474.7,841.9M491.6,850.8L487.7,846.3M484.9,848.8A111.0,111.0 0 0 1 490.5,843.8M484.9,848.8L476.6,840.1M490.5,843.8L488.6,841.5M486.0,843.7A114.0,114.0 0 0 1 491.3,839.4M486.0,843.7L484.0,841.5M482.6,842.7A117.0,117.0 0 0 1 485.5,840.2M482.6,842.7L478.6,838.3M485.5,840.2L483.5,837.9M482.5,838.8A120.0,120.0 0 0 1 484.5,837.1M482.5,838.8L480.6,836.5M484.5,837.1L482.6,834.8M491.3,839.4L487.6,834.6M486.6,835.4A120.0,120.0 0 0 1 488.6,833.8M486.6,835.4L484.7,833.1M488.6,833.8L486.8,831.5M556.5,921.7L504.9,837.3M500.6,840.0A108.0,108.0 0 0 1 509.2,834.7M500.6,840.0L495.6,832.5M493.5,834.0A117.0,117.0 0 0 1 497.7,831.1M493.5,834.0L491.8,831.5M490.7,832.3A120.0,120.0 0 0 1 492.8,830.8M490.7,832.3L488.9,829.9M492.8,830.8L491.1,828.3M497.7,831.1L496.1,828.6M495.0,829.3A120.0,120.0 0 0 1 497.2,827.9M495.0,829.3L493.3,826.8M497.2,827.9L495.6,825.4M509.2,834.7L507.8,832.1M505.1,833.6A111.0,111.0 0 0 1 510.6,830.6M505.1,833.6L500.5,825.9M499.4,826.6A120.0,120.0 0 0 1 501.6,825.2M499.4,826.6L497.8,824.0M501.6,825.2L500.1,822.6M510.6,830.6L509.2,827.9M506.8,829.2A114.0,114.0 0 0 1 511.7,826.7M506.8,829.2L502.5,821.3M511.7,826.7L510.4,824.0M508.7,824.8A117.0,117.0 0 0 1 512.1,823.2M508.7,824.8L507.4,822.2M506.2,822.7A120.0,120.0 0 0 1 508.5,821.6M506.2,822.7L504.8,820.1M508.5,821.6L507.2,818.9M512.1,823.2L509.6,817.7M557.1,918.1L523.7,824.9M521.6,825.7A111.0,111.0 0 0 1 525.8,824.2M521.6,825.7L520.5,822.9M518.5,823.7A114.0,114.0 0 0 1 522.5,822.2M518.5,823.7L517.4,820.9M515.6,821.6A117.0,117.0 0 0 1 519.1,820.2M515.6,821.6L514.4,818.9M513.3,819.4A120.0,120.0 0 0 1 515.6,818.4M513.3,819.4L512.1,816.6M515.6,818.4L514.5,815.6M519.1,820.2L517.0,814.6M522.5,822.2L519.5,813.7M525.8,824.2L522.0,812.8M556.7,915.1L524.5,812.0M556.5,912.0L530.6,816.5M528.8,817.0A117.0,117.0 0 0 1 532.4,816.0M528.8,817.0L527.1,811.2M532.4,816.0L531.7,813.1M530.4,813.4A120.0,120.0 0 0 1 533.0,812.8M530.4,813.4L529.7,810.5M533.0,812.8L532.3,809.9M557.7,908.7L542.6,820.0M538.6,820.7A111.0,111.0 0 0 1 546.6,819.4M538.6,820.7L536.8,811.9M535.5,812.2A120.0,120.0 0 0 1 538.1,811.7M535.5,812.2L534.9,809.3M538.1,811.7L537.5,808.7M546.6,819.4L546.2,816.4M542.9,816.9A114.0,114.0 0 0 1 549.6,816.0M542.9,816.9L541.9,811.0M540.6,811.2A120.0,120.0 0 0 1 543.2,810.8M540.6,811.2L540.1,808.2M543.2,810.8L542.7,807.8M549.6,816.0L549.3,813.0M547.4,813.2A117.0,117.0 0 0 1 551.2,812.8M547.4,813.2L547.1,810.2M545.8,810.4A120.0,120.0 0 0 1 548.3,810.1M545.8,810.4L545.4,807.4M548.3,810.1L548.0,807.1M551.2,812.8L550.7,806.9M560.8,905.4L559.5,821.4M554.3,821.6A108.0,108.0 0 0 1 564.7,821.5M554.3,821.6L553.3,806.7M564.7,821.5L564.8,818.5M561.0,818.4A111.0,111.0 0 0 1 568.5,818.6M561.0,818.4L561.0,815.4M557.6,815.5A114.0,114.0 0 0 1 564.4,815.4M557.6,815.5L557.4,809.5M556.1,809.5A120.0,120.0 0 0 1 558.7,809.4M556.1,809.5L556.0,806.5M558.7,809.4L558.7,806.4M564.4,815.4L564.5,812.4M562.6,812.4A117.0,117.0 0 0 1 566.4,812.5M562.6,812.4L562.6,809.4M561.3,809.4A120.0,120.0 0 0 1 563.9,809.4M561.3,809.4L561.3,806.4M563.9,809.4L564.0,806.4M566.4,812.5L566.7,806.5M568.5,818.6L569.3,806.7M564.0,902.5L573.4,813.0M571.5,812.9A117.0,117.0 0 0 1 575.3,813.2M571.5,812.9L572.0,806.9M575.3,813.2L575.6,810.3M574.3,810.1A120.0,120.0 0 0 1 576.9,810.4M574.3,810.1L574.7,807.1M576.9,810.4L577.3,807.5M565.8,899.8L580.0,807.8M569.0,897.3L586.6,824.4M581.1,823.3A108.0,108.0 0 0 1 592.1,825.9M581.1,823.3L583.3,811.5M582.1,811.2A120.0,120.0 0 0 1 584.6,811.7M582.1,811.2L582.6,808.3M584.6,811.7L585.2,808.8M592.1,825.9L592.9,823.0M590.2,822.3A111.0,111.0 0 0 1 595.7,823.9M590.2,822.3L591.0,819.4M588.9,818.8A114.0,114.0 0 0 1 593.1,819.9M588.9,818.8L589.6,815.9M587.8,815.5A117.0,117.0 0 0 1 591.4,816.4M587.8,815.5L588.4,812.5M587.2,812.2A120.0,120.0 0 0 1 589.7,812.8M587.2,812.2L587.8,809.3M589.7,812.8L590.4,809.9M591.4,816.4L593.0,810.6M593.1,819.9L595.6,811.3M595.7,823.9L598.5,815.3M597.2,814.9A120.0,120.0 0 0 1 599.7,815.7M597.2,814.9L598.1,812.1M599.7,815.7L600.7,812.9M575.1,896.2L602.8,829.7M598.1,827.9A108.0,108.0 0 0 1 607.4,831.8M598.1,827.9L603.2,813.8M607.4,831.8L608.7,829.1M604.1,827.0A111.0,111.0 0 0 1 613.1,831.3M604.1,827.0L606.5,821.5M604.7,820.8A117.0,117.0 0 0 1 608.2,822.3M604.7,820.8L605.8,818.0M604.6,817.5A120.0,120.0 0 0 1 607.0,818.5M604.6,817.5L605.7,814.7M607.0,818.5L608.2,815.7M608.2,822.3L610.6,816.8M613.1,831.3L614.5,828.6M612.0,827.4A114.0,114.0 0 0 1 617.0,830.0M612.0,827.4L613.4,824.7M611.7,823.8A117.0,117.0 0 0 1 615.1,825.5M611.7,823.8L613.0,821.1M611.8,820.6A120.0,120.0 0 0 1 614.1,821.7M611.8,820.6L613.0,817.9M614.1,821.7L615.4,819.0M615.1,825.5L617.8,820.2M617.0,830.0L619.9,824.7M618.7,824.1A120.0,120.0 0 0 1 621.0,825.4M618.7,824.1L620.2,821.5M621.0,825.4L622.5,822.8" fill="none" stroke="#2451a6" stroke-width="1.1"/>
<path d="M609.8,853.7L624.4,830.9M622.8,829.9A117.0,117.0 0 0 1 626.0,832.0M622.8,829.9L624.4,827.4M623.3,826.7A120.0,120.0 0 0 1 625.5,828.1M623.3,826.7L624.8,824.1M625.5,828.1L627.1,825.5M616.4,854.6L630.7,835.3M629.1,834.1A117.0,117.0 0 0 1 632.2,836.4M629.1,834.1L630.9,831.7M629.8,830.9A120.0,120.0 0 0 1 631.9,832.5M632.2,836.4L635.8,831.6M625.7,854.3L633.5,845.1M630.5,842.7A111.0,111.0 0 0 1 636.4,847.7M630.5,842.7L637.9,833.3M636.4,847.7L638.4,845.5M635.7,843.1A114.0,114.0 0 0 1 641.1,848.1M635.7,843.1L637.6,840.8M636.2,839.6A117.0,117.0 0 0 1 639.0,842.1M636.2,839.6L640.0,835.0M639.0,842.1L641.0,839.8M640.1,839.0A120.0,120.0 0 0 1 642.0,840.7M640.1,839.0L642.0,836.7M642.0,840.7L644.0,838.5M641.1,848.1L643.2,846.0M641.8,844.6A117.0,117.0 0 0 1 644.6,847.3M641.8,844.6L646.0,840.3M644.6,847.3L646.7,845.2M645.8,844.3A120.0,120.0 0 0 1 647.6,846.1M645.8,844.3L647.9,842.1M647.6,846.1L649.8,844.0M640.8,870.5L643.2,868.7M638.0,862.3A102.0,102.0 0 0 1 647.8,875.5M638.0,862.3L649.3,852.4M648.0,851.0A117.0,117.0 0 0 1 650.6,853.9M648.0,851.0L650.3,849.0M649.4,848.0A120.0,120.0 0 0 1 651.1,850.0M649.4,848.0L651.6,846.0M651.1,850.0L653.4,848.0M650.6,853.9L655.1,850.0M647.8,875.5L650.4,873.9M645.0,866.2A105.0,105.0 0 0 1 655.0,882.2M645.0,866.2L649.8,862.6M647.5,859.6A111.0,111.0 0 0 1 652.0,865.6M647.5,859.6L656.8,852.0M652.0,865.6L654.5,863.9M652.5,861.1A114.0,114.0 0 0 1 656.4,866.7M652.5,861.1L654.9,859.3M653.7,857.8A117.0,117.0 0 0 1 656.0,860.9M653.7,857.8L658.5,854.1M656.0,860.9L658.5,859.1M657.7,858.1A120.0,120.0 0 0 1 659.2,860.2M657.7,858.1L660.1,856.3M659.2,860.2L661.7,858.4M656.4,866.7L661.4,863.4M660.7,862.3A120.0,120.0 0 0 1 662.1,864.5M660.7,862.3L663.2,860.6M662.1,864.5L664.6,862.9M655.0,882.2L657.7,880.8M655.3,876.4A108.0,108.0 0 0 1 659.8,885.4M655.3,876.4L657.9,874.9M655.8,871.4A111.0,111.0 0 0 1 659.8,878.5M655.8,871.4L666.1,865.1M659.8,878.5L662.5,877.1M661.2,874.6A114.0,114.0 0 0 1 663.7,879.6M661.2,874.6L663.8,873.2M662.9,871.5A117.0,117.0 0 0 1 664.7,874.9M662.9,871.5L665.5,870.0M664.8,868.9A120.0,120.0 0 0 1 666.1,871.2M664.8,868.9L667.4,867.4M666.1,871.2L668.8,869.7M664.7,874.9L670.0,872.1M663.7,879.6L669.1,877.0M668.6,875.8A120.0,120.0 0 0 1 669.7,878.1M668.6,875.8L671.2,874.4M669.7,878.1L672.4,876.8M659.8,885.4L673.5,879.3M652.1,898.5L660.6,895.6M658.6,890.3A105.0,105.0 0 0 1 662.3,901.0M658.6,890.3L669.8,885.8M669.1,884.0A117.0,117.0 0 0 1 670.5,887.6M669.1,884.0L674.6,881.7M670.5,887.6L673.3,886.5M672.8,885.3A120.0,120.0 0 0 1 673.7,887.7M672.8,885.3L675.6,884.2M673.7,887.7L676.5,886.7M662.3,901.0L665.2,900.2M663.6,895.2A108.0,108.0 0 0 1 666.5,905.2M663.6,895.2L675.0,891.4M674.6,890.2A120.0,120.0 0 0 1 675.4,892.6M674.6,890.2L677.4,889.2M675.4,892.6L678.3,891.7M666.5,905.2L669.4,904.5M668.1,899.4A111.0,111.0 0 0 1 670.4,909.7M668.1,899.4L673.9,897.8M673.3,896.0A117.0,117.0 0 0 1 674.4,899.7M673.3,896.0L679.1,894.3M674.4,899.7L677.3,898.9M676.9,897.6A120.0,120.0 0 0 1 677.6,900.2M676.9,897.6L679.8,896.8M677.6,900.2L680.5,899.4M670.4,909.7L673.4,909.2M673.0,907.0A114.0,114.0 0 0 1 673.8,911.3M673.0,907.0L675.9,906.5M675.5,904.6A117.0,117.0 0 0 1 676.3,908.3M675.5,904.6L678.5,904.0M678.2,902.7A120.0,120.0 0 0 1 678.7,905.2M678.2,902.7L681.1,902.0M678.7,905.2L681.7,904.6M676.3,908.3L682.2,907.2M673.8,911.3L682.6,909.9M602.8,923.6L683.0,912.5M678.1,933.6L684.1,933.8M679.6,949.2L682.5,949.7" fill="none" stroke="#e2432c" stroke-width="1.1"/>
<path d="M626.0,832.0L629.3,827.0M629.8,830.9L631.5,828.5M631.9,832.5L633.7,830.0M606.2,928.5L669.2,927.2M669.0,923.5A108.0,108.0 0 0 1 669.2,930.9M669.0,923.5L672.0,923.3M671.7,919.2A111.0,111.0 0 0 1 672.2,927.4M671.7,919.2L674.7,919.0M674.4,916.2A114.0,114.0 0 0 1 674.9,921.7M674.4,916.2L683.4,915.2M674.9,921.7L677.9,921.5M677.8,919.6A117.0,117.0 0 0 1 678.0,923.4M677.8,919.6L680.8,919.4M680.7,918.1A120.0,120.0 0 0 1 680.9,920.7M680.7,918.1L683.7,917.8M680.9,920.7L683.9,920.5M678.0,923.4L684.0,923.1M672.2,927.4L681.2,927.2M681.1,925.9A120.0,120.0 0 0 1 681.2,928.5M681.1,925.9L684.1,925.8M681.2,928.5L684.2,928.5M669.2,930.9L684.2,931.1" fill="none" stroke="#a65bb5" stroke-width="1.1"/>
<path d="M677.9,937.4L680.9,937.6M681.0,936.3A120.0,120.0 0 0 1 680.8,938.9M681.0,936.3L684.0,936.5M680.8,938.9L683.8,939.1M674.5,942.1L680.5,942.8M680.6,941.5A120.0,120.0 0 0 1 680.3,944.1M680.6,941.5L683.6,941.8M680.3,944.1L683.3,944.4M676.8,947.5L679.8,947.9M680.0,946.7A120.0,120.0 0 0 1 679.6,949.2M680.0,946.7L682.9,947.1M676.1,951.2L682.0,952.4M598.3,959.9L600.6,961.8M610.0,944.1A51.0,51.0 0 0 1 585.1,974.5M610.0,944.1L661.7,959.7M663.5,952.9A105.0,105.0 0 0 1 659.5,966.4M663.5,952.9L675.2,955.6M675.6,953.7A117.0,117.0 0 0 1 674.8,957.4M675.6,953.7L681.5,955.0M674.8,957.4L677.7,958.2M678.0,956.9A120.0,120.0 0 0 1 677.4,959.4M678.0,956.9L680.9,957.6M677.4,959.4L680.3,960.2M659.5,966.4L662.3,967.4M664.3,961.5A108.0,108.0 0 0 1 659.9,973.3M664.3,961.5L672.9,964.2M673.5,962.3A117.0,117.0 0 0 1 672.3,966.0M673.5,962.3L676.3,963.2M676.7,961.9A120.0,120.0 0 0 1 676.0,964.4M676.7,961.9L679.6,962.7M676.0,964.4L678.8,965.3M672.3,966.0L678.0,967.8M659.9,973.3L662.6,974.5M664.0,971.2A111.0,111.0 0 0 1 661.1,977.8M664.0,971.2L666.8,972.3M667.6,970.3A114.0,114.0 0 0 1 666.0,974.3M667.6,970.3L670.4,971.3M671.1,969.6A117.0,117.0 0 0 1 669.7,973.1M671.1,969.6L673.9,970.6M674.3,969.4A120.0,120.0 0 0 1 673.5,971.8M674.3,969.4L677.2,970.4M673.5,971.8L676.3,972.9M669.7,973.1L675.3,975.4M666.0,974.3L674.3,977.8M661.1,977.8L663.8,979.1M665.0,976.5A114.0,114.0 0 0 1 662.6,981.6M665.0,976.5L673.2,980.3M662.6,981.6L665.2,982.9M666.1,981.2A117.0,117.0 0 0 1 664.4,984.6M666.1,981.2L668.8,982.6M669.4,981.4A120.0,120.0 0 0 1 668.2,983.7M669.4,981.4L672.1,982.7M668.2,983.7L670.9,985.1M664.4,984.6L669.6,987.4M585.1,974.5L586.5,977.1M605.5,960.2A54.0,54.0 0 0 1 561.7,983.4M605.5,960.2L640.0,984.2M644.1,977.9A96.0,96.0 0 0 1 635.5,990.2M644.1,977.9L662.2,988.5M663.1,986.8A117.0,117.0 0 0 1 661.2,990.1M663.1,986.8L668.4,989.8M661.2,990.1L663.8,991.7M664.4,990.6A120.0,120.0 0 0 1 663.1,992.8M664.4,990.6L667.0,992.1M663.1,992.8L665.6,994.4M635.5,990.2L637.8,992.1M641.2,987.7A99.0,99.0 0 0 1 634.2,996.2M641.2,987.7L653.3,996.5M654.9,994.3A114.0,114.0 0 0 1 651.7,998.8M654.9,994.3L657.4,996.0M658.5,994.4A117.0,117.0 0 0 1 656.3,997.5M658.5,994.4L661.0,996.1M661.7,995.0A120.0,120.0 0 0 1 660.2,997.1M661.7,995.0L664.2,996.6M660.2,997.1L662.7,998.8M656.3,997.5L661.2,1001.0M651.7,998.8L656.4,1002.4M657.2,1001.4A120.0,120.0 0 0 1 655.6,1003.4M657.2,1001.4L659.6,1003.2M655.6,1003.4L658.0,1005.3M634.2,996.2L636.4,998.3M639.4,994.9A102.0,102.0 0 0 1 633.4,1001.5M639.4,994.9L653.2,1006.5M654.0,1005.5A120.0,120.0 0 0 1 652.3,1007.5M654.0,1005.5L656.3,1007.4M652.3,1007.5L654.6,1009.4M633.4,1001.5L635.5,1003.6M638.7,1000.3A105.0,105.0 0 0 1 632.2,1006.8M638.7,1000.3L649.7,1010.4M650.6,1009.4A120.0,120.0 0 0 1 648.9,1011.4M650.6,1009.4L652.8,1011.4M648.9,1011.4L651.0,1013.4M632.2,1006.8L634.2,1009.0M638.5,1004.9A108.0,108.0 0 0 1 629.7,1012.9M638.5,1004.9L649.2,1015.3M629.7,1012.9L631.6,1015.2M635.6,1011.7A111.0,111.0 0 0 1 627.5,1018.4M635.6,1011.7L637.6,1014.0M640.1,1011.7A114.0,114.0 0 0 1 635.1,1016.2M640.1,1011.7L644.3,1016.0M645.2,1015.1A120.0,120.0 0 0 1 643.3,1016.9M645.2,1015.1L647.3,1017.2M643.3,1016.9L645.4,1019.1M635.1,1016.2L637.0,1018.5M638.5,1017.3A117.0,117.0 0 0 1 635.6,1019.7M638.5,1017.3L640.5,1019.5M641.4,1018.6A120.0,120.0 0 0 1 639.5,1020.4M641.4,1018.6L643.4,1020.9M639.5,1020.4L641.4,1022.6M635.6,1019.7L639.4,1024.4M627.5,1018.4L631.1,1023.2M632.6,1022.1A117.0,117.0 0 0 1 629.5,1024.4M632.6,1022.1L634.4,1024.5M635.4,1023.7A120.0,120.0 0 0 1 633.4,1025.3M635.4,1023.7L637.3,1026.0M633.4,1025.3L635.2,1027.7M629.5,1024.4L633.0,1029.2M561.7,983.4L561.8,986.4M580.3,983.1A57.0,57.0 0 0 1 543.1,983.5M580.3,983.1L594.4,1022.7M609.3,1015.9A99.0,99.0 0 0 1 578.7,1026.8M609.3,1015.9L610.8,1018.6M616.7,1015.0A102.0,102.0 0 0 1 604.6,1021.7M616.7,1015.0L624.8,1027.6M626.4,1026.5A117.0,117.0 0 0 1 623.2,1028.6M626.4,1026.5L628.1,1029.0M629.2,1028.3A120.0,120.0 0 0 1 627.0,1029.8M629.2,1028.3L630.9,1030.8M627.0,1029.8L628.6,1032.3M623.2,1028.6L626.4,1033.7M604.6,1021.7L605.9,1024.4M613.2,1020.6A105.0,105.0 0 0 1 598.3,1027.6M613.2,1020.6L617.6,1028.4M619.5,1027.4A114.0,114.0 0 0 1 615.8,1029.5M619.5,1027.4L624.1,1035.1M615.8,1029.5L617.2,1032.1M618.9,1031.2A117.0,117.0 0 0 1 615.5,1033.0M618.9,1031.2L621.8,1036.4M615.5,1033.0L616.9,1035.7M618.1,1035.1A120.0,120.0 0 0 1 615.7,1036.3M618.1,1035.1L619.5,1037.7M615.7,1036.3L617.1,1039.0M598.3,1027.6L599.4,1030.4M605.0,1028.1A108.0,108.0 0 0 1 593.6,1032.4M605.0,1028.1L608.7,1036.3M611.0,1035.3A117.0,117.0 0 0 1 606.3,1037.3M611.0,1035.3L612.2,1038.0M613.4,1037.4A120.0,120.0 0 0 1 611.1,1038.6M613.4,1037.4L614.7,1040.1M611.1,1038.6L612.3,1041.3M606.3,1037.3L607.5,1040.1M608.7,1039.6A120.0,120.0 0 0 1 606.3,1040.6M608.7,1039.6L609.9,1042.4M606.3,1040.6L607.4,1043.4M593.6,1032.4L594.5,1035.3M597.8,1034.2A111.0,111.0 0 0 1 591.2,1036.3M597.8,1034.2L599.8,1039.8M601.6,1039.2A117.0,117.0 0 0 1 598.0,1040.5M601.6,1039.2L602.6,1042.0M603.9,1041.6A120.0,120.0 0 0 1 601.4,1042.5M603.9,1041.6L604.9,1044.4M601.4,1042.5L602.4,1045.3M598.0,1040.5L599.9,1046.2M591.2,1036.3L592.0,1039.2M594.7,1038.4A114.0,114.0 0 0 1 589.3,1039.9M594.7,1038.4L597.4,1047.0M589.3,1039.9L590.1,1042.8M591.9,1042.3A117.0,117.0 0 0 1 588.2,1043.2M591.9,1042.3L592.7,1045.2M594.0,1044.8A120.0,120.0 0 0 1 591.5,1045.5M594.0,1044.8L594.8,1047.7M591.5,1045.5L592.2,1048.4M588.2,1043.2L589.6,1049.1M578.7,1026.8L580.8,1038.7M584.5,1037.9A111.0,111.0 0 0 1 577.1,1039.3M584.5,1037.9L587.0,1049.7M577.1,1039.3L577.5,1042.2M579.7,1041.9A114.0,114.0 0 0 1 575.4,1042.5M579.7,1041.9L580.2,1044.9M582.0,1044.5A117.0,117.0 0 0 1 578.3,1045.1M582.0,1044.5L582.6,1047.5M583.8,1047.2A120.0,120.0 0 0 1 581.3,1047.7M583.8,1047.2L584.4,1050.2M581.3,1047.7L581.8,1050.7M578.3,1045.1L579.1,1051.1M575.4,1042.5L576.5,1051.4M543.1,983.5L542.2,986.3M558.8,989.4A60.0,60.0 0 0 1 527.1,978.7M558.8,989.4L557.3,1028.3M567.0,1028.2A99.0,99.0 0 0 1 547.5,1027.5M567.0,1028.2L567.6,1037.2M572.3,1036.8A108.0,108.0 0 0 1 562.8,1037.4M572.3,1036.8L573.9,1051.7M562.8,1037.4L562.9,1040.4M565.1,1040.3A111.0,111.0 0 0 1 560.6,1040.4M565.1,1040.3L565.2,1043.3M567.4,1043.2A114.0,114.0 0 0 1 563.1,1043.4M567.4,1043.2L567.5,1046.2M569.4,1046.1A117.0,117.0 0 0 1 565.6,1046.3M569.4,1046.1L569.7,1049.1M571.0,1049.0A120.0,120.0 0 0 1 568.4,1049.2M571.0,1049.0L571.2,1052.0M568.4,1049.2L568.5,1052.2M565.6,1046.3L565.9,1052.3M563.1,1043.4L563.2,1052.4M560.6,1040.4L560.5,1052.4M547.5,1027.5L547.1,1030.4M556.5,1031.3A102.0,102.0 0 0 1 537.9,1028.7M556.5,1031.3L555.9,1043.3M558.1,1043.4A114.0,114.0 0 0 1 553.8,1043.2M558.1,1043.4L557.9,1052.4M553.8,1043.2L553.6,1046.2M555.5,1046.3A117.0,117.0 0 0 1 551.7,1046.0M555.5,1046.3L555.2,1052.3M551.7,1046.0L551.4,1049.0M552.7,1049.1A120.0,120.0 0 0 1 550.2,1048.9M552.7,1049.1L552.5,1052.1M550.2,1048.9L549.9,1051.9M537.9,1028.7L537.2,1031.6M540.8,1032.4A105.0,105.0 0 0 1 533.6,1030.7M540.8,1032.4L540.2,1035.3M545.3,1036.2A108.0,108.0 0 0 1 535.1,1034.2M545.3,1036.2L544.9,1039.2M548.6,1039.7A111.0,111.0 0 0 1 541.1,1038.6M548.6,1039.7L547.2,1051.6M541.1,1038.6L540.6,1041.5M544.0,1042.1A114.0,114.0 0 0 1 537.3,1040.9M544.0,1042.1L543.5,1045.1M545.4,1045.3A117.0,117.0 0 0 1 541.6,1044.8M545.4,1045.3L544.6,1051.3M541.6,1044.8L541.1,1047.7M542.4,1047.9A120.0,120.0 0 0 1 539.8,1047.5M542.4,1047.9L541.9,1050.9M539.8,1047.5L539.3,1050.4M537.3,1040.9L536.0,1046.7M537.3,1047.0A120.0,120.0 0 0 1 534.7,1046.4M537.3,1047.0L536.7,1049.9M534.7,1046.4L534.1,1049.4M535.1,1034.2L531.5,1048.8M533.6,1030.7L528.9,1048.1M527.1,978.7L525.4,981.2M537.7,987.9A63.0,63.0 0 0 1 514.8,972.0M537.7,987.9L523.2,1024.1M530.4,1026.6A102.0,102.0 0 0 1 516.2,1020.9M530.4,1026.6L526.8,1038.1M528.9,1038.7A114.0,114.0 0 0 1 524.8,1037.4M528.9,1038.7L526.3,1047.4M524.8,1037.4L523.8,1040.3M525.6,1040.9A117.0,117.0 0 0 1 522.0,1039.6M525.6,1040.9L523.8,1046.6M522.0,1039.6L521.0,1042.5M522.2,1042.9A120.0,120.0 0 0 1 519.8,1042.0M522.2,1042.9L521.2,1045.7M519.8,1042.0L518.7,1044.8M516.2,1020.9L514.9,1023.6M520.2,1026.1A105.0,105.0 0 0 1 509.8,1020.9M520.2,1026.1L515.5,1037.1M517.2,1037.8A117.0,117.0 0 0 1 513.7,1036.3M517.2,1037.8L516.1,1040.6M517.3,1041.1A120.0,120.0 0 0 1 514.9,1040.1M517.3,1041.1L516.2,1043.9M514.9,1040.1L513.8,1042.9M513.7,1036.3L511.3,1041.8M509.8,1020.9L508.3,1023.6M512.9,1026.0A108.0,108.0 0 0 1 503.8,1020.9M512.9,1026.0L510.2,1031.4M512.7,1032.6A114.0,114.0 0 0 1 507.7,1030.1M512.7,1032.6L508.9,1040.7M507.7,1030.1L506.3,1032.7M508.0,1033.6A117.0,117.0 0 0 1 504.7,1031.8M508.0,1033.6L506.7,1036.3M507.8,1036.9A120.0,120.0 0 0 1 505.5,1035.7M507.8,1036.9L506.5,1039.6M505.5,1035.7L504.1,1038.3M504.7,1031.8L501.8,1037.1M503.8,1020.9L502.2,1023.4M505.5,1025.4A111.0,111.0 0 0 1 499.1,1021.4M505.5,1025.4L499.4,1035.8M499.1,1021.4L497.4,1023.9M499.2,1025.1A114.0,114.0 0 0 1 495.6,1022.7M499.2,1025.1L497.6,1027.6M499.2,1028.6A117.0,117.0 0 0 1 496.0,1026.5M499.2,1028.6L497.6,1031.2M498.7,1031.8A120.0,120.0 0 0 1 496.5,1030.5M498.7,1031.8L497.1,1034.4M496.5,1030.5L494.9,1033.0M496.0,1026.5L492.6,1031.5M495.6,1022.7L490.4,1030.0M514.8,972.0L512.6,974.0M518.4,979.7A66.0,66.0 0 0 1 507.4,967.7M518.4,979.7L489.3,1013.9M493.7,1017.5A111.0,111.0 0 0 1 485.0,1010.1M493.7,1017.5L491.9,1019.9M493.6,1021.2A114.0,114.0 0 0 1 490.2,1018.6M493.6,1021.2L488.3,1028.5M490.2,1018.6L488.3,1020.9M489.8,1022.1A117.0,117.0 0 0 1 486.8,1019.7M489.8,1022.1L486.1,1026.8M486.8,1019.7L484.9,1022.0M485.9,1022.9A120.0,120.0 0 0 1 483.9,1021.2M485.9,1022.9L484.1,1025.2M483.9,1021.2L482.0,1023.5M485.0,1010.1L482.9,1012.3M485.0,1014.2A114.0,114.0 0 0 1 480.9,1010.4M485.0,1014.2L481.0,1018.6M481.9,1019.5A120.0,120.0 0 0 1 480.0,1017.8M481.9,1019.5L480.0,1021.8M480.0,1017.8L478.0,1020.0M480.9,1010.4L478.8,1012.5M480.2,1013.8A117.0,117.0 0 0 1 477.5,1011.1M480.2,1013.8L476.0,1018.2M477.5,1011.1L475.3,1013.2M476.3,1014.2A120.0,120.0 0 0 1 474.4,1012.3M476.3,1014.2L474.1,1016.3M474.4,1012.3L472.3,1014.4M507.4,967.7L505.0,969.4M509.4,975.0A69.0,69.0 0 0 1 501.2,963.4M509.4,975.0L475.6,1004.7M477.1,1006.3A114.0,114.0 0 0 1 474.2,1003.1M477.1,1006.3L470.4,1012.4M474.2,1003.1L471.9,1005.0M473.2,1006.5A117.0,117.0 0 0 1 470.7,1003.6M473.2,1006.5L468.7,1010.4M470.7,1003.6L468.4,1005.5M469.2,1006.5A120.0,120.0 0 0 1 467.6,1004.5M469.2,1006.5L466.9,1008.4M467.6,1004.5L465.2,1006.3M501.2,963.4L498.6,964.9M503.4,972.3A72.0,72.0 0 0 1 494.7,957.0M503.4,972.3L467.2,999.1M468.4,1000.6A117.0,117.0 0 0 1 466.1,997.5M468.4,1000.6L463.6,1004.2M466.1,997.5L463.6,999.3M464.4,1000.3A120.0,120.0 0 0 1 462.9,998.2M464.4,1000.3L462.0,1002.1M462.9,998.2L460.4,999.9M494.7,957.0L491.9,958.1M498.4,970.4A75.0,75.0 0 0 1 487.8,944.9M498.4,970.4L460.7,995.0M461.4,996.1A120.0,120.0 0 0 1 460.0,993.9M461.4,996.1L458.9,997.7M460.0,993.9L457.5,995.5M487.8,944.9L484.9,945.5M494.5,969.9A78.0,78.0 0 0 1 483.9,919.3M494.5,969.9L456.1,993.2M483.9,919.3L480.9,918.9M480.4,935.4A81.0,81.0 0 0 1 484.6,902.9M480.4,935.4L477.4,935.6M483.9,962.2A84.0,84.0 0 0 1 479.9,908.3M483.9,962.2L481.1,963.4M485.1,971.5A87.0,87.0 0 0 1 478.0,955.0M485.1,971.5L461.4,984.6M462.5,986.4A114.0,114.0 0 0 1 460.4,982.7M462.5,986.4L454.7,990.9M460.4,982.7L457.7,984.1M458.7,985.7A117.0,117.0 0 0 1 456.9,982.4M458.7,985.7L453.4,988.6M456.9,982.4L454.2,983.7M454.8,984.9A120.0,120.0 0 0 1 453.6,982.6M454.8,984.9L452.1,986.3M453.6,982.6L450.9,983.9M478.0,955.0L475.2,955.9M479.3,966.6A90.0,90.0 0 0 1 472.5,944.7M479.3,966.6L451.9,979.0M452.5,980.2A120.0,120.0 0 0 1 451.4,977.8M452.5,980.2L449.8,981.5M451.4,977.8L448.7,979.1M472.5,944.7L469.5,945.2M474.2,962.3A93.0,93.0 0 0 1 468.2,927.5M474.2,962.3L451.8,970.8M452.7,973.1A117.0,117.0 0 0 1 450.9,968.4M452.7,973.1L449.9,974.2M450.4,975.4A120.0,120.0 0 0 1 449.4,973.0M450.4,975.4L447.6,976.6M449.4,973.0L446.6,974.1M450.9,968.4L448.1,969.4M448.5,970.6A120.0,120.0 0 0 1 447.6,968.1M448.5,970.6L445.7,971.6M447.6,968.1L444.8,969.1M468.2,927.5L465.2,927.4M466.0,942.0A96.0,96.0 0 0 1 466.6,912.9M466.0,942.0L463.1,942.4M465.3,954.2A99.0,99.0 0 0 1 462.2,930.4M465.3,954.2L450.8,957.9M452.0,962.1A114.0,114.0 0 0 1 449.8,953.7M452.0,962.1L449.1,962.9M449.7,964.8A117.0,117.0 0 0 1 448.6,961.1M449.7,964.8L444.0,966.6M448.6,961.1L445.7,961.9M446.1,963.2A120.0,120.0 0 0 1 445.3,960.7M446.1,963.2L443.2,964.0M445.3,960.7L442.5,961.5M449.8,953.7L446.9,954.3M447.3,956.2A117.0,117.0 0 0 1 446.5,952.5M447.3,956.2L444.4,956.9M444.7,958.2A120.0,120.0 0 0 1 444.1,955.6M444.7,958.2L441.8,958.9M444.1,955.6L441.2,956.3M446.5,952.5L440.6,953.7M462.2,930.4L459.2,930.4M459.6,937.9A102.0,102.0 0 0 1 459.4,923.0M459.6,937.9L456.6,938.2M457.5,945.9A105.0,105.0 0 0 1 456.2,930.4M457.5,945.9L448.6,947.3M449.0,949.5A114.0,114.0 0 0 1 448.3,945.2M449.0,949.5L440.1,951.0M448.3,945.2L445.3,945.6M445.6,947.5A117.0,117.0 0 0 1 445.1,943.7M445.6,947.5L439.7,948.4M445.1,943.7L442.1,944.1M442.3,945.4A120.0,120.0 0 0 1 441.9,942.8M442.3,945.4L439.3,945.8M441.9,942.8L439.0,943.1M456.2,930.4L453.2,930.4M453.3,933.4A108.0,108.0 0 0 1 453.2,927.4M453.3,933.4L450.3,933.5M450.5,937.3A111.0,111.0 0 0 1 450.2,929.8M450.5,937.3L447.5,937.5M447.7,939.7A114.0,114.0 0 0 1 447.4,935.3M447.7,939.7L438.7,940.5M447.4,935.3L444.4,935.5M444.5,937.4A117.0,117.0 0 0 1 444.3,933.6M444.5,937.4L438.5,937.8M444.3,933.6L441.3,933.7M441.3,935.0A120.0,120.0 0 0 1 441.2,932.4M441.3,935.0L438.3,935.1M441.2,932.4L438.2,932.5M450.2,929.8L438.2,929.8M453.2,927.4L438.2,927.1M459.4,923.0L450.4,922.4M450.3,925.0A111.0,111.0 0 0 1 450.6,919.8M450.3,925.0L438.3,924.5M450.6,919.8L447.6,919.6M447.4,922.4A114.0,114.0 0 0 1 447.9,916.8M447.4,922.4L438.4,921.8M447.9,916.8L444.9,916.5M444.7,918.4A117.0,117.0 0 0 1 445.1,914.6M444.7,918.4L441.7,918.1M441.6,919.4A120.0,120.0 0 0 1 441.9,916.8M441.6,919.4L438.6,919.1M441.9,916.8L438.9,916.5M445.1,914.6L439.2,913.8M466.6,912.9L448.9,909.8M448.5,912.5A114.0,114.0 0 0 1 449.4,907.0M448.5,912.5L439.6,911.2M449.4,907.0L446.5,906.5M446.1,908.3A117.0,117.0 0 0 1 446.9,904.6M446.1,908.3L443.2,907.8M442.9,909.1A120.0,120.0 0 0 1 443.4,906.5M442.9,909.1L440.0,908.6M443.4,906.5L440.5,905.9M446.9,904.6L441.0,903.3M479.9,908.3L450.9,900.7M450.3,902.8A114.0,114.0 0 0 1 451.4,898.6M450.3,902.8L441.6,900.7M451.4,898.6L448.5,897.8M448.0,899.7A117.0,117.0 0 0 1 449.1,896.0M448.0,899.7L442.2,898.1M449.1,896.0L446.2,895.1M445.8,896.4A120.0,120.0 0 0 1 446.6,893.9M445.8,896.4L442.9,895.6M446.6,893.9L443.7,893.0M484.6,902.9L447.8,890.2M447.4,891.4A120.0,120.0 0 0 1 448.2,888.9M447.4,891.4L444.5,890.5M448.2,888.9L445.4,887.9" fill="none" stroke="#21aecb" stroke-width="1.1"/>
<path d="M448.0,864.6A130.4,130.4 0 0 1 627.4,817.1" fill="none" stroke="#2451a6" stroke-width="3.6"/>
<path d="M627.4,817.1A130.4,130.4 0 0 1 632.2,820.0" fill="none" stroke="#e2432c" stroke-width="3.6"/>
<path d="M632.2,820.0A130.4,130.4 0 0 1 639.2,824.9" fill="none" stroke="#a65bb5" stroke-width="3.6"/>
<path d="M639.2,824.9A130.4,130.4 0 0 1 690.6,912.9" fill="none" stroke="#e2432c" stroke-width="3.6"/>
<path d="M690.6,912.9A130.4,130.4 0 0 1 691.6,932.7" fill="none" stroke="#a65bb5" stroke-width="3.6"/>
<path d="M691.6,932.7A130.4,130.4 0 0 1 691.5,935.5" fill="none" stroke="#e2432c" stroke-width="3.6"/>
<path d="M691.5,935.5A130.4,130.4 0 0 1 690.0,949.6" fill="none" stroke="#21aecb" stroke-width="3.6"/>
<path d="M690.0,949.6A130.4,130.4 0 0 1 689.6,952.3" fill="none" stroke="#e2432c" stroke-width="3.6"/>
<path d="M689.6,952.3A130.4,130.4 0 1 1 438.9,884.1" fill="none" stroke="#21aecb" stroke-width="3.6"/>
<path d="M441.8,860.2A138,138 0 0 1 447.3,851.4" fill="none" stroke="#1f6fb7" stroke-width="3.5"/>
<path d="M447.3,851.4A138,138 0 0 1 518.6,798.2" fill="none" stroke="#7d7a35" stroke-width="3.5"/>
<path d="M518.6,798.2A138,138 0 0 1 526.9,795.7" fill="none" stroke="#a0328c" stroke-width="3.5"/>
<path d="M526.9,795.7A138,138 0 0 1 568.2,791.6" fill="none" stroke="#ee7a1c" stroke-width="3.5"/>
<path d="M568.2,791.6A138,138 0 0 1 577.1,792.3" fill="none" stroke="#d857a7" stroke-width="3.5"/>
<path d="M577.1,792.3A138,138 0 0 1 627.9,808.6" fill="none" stroke="#c8102e" stroke-width="3.5"/>
<text x="360.5" y="794.1" font-size="13.5" font-weight="bold" color="#231815">G</text>
<text x="394" y="843.5" font-size="8.4" font-style="italic" color="#1f6fb7">C.pyrenaica</text>
<text x="443" y="807.6" font-size="8.4" font-style="italic" color="#7d7a35">C.ibex</text>
<text x="471.7" y="789.5" font-size="8.4" font-style="italic" color="#a0328c">C.nubiana</text>
<text x="499" y="770.2" font-size="8.4" font-style="italic" color="#ee7a1c">C.sibirica</text>
<text x="542.5" y="769.2" font-size="8.4" font-style="italic" color="#d857a7">C.falconeri</text>
<text x="590" y="771.2" font-size="8.4" font-style="italic" color="#c8102e">C.aegagrus</text>
<text x="678.2" y="858.2" font-size="8.8" text-anchor="middle" color="#e2432c" transform="rotate(57 678.2 858.2)">Asian</text>
<text x="696.8" y="921.5" font-size="8.8" text-anchor="middle" color="#a65bb5" transform="rotate(88 696.8 921.5)">African</text>
<text x="475.5" y="1054" font-size="8.8" text-anchor="middle" color="#21aecb">European</text>
<path d="M436,847.3L443,854.3" stroke="#1f6fb7" stroke-width="0.5" fill="none"/>
<path d="M467.1,808.5L475.6,819.3" stroke="#7d7a35" stroke-width="0.5" fill="none"/>
<path d="M510.6,787.4L522.2,795.7" stroke="#a0328c" stroke-width="0.5" fill="none"/>
<path d="M531.5,771.5L543.2,791.3" stroke="#ee7a1c" stroke-width="0.5" fill="none"/>
<path d="M570.5,771.5L572.5,790.5" stroke="#d857a7" stroke-width="0.5" fill="none"/>
<path d="M609,773L601.5,795" stroke="#c8102e" stroke-width="0.5" fill="none"/>
<path d="M181.5,123.4L184.1,125.3L183.1,128.3L179.9,128.3L178.9,125.3ZM247.4,154.3L250.0,156.2L249.0,159.2L245.8,159.2L244.8,156.2ZM252.7,160.6L255.3,162.5L254.3,165.5L251.1,165.5L250.1,162.5ZM264.2,161.5L266.8,163.4L265.8,166.4L262.6,166.4L261.6,163.4ZM283.9,174.9L286.5,176.8L285.5,179.8L282.3,179.8L281.3,176.8ZM312.9,160.0L315.5,161.9L314.5,164.9L311.3,164.9L310.3,161.9ZM311.8,158.9L314.4,160.8L313.4,163.8L310.2,163.8L309.2,160.8ZM313.6,176.8L316.2,178.7L315.2,181.7L312.0,181.7L311.0,178.7ZM337.1,183.5L339.7,185.4L338.7,188.4L335.5,188.4L334.5,185.4ZM323.1,190.5L325.7,192.4L324.7,195.4L321.5,195.4L320.5,192.4ZM322.5,185.4L325.1,187.3L324.1,190.3L320.9,190.3L319.9,187.3ZM285.6,196.9L288.2,198.8L287.2,201.8L284.0,201.8L283.0,198.8ZM288.1,195.6L290.7,197.5L289.7,200.5L286.5,200.5L285.5,197.5ZM286.5,198.3L289.1,200.2L288.1,203.2L284.9,203.2L283.9,200.2ZM347.7,175.0L350.3,176.9L349.3,179.9L346.1,179.9L345.1,176.9ZM354.1,180.7L356.7,182.6L355.7,185.6L352.5,185.6L351.5,182.6ZM375.7,174.6L378.3,176.5L377.3,179.5L374.1,179.5L373.1,176.5ZM501.4,166.1L504.0,168.0L503.0,171.0L499.8,171.0L498.8,168.0ZM496.8,168.3L499.4,170.2L498.4,173.2L495.2,173.2L494.2,170.2ZM502.5,171.2L505.1,173.1L504.1,176.1L500.9,176.1L499.9,173.1ZM494.1,172.6L496.7,174.5L495.7,177.5L492.5,177.5L491.5,174.5ZM483.9,181.9L486.5,183.8L485.5,186.8L482.3,186.8L481.3,183.8ZM499.7,186.6L502.3,188.5L501.3,191.5L498.1,191.5L497.1,188.5ZM485.3,187.2L487.9,189.1L486.9,192.1L483.7,192.1L482.7,189.1Z" fill="#2fb7d6"/>
<path d="M263.3,75.0l4.9,4.9M268.2,75.0l-4.9,4.9M192.7,133.2l4.9,4.9M197.5,133.2l-4.9,4.9M208.4,141.5l4.9,4.9M213.2,141.5l-4.9,4.9M210.2,142.8l4.9,4.9M215.1,142.8l-4.9,4.9M212.2,140.9l4.9,4.9M217.0,140.9l-4.9,4.9M213.4,143.4l4.9,4.9M218.2,143.4l-4.9,4.9M211.5,144.7l4.9,4.9M216.3,144.7l-4.9,4.9M214.7,142.2l4.9,4.9M219.5,142.2l-4.9,4.9M216.0,139.6l4.9,4.9M220.8,139.6l-4.9,4.9M209.6,146.0l4.9,4.9M214.4,146.0l-4.9,4.9M207.7,144.1l4.9,4.9M212.5,144.1l-4.9,4.9M215.4,137.7l4.9,4.9M220.2,137.7l-4.9,4.9M212.8,139.0l4.9,4.9M217.6,139.0l-4.9,4.9M206.5,149.2l4.9,4.9M211.3,149.2l-4.9,4.9M210.6,141.6l4.9,4.9M215.4,141.6l-4.9,4.9M211.6,143.1l4.9,4.9M216.4,143.1l-4.9,4.9M213.6,140.6l4.9,4.9M218.4,140.6l-4.9,4.9M250.2,144.7l4.9,4.9M255.1,144.7l-4.9,4.9M286.9,125.3l4.9,4.9M291.8,125.3l-4.9,4.9M288.2,126.6l4.9,4.9M293.1,126.6l-4.9,4.9M287.9,129.5l4.9,4.9M292.8,129.5l-4.9,4.9M288.4,132.6l4.9,4.9M293.3,132.6l-4.9,4.9M289.2,135.8l4.9,4.9M294.1,135.8l-4.9,4.9M294.6,139.6l4.9,4.9M299.4,139.6l-4.9,4.9M295.9,140.9l4.9,4.9M300.8,140.9l-4.9,4.9M295.2,142.2l4.9,4.9M300.1,142.2l-4.9,4.9M294.9,140.6l4.9,4.9M299.8,140.6l-4.9,4.9M293.4,148.5l4.9,4.9M298.2,148.5l-4.9,4.9M189.2,156.8l4.9,4.9M194.1,156.8l-4.9,4.9M172.1,166.9l4.9,4.9M176.9,166.9l-4.9,4.9M185.2,166.0l4.9,4.9M190.0,166.0l-4.9,4.9M177.6,178.4l4.9,4.9M182.4,178.4l-4.9,4.9M206.8,152.0l4.9,4.9M211.6,152.0l-4.9,4.9M280.6,203.2l4.9,4.9M285.4,203.2l-4.9,4.9M400.9,158.7l4.9,4.9M405.8,158.7l-4.9,4.9M377.1,172.7l4.9,4.9M381.9,172.7l-4.9,4.9M380.9,174.9l4.9,4.9M385.8,174.9l-4.9,4.9M429.1,149.6l4.9,4.9M433.9,149.6l-4.9,4.9M388.9,190.2l4.9,4.9M393.8,190.2l-4.9,4.9M316.4,222.2l4.9,4.9M321.2,222.2l-4.9,4.9M264.2,363.2l4.9,4.9M269.1,363.2l-4.9,4.9" stroke="#dd2e9f" stroke-width="1.2" fill="none"/>
<g fill="none" stroke-width="1.4">
<circle cx="255" cy="80.75" r="2" stroke="#f3bcd9"/><circle cx="331.4" cy="185.6" r="2" stroke="#d4449c"/><circle cx="329.8" cy="196.8" r="2" stroke="#d4449c"/><circle cx="334.5" cy="205.3" r="2" stroke="#d4449c"/><circle cx="399.6" cy="172.3" r="2" stroke="#d4449c"/><circle cx="347.7" cy="179.3" r="2" stroke="#d4449c"/><circle cx="346.9" cy="203.2" r="2" stroke="#d4449c"/></g>
<path d="M182.7,132.0l4.9,4.9M187.5,132.0l-4.9,4.9M182.9,139.6l4.9,4.9M187.8,139.6l-4.9,4.9M184.8,137.7l4.9,4.9M189.6,137.7l-4.9,4.9M186.1,140.2l4.9,4.9M190.9,140.2l-4.9,4.9M184.2,142.8l4.9,4.9M189.0,142.8l-4.9,4.9M186.1,144.7l4.9,4.9M190.9,144.7l-4.9,4.9M187.4,146.6l4.9,4.9M192.2,146.6l-4.9,4.9M185.5,136.5l4.9,4.9M190.3,136.5l-4.9,4.9M183.6,141.5l4.9,4.9M188.4,141.5l-4.9,4.9M182.2,138.1l4.9,4.9M187.0,138.1l-4.9,4.9M185.0,141.4l4.9,4.9M189.8,141.4l-4.9,4.9M204.5,133.2l4.9,4.9M209.3,133.2l-4.9,4.9M201.4,144.7l4.9,4.9M206.2,144.7l-4.9,4.9M203.2,145.4l4.9,4.9M208.1,145.4l-4.9,4.9M204.5,146.0l4.9,4.9M209.3,146.0l-4.9,4.9M202.6,146.6l4.9,4.9M207.4,146.6l-4.9,4.9M202.2,145.2l4.9,4.9M207.0,145.2l-4.9,4.9M202.0,151.7l4.9,4.9M206.8,151.7l-4.9,4.9M201.4,154.2l4.9,4.9M206.2,154.2l-4.9,4.9M186.8,148.2l4.9,4.9M191.6,148.2l-4.9,4.9M280.9,127.1l4.9,4.9M285.8,127.1l-4.9,4.9M320.9,186.1l4.9,4.9M325.8,186.1l-4.9,4.9M401.2,185.4l4.9,4.9M406.1,185.4l-4.9,4.9M386.9,186.1l4.9,4.9M391.8,186.1l-4.9,4.9M531.4,161.5l4.9,4.9M536.4,161.5l-4.9,4.9M520.6,177.9l4.9,4.9M525.6,177.9l-4.9,4.9M486.8,183.9l4.9,4.9M491.6,183.9l-4.9,4.9M481.9,194.6l4.9,4.9M486.8,194.6l-4.9,4.9M495.6,193.8l4.9,4.9M500.4,193.8l-4.9,4.9M504.9,198.0l4.9,4.9M509.8,198.0l-4.9,4.9M437.1,218.0l4.9,4.9M441.9,218.0l-4.9,4.9M437.1,221.4l4.9,4.9M441.9,221.4l-4.9,4.9M478.1,218.4l4.9,4.9M482.9,218.4l-4.9,4.9M491.8,231.6l4.9,4.9M496.6,231.6l-4.9,4.9M386.9,188.1l4.9,4.9M391.8,188.1l-4.9,4.9M387.8,194.5l4.9,4.9M392.6,194.5l-4.9,4.9M391.7,197.6l4.9,4.9M396.6,197.6l-4.9,4.9M384.4,201.7l4.9,4.9M389.2,201.7l-4.9,4.9M372.4,217.4l4.9,4.9M377.3,217.4l-4.9,4.9M189.4,272.2l4.9,4.9M194.2,272.2l-4.9,4.9M316.2,265.9l4.9,4.9M321.1,265.9l-4.9,4.9M281.4,297.7l4.9,4.9M286.3,297.7l-4.9,4.9M268.4,311.8l4.9,4.9M273.3,311.8l-4.9,4.9M267.7,314.6l4.9,4.9M272.6,314.6l-4.9,4.9M267.1,316.9l4.9,4.9M271.9,316.9l-4.9,4.9" stroke="#231f20" stroke-width="1.15" fill="none"/>
<g fill="none" stroke="#231f20" stroke-width="1.4">
<circle cx="234.5" cy="39.5" r="2"/><circle cx="219.5" cy="60.75" r="2"/><circle cx="231.5" cy="64.25" r="2"/><circle cx="239" cy="61.25" r="2"/><circle cx="204.5" cy="70.5" r="2"/><circle cx="207.5" cy="80.75" r="2"/><circle cx="232.75" cy="78.25" r="2"/><circle cx="234" cy="87.25" r="2"/><circle cx="264" cy="53.75" r="2"/><circle cx="182" cy="85.75" r="2"/><circle cx="135.75" cy="52.5" r="2"/><circle cx="144.5" cy="50.5" r="2"/><circle cx="173.3" cy="98.2" r="2"/><circle cx="177.5" cy="98.8" r="2"/><circle cx="176.4" cy="118.5" r="2"/><circle cx="179" cy="116.6" r="2"/><circle cx="181.5" cy="117.9" r="2"/><circle cx="184.1" cy="119.8" r="2"/><circle cx="180.9" cy="123.6" r="2"/><circle cx="185.3" cy="125.8" r="2"/><circle cx="178.3" cy="117.2" r="2"/><circle cx="202.1" cy="117.2" r="2"/><circle cx="206.3" cy="117.9" r="2"/><circle cx="208.2" cy="120.4" r="2"/><circle cx="203.8" cy="121.7" r="2"/><circle cx="217.1" cy="125.8" r="2"/><circle cx="216.5" cy="129.1" r="2"/><circle cx="231.7" cy="131.6" r="2"/><circle cx="238.3" cy="132.5" r="2"/><circle cx="247.9" cy="131.9" r="2"/><circle cx="252.7" cy="136.9" r="2"/><circle cx="212" cy="139.5" r="2"/><circle cx="219.9" cy="141" r="2"/><circle cx="195.5" cy="144.6" r="2"/><circle cx="194.9" cy="149.7" r="2"/><circle cx="230.5" cy="153.5" r="2"/><circle cx="245.7" cy="152.2" r="2"/><circle cx="324.7" cy="118.5" r="2"/><circle cx="315.8" cy="150.5" r="2"/><circle cx="182.5" cy="169.1" r="2"/><circle cx="172.6" cy="175.4" r="2"/><circle cx="233.4" cy="156.1" r="2"/><circle cx="233.6" cy="165.9" r="2"/><circle cx="239.4" cy="168.8" r="2"/><circle cx="230.5" cy="197" r="2"/><circle cx="318.6" cy="157" r="2"/><circle cx="316.1" cy="168.4" r="2"/><circle cx="317.4" cy="168.8" r="2"/><circle cx="321.2" cy="168.4" r="2"/><circle cx="320.2" cy="173.5" r="2"/><circle cx="317.4" cy="177.1" r="2"/><circle cx="323.5" cy="182" r="2"/><circle cx="327.5" cy="183.3" r="2"/><circle cx="307.2" cy="187.5" r="2"/><circle cx="312.5" cy="201.5" r="2"/><circle cx="273.5" cy="200.6" r="2"/><circle cx="418.9" cy="146.5" r="2"/><circle cx="418.9" cy="154.2" r="2"/><circle cx="415.7" cy="158.6" r="2"/><circle cx="386.9" cy="159.5" r="2"/><circle cx="402.1" cy="157.3" r="2"/><circle cx="402.5" cy="157.6" r="2"/><circle cx="408.1" cy="170.9" r="2"/><circle cx="412.9" cy="180.8" r="2"/><circle cx="358.5" cy="182.4" r="2"/><circle cx="387.5" cy="185.3" r="2"/><circle cx="380.8" cy="188.7" r="2"/><circle cx="446.3" cy="132.4" r="2"/><circle cx="467.5" cy="130" r="2"/><circle cx="481.9" cy="126.9" r="2"/><circle cx="482.3" cy="127.2" r="2"/><circle cx="468.8" cy="136.8" r="2"/><circle cx="469.2" cy="140.2" r="2"/><circle cx="432.4" cy="141.9" r="2"/><circle cx="428" cy="165.6" r="2"/><circle cx="508.5" cy="140" r="2"/><circle cx="510.7" cy="155.8" r="2"/><circle cx="486.6" cy="178.1" r="2"/><circle cx="515.8" cy="179.5" r="2"/><circle cx="509.8" cy="181.5" r="2"/><circle cx="506.1" cy="184.1" r="2"/><circle cx="512.4" cy="185.4" r="2"/><circle cx="514.1" cy="185.9" r="2"/><circle cx="477.3" cy="188.8" r="2"/><circle cx="471.7" cy="189.7" r="2"/><circle cx="480.75" cy="73.75" r="2"/><circle cx="402.5" cy="120.5" r="2"/><circle cx="472.2" cy="191.4" r="2"/><circle cx="472.5" cy="194.5" r="2"/><circle cx="472.9" cy="195.3" r="2"/><circle cx="485.8" cy="193.6" r="2"/><circle cx="522.2" cy="196.2" r="2"/><circle cx="420" cy="207.5" r="2"/><circle cx="429.3" cy="212.6" r="2"/><circle cx="437.3" cy="207.2" r="2"/><circle cx="450" cy="206.4" r="2"/><circle cx="465.3" cy="210.9" r="2"/><circle cx="462" cy="219.9" r="2"/><circle cx="394.9" cy="196.1" r="2"/><circle cx="352.4" cy="211.9" r="2"/><circle cx="375.4" cy="219.3" r="2"/><circle cx="386.8" cy="204.1" r="2"/><circle cx="419.5" cy="208" r="2"/><circle cx="410.5" cy="251.2" r="2"/><circle cx="411" cy="255.1" r="2"/><circle cx="405.1" cy="258" r="2"/><circle cx="401.2" cy="259.7" r="2"/><circle cx="399.8" cy="263.4" r="2"/><circle cx="405.3" cy="265.8" r="2"/><circle cx="410.7" cy="264.9" r="2"/><circle cx="496.4" cy="313.2" r="2"/><circle cx="277.1" cy="223.1" r="2"/><circle cx="298.8" cy="262.9" r="2"/><circle cx="301.1" cy="266.4" r="2"/><circle cx="289.3" cy="271.2" r="2"/><circle cx="261" cy="211.6" r="2"/><circle cx="235.3" cy="241.3" r="2"/><circle cx="229.9" cy="251.5" r="2"/><circle cx="215" cy="252.9" r="2"/><circle cx="216.1" cy="258.2" r="2"/><circle cx="186.2" cy="252" r="2"/><circle cx="179.1" cy="258.5" r="2"/><circle cx="190.1" cy="259.7" r="2"/><circle cx="222.9" cy="277.2" r="2"/><circle cx="256.8" cy="378.6" r="2"/><circle cx="76.8" cy="301.7" r="2"/><circle cx="82.2" cy="305.9" r="2"/><circle cx="84.5" cy="321.8" r="2"/><circle cx="37.3" cy="349.7" r="2"/></g>
<circle cx="101.7" cy="353.8" r="2.85" fill="none" stroke="#231f20" stroke-width="2.5"/><circle cx="101.7" cy="367.6" r="2.85" fill="none" stroke="#d4449c" stroke-width="2.5"/><path d="M97.9,378.0l7.6,7.6M105.5,378.0l-7.6,7.6" stroke="#231f20" stroke-width="1" fill="none"/><path d="M97.9,392.2l7.6,7.6M105.5,392.2l-7.6,7.6" stroke="#d4449c" stroke-width="1" fill="none"/><path d="M101.7,404.9L105.9,407.9L104.3,412.9L99.1,412.9L97.5,407.9Z" fill="#2fb7d6"/>
<text x="113.2" y="357.8" font-size="12" color="#111">Domestic sheep</text>
<text x="113.2" y="371.6" font-size="12" color="#111">Wild sheep</text>
<text x="113.2" y="385.8" font-size="12" color="#111">Domestic goats</text>
<text x="113.2" y="400" font-size="12" color="#111">Wild goats</text>
<text x="113.2" y="413" font-size="12" color="#111">Ancient goats</text>
<text x="-0.6" y="13.7" font-size="20.5" font-weight="bold" color="#231815">A</text>
<rect x="16.8" y="1.4" width="689.7" height="432.1" fill="none" stroke="#000" stroke-width="1.6"/>
</svg></body></html>
